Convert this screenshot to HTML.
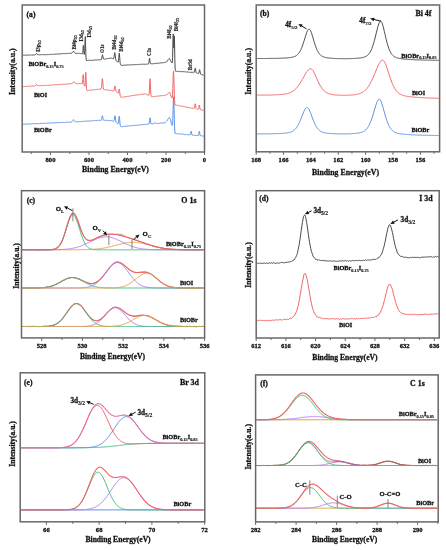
<!DOCTYPE html>
<html><head><meta charset="utf-8"><style>
html,body{margin:0;padding:0;background:#fff;}
svg{display:block;font-family:"Liberation Serif", serif;}
svg{will-change:transform;}
</style></head><body>
<svg width="446" height="550" viewBox="0 0 446 550">
<rect width="446" height="550" fill="#fff"/>
<path d="M22.8,124.2L23.1,124.3L23.3,124.2L23.6,124.3L23.8,124.3L24.1,124.1L24.3,124.1L24.6,124.3L24.8,124.1L25.1,124.1L25.3,124.3L25.6,124.1L25.8,124.2L26.1,124.1L26.3,124.1L26.6,124.0L26.8,124.1L27.1,124.2L27.3,124.1L27.6,124.1L27.8,124.1L28.1,123.9L28.3,124.1L28.6,124.0L28.8,123.9L29.1,123.8L29.3,124.1L29.6,124.0L29.8,124.0L30.1,124.1L30.3,124.0L30.6,124.0L30.8,123.9L31.1,124.0L31.3,123.9L31.6,124.0L31.8,124.0L32.0,123.7L32.3,123.7L32.5,123.7L32.8,124.0L33.0,123.8L33.3,123.8L33.5,123.7L33.8,123.8L34.0,123.7L34.3,123.7L34.5,123.8L34.8,123.7L35.0,123.8L35.3,123.8L35.5,123.8L35.8,123.8L36.0,123.8L36.3,123.7L36.5,123.5L36.8,123.7L37.0,123.8L37.3,123.7L37.5,123.6L37.8,123.7L38.0,123.5L38.3,123.7L38.5,123.6L38.8,123.5L39.0,123.4L39.3,123.6L39.5,123.7L39.8,123.4L40.0,123.6L40.3,123.4L40.5,123.4L40.8,123.4L41.0,123.5L41.3,123.5L41.5,123.3L41.8,123.4L42.0,123.3L42.3,123.5L42.5,123.3L42.8,123.5L43.0,123.5L43.3,123.3L43.5,123.5L43.8,123.3L44.0,123.2L44.3,123.3L44.5,123.1L44.8,123.2L45.0,123.2L45.3,123.3L45.5,123.1L45.8,123.1L46.0,123.3L46.3,123.1L46.5,123.3L46.8,123.3L47.0,123.1L47.3,123.1L47.5,123.2L47.8,123.2L48.0,123.2L48.3,123.1L48.5,123.1L48.8,123.2L49.0,123.1L49.3,123.0L49.5,123.1L49.8,123.0L50.0,123.0L50.3,123.2L50.5,123.0L50.8,123.0L51.0,122.8L51.3,123.0L51.5,123.0L51.8,122.8L52.0,123.0L52.3,123.0L52.5,122.8L52.8,122.9L53.0,122.9L53.3,122.9L53.5,122.8L53.8,122.9L54.0,122.9L54.3,122.7L54.5,122.7L54.8,122.9L55.0,122.9L55.3,122.7L55.5,122.8L55.8,122.8L56.0,122.7L56.3,122.7L56.5,122.7L56.8,122.7L57.0,122.7L57.3,122.6L57.5,122.7L57.8,122.8L58.0,122.5L58.3,122.7L58.5,122.7L58.8,122.6L59.0,122.5L59.3,122.7L59.5,122.5L59.8,122.5L60.0,122.6L60.3,122.6L60.5,122.4L60.8,122.5L61.0,122.5L61.3,122.6L61.5,122.5L61.8,122.6L62.0,122.4L62.3,122.4L62.5,122.5L62.8,122.6L63.0,122.4L63.3,122.4L63.5,122.3L63.8,122.4L64.0,122.3L64.3,122.5L64.5,122.5L64.8,122.3L65.0,122.3L65.3,122.4L65.5,122.4L65.8,122.4L66.0,122.3L66.3,122.2L66.5,122.2L66.8,122.4L67.0,122.2L67.3,122.2L67.5,122.2L67.8,122.2L68.0,122.2L68.3,122.3L68.5,122.1L68.8,122.0L69.0,122.3L69.3,122.3L69.5,122.3L69.8,122.1L70.0,122.3L70.3,122.2L70.5,122.0L70.8,122.2L71.0,122.2L71.3,122.1L71.5,122.0L71.8,121.8L72.0,121.6L72.3,121.2L72.5,120.8L72.8,120.5L73.0,120.1L73.3,119.9L73.5,119.6L73.8,120.0L74.0,120.3L74.3,120.7L74.5,121.1L74.8,121.4L75.0,121.6L75.3,121.5L75.5,121.8L75.8,121.7L76.0,121.7L76.3,121.8L76.5,121.8L76.8,121.7L77.0,121.9L77.3,121.8L77.5,121.7L77.8,121.6L78.0,121.8L78.3,121.7L78.5,121.7L78.8,121.6L79.0,121.5L79.3,121.6L79.5,121.7L79.8,121.5L80.0,121.6L80.3,121.7L80.5,121.6L80.8,121.6L81.0,121.3L81.3,121.5L81.5,121.6L81.8,121.3L82.0,121.4L82.3,121.3L82.5,121.4L82.8,121.4L83.0,121.4L83.3,121.4L83.5,121.2L83.8,121.2L84.0,121.2L84.3,121.2L84.5,121.1L84.8,121.4L85.0,121.3L85.3,121.1L85.5,121.2L85.8,121.1L86.0,121.1L86.3,121.1L86.5,121.2L86.8,121.2L87.0,121.1L87.3,121.0L87.5,121.0L87.8,121.0L88.0,121.1L88.3,121.1L88.5,121.0L88.8,120.9L89.0,120.9L89.3,120.9L89.5,121.0L89.8,121.0L90.0,120.9L90.3,121.0L90.5,120.9L90.8,120.9L91.0,120.8L91.3,120.8L91.5,120.9L91.8,120.8L92.0,120.9L92.3,120.8L92.5,120.7L92.8,120.8L93.0,120.8L93.3,120.6L93.5,120.7L93.8,120.7L94.0,120.8L94.3,120.8L94.5,120.6L94.8,120.7L95.0,120.7L95.3,120.5L95.5,120.6L95.8,120.5L96.0,120.6L96.3,120.6L96.5,120.6L96.8,120.6L97.0,120.5L97.3,120.5L97.5,120.5L97.8,120.3L98.0,120.4L98.3,120.3L98.5,120.3L98.8,120.5L99.0,120.2L99.3,120.2L99.5,120.2L99.8,120.4L100.0,120.2L100.3,120.2L100.5,120.4L100.8,120.2L101.0,120.4L101.3,120.1L101.5,119.6L101.8,118.5L102.0,116.9L102.3,115.8L102.5,115.8L102.8,117.3L103.0,118.7L103.3,119.8L103.5,120.1L103.8,120.4L104.0,120.5L104.3,120.2L104.5,120.3L104.8,120.4L105.0,120.5L105.3,120.3L105.5,120.3L105.8,120.3L106.0,120.4L106.3,120.5L106.5,120.4L106.8,120.4L107.0,120.4L107.3,120.4L107.5,120.4L107.8,120.3L108.0,120.4L108.3,120.6L108.5,120.4L108.8,120.5L109.0,120.4L109.3,120.5L109.5,120.6L109.8,120.5L110.0,120.5L110.3,120.5L110.5,120.5L110.8,120.6L111.0,120.4L111.3,120.5L111.5,120.8L111.8,121.0L112.0,120.9L112.3,121.0L112.5,121.2L112.8,121.2L113.0,121.3L113.3,121.3L113.5,121.5L113.8,121.2L114.0,120.6L114.3,119.5L114.5,117.8L114.8,116.0L115.0,115.8L115.3,116.8L115.5,119.0L115.8,120.7L116.0,121.8L116.3,122.4L116.5,122.6L116.8,122.9L117.0,123.0L117.3,123.2L117.5,123.5L117.8,123.7L118.0,123.9L118.3,123.3L118.5,122.3L118.8,119.8L119.0,117.2L119.3,116.1L119.5,117.7L119.8,120.8L120.0,123.6L120.3,125.3L120.5,126.2L120.8,126.6L121.0,126.7L121.3,126.7L121.5,126.8L121.8,126.6L122.0,126.5L122.3,126.5L122.5,126.6L122.8,126.6L123.0,126.6L123.3,126.6L123.5,126.4L123.8,126.3L124.0,126.3L124.3,126.3L124.5,126.4L124.8,126.4L125.0,126.4L125.3,126.2L125.5,126.4L125.8,126.2L126.0,126.2L126.3,126.3L126.5,126.0L126.8,126.0L127.0,126.2L127.3,126.0L127.5,126.0L127.8,126.1L128.1,126.1L128.3,125.9L128.6,125.9L128.8,125.9L129.1,125.9L129.3,125.8L129.6,125.9L129.8,126.0L130.1,125.8L130.3,125.8L130.6,125.7L130.8,125.7L131.1,125.8L131.3,125.6L131.6,125.8L131.8,125.8L132.1,125.5L132.3,125.7L132.6,125.6L132.8,125.7L133.1,125.6L133.3,125.5L133.6,125.6L133.8,125.5L134.1,125.5L134.3,125.4L134.6,125.5L134.8,125.5L135.1,125.4L135.3,125.3L135.6,125.2L135.8,125.3L136.1,125.2L136.3,125.3L136.6,125.3L136.8,125.2L137.1,125.1L137.3,125.2L137.6,125.2L137.8,125.0L138.1,125.2L138.3,125.1L138.6,124.9L138.8,125.1L139.1,124.9L139.3,124.9L139.6,125.0L139.8,124.9L140.1,124.9L140.3,124.9L140.6,124.8L140.8,124.7L141.1,124.7L141.3,124.6L141.6,124.8L141.8,124.8L142.1,124.7L142.3,124.7L142.6,124.6L142.8,124.5L143.1,124.6L143.3,124.7L143.6,124.4L143.8,124.5L144.1,124.4L144.3,124.5L144.6,124.4L144.8,124.4L145.1,124.4L145.3,124.4L145.6,124.4L145.8,124.3L146.1,124.4L146.3,124.2L146.6,124.2L146.8,124.1L147.1,124.1L147.3,124.3L147.6,124.3L147.8,124.1L148.1,124.1L148.3,124.1L148.6,124.2L148.8,124.1L149.1,123.8L149.3,122.7L149.6,120.6L149.8,118.4L150.1,117.7L150.3,119.2L150.6,121.5L150.8,123.0L151.1,123.6L151.3,123.9L151.6,123.7L151.8,123.9L152.1,124.0L152.3,124.0L152.6,123.8L152.8,123.8L153.1,123.8L153.3,123.8L153.6,123.8L153.8,123.6L154.1,123.4L154.3,123.4L154.6,123.0L154.8,122.9L155.1,122.9L155.3,122.7L155.6,123.1L155.8,123.3L156.1,123.3L156.3,123.4L156.6,123.4L156.8,123.4L157.1,123.4L157.3,123.3L157.6,123.4L157.8,123.4L158.1,123.3L158.3,123.4L158.6,123.5L158.8,123.4L159.1,123.2L159.3,123.3L159.6,123.3L159.8,123.1L160.1,123.2L160.3,123.1L160.6,123.0L160.8,123.1L161.1,123.2L161.3,123.0L161.6,123.2L161.8,123.1L162.1,122.9L162.3,123.1L162.6,123.0L162.8,123.1L163.1,123.0L163.3,123.0L163.6,122.9L163.8,123.0L164.1,123.0L164.3,123.0L164.6,122.8L164.8,122.9L165.1,122.7L165.3,122.4L165.6,122.1L165.8,121.9L166.1,121.7L166.3,121.5L166.6,121.3L166.8,121.1L167.1,120.7L167.3,120.3L167.6,119.9L167.8,119.3L168.1,118.8L168.3,118.6L168.6,118.2L168.8,117.8L169.1,117.8L169.3,117.7L169.6,117.7L169.8,118.1L170.1,118.6L170.3,119.3L170.6,120.0L170.8,121.1L171.1,122.2L171.3,123.4L171.6,124.1L171.8,124.9L172.1,125.4L172.3,125.2L172.6,123.4L172.8,118.6L173.1,110.3L173.3,101.4L173.6,96.8L173.8,99.9L174.1,109.1L174.3,119.2L174.6,126.8L174.8,131.2L175.1,133.1L175.3,133.6L175.6,133.5L175.8,133.6L176.1,133.7L176.3,133.6L176.6,133.9L176.8,133.7L177.1,133.7L177.3,133.8L177.6,133.7L177.8,133.9L178.1,133.8L178.3,133.8L178.6,133.8L178.8,134.0L179.1,133.9L179.3,134.1L179.6,134.0L179.8,134.1L180.1,134.0L180.3,134.0L180.6,134.0L180.8,134.2L181.1,134.2L181.3,134.1L181.6,134.0L181.8,134.2L182.1,134.3L182.3,134.3L182.6,134.1L182.8,134.1L183.1,134.2L183.3,134.2L183.6,134.2L183.8,134.2L184.1,134.4L184.3,134.5L184.6,134.3L184.8,134.6L185.1,134.5L185.3,134.6L185.6,134.6L185.8,134.7L186.1,134.4L186.3,134.5L186.6,134.6L186.8,134.8L187.1,134.5L187.3,134.6L187.6,134.8L187.8,134.6L188.1,134.7L188.3,134.7L188.6,134.8L188.8,134.9L189.1,134.7L189.3,134.9L189.6,134.9L189.8,135.0L190.1,134.8L190.3,134.6L190.6,133.5L190.8,132.2L191.1,131.3L191.3,131.9L191.6,133.1L191.8,134.2L192.1,134.8L192.3,135.1L192.6,135.1L192.8,135.2L193.1,135.1L193.3,135.2L193.6,135.1L193.8,135.3L194.1,135.1L194.3,135.3L194.6,135.4L194.8,135.4L195.1,135.2L195.3,135.3L195.6,135.5L195.8,135.4L196.1,135.5L196.3,135.5L196.6,135.4L196.8,135.6L197.1,135.6L197.3,135.5L197.6,135.5L197.8,135.4L198.1,135.5L198.3,135.6L198.6,134.8L198.8,133.7L199.1,132.0L199.3,131.3L199.6,132.2L199.8,133.7L200.1,134.9L200.3,135.5L200.6,135.8L200.8,135.8L201.1,135.7L201.3,135.8L201.6,136.0L201.8,135.8L202.1,136.0L202.3,135.9L202.6,136.1L202.8,136.0L203.1,136.1L203.3,136.1L203.6,136.0L203.8,136.0" fill="none" stroke="#5b8fe6" stroke-width="1.0" stroke-linejoin="round" opacity="1.0"/>
<path d="M22.8,86.4L23.1,86.6L23.3,86.4L23.6,86.4L23.8,86.6L24.1,86.4L24.3,86.6L24.6,86.3L24.8,86.4L25.1,86.4L25.3,86.5L25.6,86.5L25.8,86.5L26.1,86.5L26.3,86.5L26.6,86.3L26.8,86.4L27.1,86.3L27.3,86.2L27.6,86.4L27.8,86.3L28.1,86.4L28.3,86.2L28.6,86.3L28.8,86.2L29.1,86.3L29.3,86.1L29.6,86.2L29.8,86.2L30.1,86.1L30.3,86.2L30.6,86.2L30.8,86.1L31.1,86.2L31.3,86.2L31.6,86.0L31.8,86.1L32.0,86.2L32.3,86.0L32.5,86.1L32.8,85.9L33.0,86.0L33.3,85.9L33.5,86.2L33.8,86.1L34.0,86.1L34.3,86.1L34.5,86.0L34.8,86.1L35.0,85.9L35.3,85.7L35.5,85.6L35.8,85.3L36.0,84.9L36.3,84.5L36.5,84.5L36.8,84.5L37.0,85.0L37.3,85.3L37.5,85.4L37.8,85.8L38.0,85.6L38.3,85.6L38.5,85.8L38.8,85.7L39.0,85.8L39.3,85.8L39.5,85.6L39.8,85.8L40.0,85.6L40.3,85.7L40.5,85.6L40.8,85.7L41.0,85.7L41.3,85.6L41.5,85.5L41.8,85.5L42.0,85.6L42.3,85.5L42.5,85.5L42.8,85.6L43.0,85.6L43.3,85.7L43.5,85.7L43.8,85.6L44.0,85.5L44.3,85.4L44.5,85.4L44.8,85.4L45.0,85.5L45.3,85.4L45.5,85.4L45.8,85.5L46.0,85.3L46.3,85.4L46.5,85.5L46.8,85.5L47.0,85.3L47.3,85.3L47.5,85.4L47.8,85.2L48.0,85.2L48.3,85.3L48.5,85.3L48.8,85.2L49.0,85.1L49.3,85.1L49.5,85.3L49.8,85.2L50.0,85.3L50.3,85.3L50.5,85.3L50.8,85.0L51.0,85.0L51.3,85.0L51.5,85.1L51.8,85.0L52.0,84.9L52.3,85.1L52.5,84.9L52.8,84.9L53.0,84.9L53.3,85.1L53.5,84.9L53.8,84.9L54.0,84.8L54.3,84.9L54.5,84.9L54.8,84.9L55.0,85.0L55.3,84.9L55.5,84.7L55.8,84.7L56.0,84.9L56.3,84.8L56.5,84.7L56.8,84.8L57.0,84.7L57.3,84.6L57.5,84.6L57.8,84.5L58.0,84.7L58.3,84.7L58.5,84.7L58.8,84.6L59.0,84.6L59.3,84.7L59.5,84.6L59.8,84.5L60.0,84.5L60.3,84.5L60.5,84.4L60.8,84.4L61.0,84.5L61.3,84.6L61.5,84.4L61.8,84.4L62.0,84.3L62.3,84.3L62.5,84.4L62.8,84.3L63.0,84.4L63.3,84.2L63.5,84.2L63.8,84.2L64.0,84.2L64.3,84.3L64.5,84.3L64.8,84.3L65.0,84.2L65.3,84.0L65.5,84.1L65.8,84.1L66.0,84.1L66.3,84.0L66.5,84.1L66.8,84.2L67.0,83.9L67.3,84.0L67.5,83.9L67.8,84.0L68.0,84.1L68.3,84.1L68.5,84.0L68.8,83.8L69.0,84.0L69.3,83.8L69.5,83.8L69.8,83.9L70.0,83.8L70.3,83.7L70.5,83.9L70.8,83.9L71.0,83.7L71.3,83.7L71.5,83.6L71.8,83.5L72.0,83.5L72.3,83.5L72.5,83.1L72.8,82.8L73.0,82.5L73.3,82.1L73.5,82.0L73.8,81.9L74.0,81.9L74.3,82.1L74.5,82.4L74.8,82.5L75.0,82.9L75.3,83.3L75.5,83.3L75.8,83.4L76.0,83.5L76.3,83.5L76.5,83.6L76.8,83.5L77.0,83.5L77.3,83.7L77.5,83.5L77.8,83.7L78.0,83.5L78.3,83.7L78.5,83.7L78.8,83.6L79.0,83.5L79.3,83.5L79.5,83.7L79.8,83.5L80.0,83.5L80.3,83.7L80.5,83.7L80.8,83.5L81.0,83.7L81.3,83.6L81.5,83.6L81.8,83.5L82.0,83.6L82.3,83.8L82.5,82.8L82.8,79.7L83.0,75.1L83.3,74.6L83.5,79.2L83.8,83.2L84.0,84.3L84.3,85.0L84.5,85.7L84.8,86.2L85.0,85.8L85.3,82.3L85.5,75.8L85.8,72.3L86.0,76.9L86.3,84.5L86.5,88.6L86.8,89.9L87.0,90.5L87.3,90.6L87.5,90.6L87.8,90.5L88.0,90.5L88.3,90.5L88.5,90.4L88.8,90.4L89.0,90.4L89.3,90.2L89.5,90.3L89.8,90.4L90.0,90.3L90.3,90.1L90.5,90.3L90.8,90.2L91.0,90.0L91.3,90.0L91.5,90.0L91.8,89.9L92.0,90.1L92.3,89.9L92.5,90.0L92.8,89.8L93.0,89.7L93.3,89.9L93.5,89.9L93.8,89.9L94.0,89.8L94.3,89.7L94.5,89.8L94.8,89.5L95.0,89.6L95.3,89.6L95.5,89.4L95.8,89.5L96.0,89.4L96.3,89.5L96.5,89.4L96.8,89.3L97.0,89.3L97.3,89.4L97.5,89.4L97.8,89.4L98.0,89.3L98.3,89.3L98.5,89.1L98.8,89.3L99.0,89.0L99.3,89.0L99.5,89.1L99.8,89.1L100.0,89.0L100.3,89.1L100.5,89.0L100.8,89.2L101.0,89.0L101.3,88.6L101.5,87.4L101.8,84.8L102.0,81.3L102.3,78.6L102.5,78.9L102.8,82.0L103.0,85.4L103.3,87.9L103.5,89.2L103.8,89.5L104.0,89.4L104.3,89.7L104.5,89.6L104.8,89.8L105.0,89.6L105.3,89.6L105.5,89.8L105.8,89.9L106.0,89.8L106.3,90.0L106.5,89.9L106.8,89.9L107.0,89.9L107.3,90.0L107.5,90.0L107.8,90.0L108.0,90.1L108.3,90.2L108.5,90.2L108.8,90.1L109.0,90.1L109.3,90.2L109.5,90.3L109.8,90.2L110.0,90.2L110.3,90.3L110.5,90.3L110.8,90.3L111.0,90.5L111.3,90.6L111.5,90.6L111.8,90.6L112.0,90.7L112.3,90.8L112.5,90.9L112.8,90.8L113.0,90.9L113.3,90.8L113.5,91.1L113.8,90.8L114.0,90.3L114.3,89.3L114.5,87.6L114.8,86.2L115.0,86.1L115.3,87.0L115.5,88.5L115.8,90.0L116.0,91.1L116.3,91.5L116.5,91.9L116.8,91.8L117.0,92.0L117.3,92.4L117.5,92.7L117.8,93.0L118.0,93.3L118.3,93.3L118.5,92.6L118.8,91.1L119.0,89.8L119.3,89.2L119.5,90.2L119.8,92.5L120.0,94.7L120.3,96.1L120.5,96.5L120.8,97.0L121.0,97.4L121.3,97.3L121.5,97.4L121.8,97.4L122.0,97.2L122.3,97.2L122.5,97.2L122.8,97.2L123.0,97.0L123.3,97.0L123.5,96.9L123.8,97.0L124.0,96.8L124.3,97.0L124.5,96.9L124.8,96.9L125.0,96.7L125.3,96.7L125.5,96.7L125.8,96.8L126.0,96.7L126.3,96.5L126.5,96.7L126.8,96.6L127.0,96.5L127.3,96.4L127.5,96.4L127.8,96.5L128.1,96.2L128.3,96.3L128.6,96.3L128.8,96.2L129.1,96.3L129.3,96.3L129.6,96.2L129.8,96.2L130.1,96.0L130.3,95.9L130.6,95.9L130.8,95.9L131.1,95.8L131.3,96.0L131.6,95.7L131.8,95.9L132.1,95.9L132.3,95.6L132.6,95.8L132.8,95.6L133.1,95.5L133.3,95.5L133.6,95.4L133.8,95.5L134.1,95.4L134.3,95.5L134.6,95.5L134.8,95.2L135.1,95.3L135.3,95.2L135.6,95.1L135.8,95.1L136.1,95.1L136.3,95.2L136.6,95.0L136.8,94.9L137.1,94.9L137.3,94.9L137.6,94.9L137.8,94.8L138.1,94.9L138.3,94.7L138.6,94.8L138.8,94.8L139.1,94.6L139.3,94.7L139.6,94.6L139.8,94.6L140.1,94.6L140.3,94.5L140.6,94.5L140.8,94.3L141.1,94.5L141.3,94.5L141.6,94.3L141.8,94.3L142.1,94.2L142.3,94.3L142.6,94.2L142.8,94.0L143.1,94.2L143.3,94.2L143.6,94.0L143.8,94.1L144.1,93.9L144.3,93.8L144.6,93.9L144.8,93.8L145.1,93.9L145.3,93.9L145.6,93.9L145.8,94.1L146.1,94.3L146.3,94.3L146.6,94.4L146.8,94.6L147.1,94.6L147.3,94.7L147.6,94.8L147.8,95.0L148.1,94.9L148.3,95.0L148.6,95.3L148.8,95.2L149.1,94.4L149.3,91.9L149.6,86.5L149.8,80.4L150.1,78.7L150.3,82.9L150.6,89.4L150.8,93.8L151.1,95.7L151.3,96.4L151.6,96.7L151.8,96.7L152.1,96.8L152.3,96.8L152.6,96.7L152.8,96.8L153.1,96.7L153.3,96.6L153.6,96.5L153.8,96.6L154.1,96.5L154.3,96.6L154.6,96.4L154.8,96.4L155.1,96.4L155.3,96.4L155.6,96.4L155.8,96.2L156.1,96.2L156.3,96.3L156.6,96.2L156.8,96.2L157.1,96.1L157.3,96.1L157.6,96.2L157.8,96.3L158.1,96.2L158.3,96.1L158.6,96.0L158.8,95.9L159.1,95.9L159.3,95.9L159.6,96.1L159.8,95.8L160.1,96.0L160.3,95.8L160.6,95.8L160.8,95.7L161.1,95.9L161.3,95.6L161.6,95.7L161.8,95.7L162.1,95.6L162.3,95.5L162.6,95.7L162.8,95.6L163.1,95.6L163.3,95.6L163.6,95.3L163.8,95.5L164.1,95.5L164.3,95.3L164.6,95.3L164.8,95.5L165.1,95.2L165.3,95.3L165.6,95.0L165.8,95.1L166.1,94.8L166.3,94.8L166.6,94.7L166.8,94.7L167.1,94.5L167.3,94.3L167.6,94.1L167.8,93.7L168.1,93.5L168.3,93.2L168.6,93.0L168.8,92.8L169.1,92.6L169.3,92.4L169.6,92.5L169.8,92.9L170.1,93.1L170.3,94.0L170.6,94.7L170.8,95.6L171.1,96.3L171.3,96.9L171.6,97.4L171.8,97.8L172.1,98.1L172.3,97.4L172.6,94.7L172.8,88.5L173.1,80.0L173.3,72.8L173.6,71.1L173.8,76.5L174.1,86.1L174.3,94.8L174.6,100.6L174.8,103.6L175.1,104.8L175.3,104.9L175.6,105.0L175.8,105.2L176.1,105.3L176.3,105.1L176.6,105.1L176.8,105.2L177.1,105.5L177.3,105.4L177.6,105.5L177.8,105.7L178.1,105.6L178.3,105.5L178.6,105.7L178.8,105.6L179.1,105.7L179.3,105.9L179.6,105.7L179.8,105.8L180.1,105.9L180.3,105.9L180.6,106.2L180.8,106.0L181.1,106.2L181.3,106.1L181.6,106.3L181.8,106.2L182.1,106.4L182.3,106.3L182.6,106.3L182.8,106.4L183.1,106.6L183.3,106.5L183.6,106.5L183.8,106.6L184.1,106.6L184.3,106.7L184.6,106.8L184.8,106.8L185.1,106.9L185.3,106.9L185.6,106.8L185.8,106.9L186.1,107.0L186.3,107.0L186.6,107.2L186.8,107.1L187.1,107.3L187.3,107.3L187.6,107.4L187.8,107.5L188.1,107.4L188.3,107.5L188.6,107.5L188.8,107.4L189.1,107.7L189.3,107.7L189.6,107.6L189.8,107.9L190.1,107.8L190.3,107.9L190.6,107.9L190.8,107.8L191.1,108.1L191.3,107.9L191.6,108.0L191.8,108.3L192.1,108.1L192.3,108.2L192.6,108.3L192.8,108.2L193.1,108.5L193.3,108.4L193.6,108.3L193.8,108.5L194.1,108.3L194.3,108.2L194.6,107.4L194.8,105.7L195.1,103.8L195.3,103.8L195.6,105.2L195.8,107.2L196.1,108.3L196.3,108.8L196.6,108.9L196.8,109.1L197.1,109.0L197.3,109.3L197.6,109.1L197.8,109.4L198.1,109.2L198.3,109.0L198.6,108.7L198.8,107.4L199.1,105.9L199.3,105.0L199.6,105.9L199.8,107.4L200.1,108.9L200.3,109.5L200.6,109.9L200.8,109.7L201.1,109.7L201.3,110.0L201.6,110.1L201.8,110.0L202.1,110.1L202.3,110.1L202.6,110.1L202.8,110.2L203.1,110.3L203.3,110.1L203.6,110.3L203.8,110.4" fill="none" stroke="#f26464" stroke-width="1.0" stroke-linejoin="round" opacity="1.0"/>
<path d="M22.8,55.2L23.1,55.3L23.3,55.2L23.6,55.2L23.8,55.3L24.1,55.3L24.3,55.4L24.6,55.2L24.8,55.1L25.1,55.2L25.3,55.1L25.6,55.1L25.8,55.2L26.1,55.2L26.3,55.1L26.6,55.1L26.8,55.0L27.1,55.1L27.3,55.1L27.6,55.1L27.8,55.2L28.1,55.1L28.3,55.1L28.6,55.1L28.8,55.0L29.1,55.2L29.3,55.2L29.6,55.0L29.8,55.1L30.1,55.0L30.3,55.0L30.6,55.0L30.8,55.0L31.1,55.1L31.3,55.1L31.6,55.1L31.8,54.9L32.0,55.1L32.3,55.0L32.5,55.0L32.8,55.0L33.0,55.0L33.3,54.9L33.5,54.9L33.8,55.0L34.0,55.0L34.3,55.1L34.5,54.8L34.8,55.0L35.0,54.9L35.3,54.8L35.5,54.6L35.8,54.0L36.0,53.8L36.3,53.6L36.5,53.3L36.8,53.6L37.0,54.0L37.3,54.2L37.5,54.6L37.8,54.8L38.0,54.8L38.3,54.7L38.5,54.7L38.8,54.9L39.0,54.8L39.3,54.8L39.5,54.8L39.8,54.9L40.0,54.7L40.3,54.6L40.5,54.9L40.8,54.7L41.0,54.7L41.3,54.9L41.5,54.7L41.8,54.6L42.0,54.8L42.3,54.6L42.5,54.6L42.8,54.8L43.0,54.6L43.3,54.8L43.5,54.6L43.8,54.6L44.0,54.6L44.3,54.7L44.5,54.7L44.8,54.6L45.0,54.6L45.3,54.6L45.5,54.7L45.8,54.8L46.0,54.7L46.3,54.7L46.5,54.5L46.8,54.5L47.0,54.5L47.3,54.5L47.5,54.7L47.8,54.7L48.0,54.7L48.3,54.6L48.5,54.4L48.8,54.5L49.0,54.4L49.3,54.6L49.5,54.4L49.8,54.4L50.0,54.6L50.3,54.4L50.5,54.6L50.8,54.4L51.0,54.5L51.3,54.3L51.5,54.5L51.8,54.4L52.0,54.3L52.3,54.4L52.5,54.4L52.8,54.3L53.0,54.2L53.3,54.3L53.5,54.1L53.8,54.4L54.0,54.2L54.3,54.1L54.5,54.2L54.8,54.1L55.0,54.1L55.3,54.2L55.5,54.1L55.8,54.1L56.0,54.1L56.3,54.1L56.5,54.2L56.8,54.1L57.0,54.2L57.3,54.1L57.5,53.9L57.8,53.9L58.0,54.1L58.3,54.0L58.5,54.0L58.8,54.0L59.0,54.1L59.3,53.9L59.5,53.9L59.8,53.9L60.0,53.8L60.3,53.9L60.5,53.9L60.8,53.9L61.0,53.8L61.3,53.8L61.5,53.9L61.8,53.7L62.0,53.9L62.3,53.6L62.5,53.9L62.8,53.6L63.0,53.8L63.3,53.6L63.5,53.6L63.8,53.7L64.0,53.8L64.3,53.7L64.5,53.7L64.8,53.8L65.0,53.5L65.3,53.5L65.5,53.4L65.8,53.6L66.0,53.5L66.3,53.6L66.5,53.6L66.8,53.6L67.0,53.5L67.3,53.6L67.5,53.5L67.8,53.3L68.0,53.5L68.3,53.3L68.5,53.3L68.8,53.5L69.0,53.3L69.3,53.4L69.5,53.2L69.8,53.2L70.0,53.4L70.3,53.2L70.5,53.3L70.8,53.4L71.0,53.2L71.3,53.3L71.5,53.3L71.8,53.1L72.0,53.0L72.3,52.7L72.5,52.1L72.8,51.8L73.0,51.5L73.3,51.4L73.5,51.1L73.8,51.4L74.0,51.5L74.3,52.2L74.5,52.4L74.8,52.8L75.0,53.1L75.3,53.1L75.5,53.4L75.8,53.5L76.0,53.5L76.3,53.4L76.5,53.3L76.8,53.3L77.0,53.6L77.3,53.4L77.5,53.4L77.8,53.5L78.0,53.5L78.3,53.4L78.5,53.4L78.8,53.6L79.0,53.6L79.3,53.4L79.5,53.4L79.8,53.6L80.0,53.6L80.3,53.6L80.5,53.5L80.8,53.7L81.0,53.6L81.3,53.6L81.5,53.6L81.8,53.7L82.0,53.8L82.3,53.7L82.5,53.8L82.8,52.7L83.0,49.3L83.3,45.4L83.5,46.0L83.8,50.3L84.0,53.3L84.3,54.5L84.5,54.1L84.8,50.0L85.0,41.2L85.3,36.5L85.5,42.6L85.8,52.7L86.0,57.9L86.3,59.9L86.5,60.6L86.8,60.6L87.0,60.5L87.3,60.5L87.5,60.4L87.8,60.5L88.0,60.5L88.3,60.3L88.5,60.4L88.8,60.4L89.0,60.6L89.3,60.4L89.5,60.4L89.8,60.3L90.0,60.4L90.3,60.5L90.5,60.4L90.8,60.2L91.0,60.3L91.3,60.3L91.5,60.2L91.8,60.4L92.0,60.2L92.3,60.2L92.5,60.3L92.8,60.3L93.0,60.2L93.3,60.3L93.5,60.2L93.8,60.1L94.0,60.0L94.3,60.2L94.5,60.1L94.8,60.1L95.0,60.0L95.3,59.9L95.5,59.9L95.8,59.9L96.0,59.9L96.3,60.1L96.5,60.0L96.8,59.9L97.0,60.0L97.3,60.0L97.5,59.8L97.8,60.0L98.0,59.8L98.3,60.0L98.5,59.8L98.8,59.8L99.0,59.8L99.3,60.0L99.5,59.9L99.8,59.8L100.0,59.7L100.3,59.7L100.5,59.8L100.8,59.5L101.0,59.7L101.3,59.6L101.5,59.2L101.8,58.2L102.0,56.7L102.3,55.4L102.5,54.7L102.8,55.6L103.0,57.0L103.3,58.2L103.5,59.0L103.8,59.0L104.0,59.2L104.3,59.1L104.5,59.2L104.8,59.1L105.0,59.0L105.3,59.0L105.5,58.8L105.8,58.8L106.0,58.8L106.3,58.7L106.5,58.8L106.8,58.8L107.0,58.7L107.3,58.7L107.5,58.6L107.8,58.5L108.0,58.5L108.3,58.5L108.5,58.5L108.8,58.3L109.0,58.3L109.3,58.3L109.5,58.2L109.8,58.3L110.0,58.0L110.3,58.2L110.5,58.1L110.8,57.9L111.0,58.0L111.3,58.1L111.5,58.3L111.8,58.3L112.0,58.3L112.3,58.4L112.5,58.5L112.8,58.3L113.0,58.6L113.3,58.7L113.5,58.7L113.8,58.2L114.0,56.9L114.3,55.0L114.5,53.3L114.8,52.5L115.0,53.7L115.3,55.8L115.5,58.1L115.8,59.6L116.0,60.4L116.3,61.0L116.5,61.2L116.8,61.3L117.0,61.6L117.3,61.8L117.5,62.1L117.8,62.2L118.0,62.2L118.3,62.0L118.5,60.5L118.8,57.6L119.0,54.4L119.3,53.1L119.5,55.0L119.8,58.6L120.0,61.8L120.3,63.7L120.5,64.7L120.8,65.1L121.0,65.3L121.3,65.3L121.5,65.3L121.8,65.3L122.0,65.3L122.3,65.4L122.5,65.1L122.8,65.2L123.0,65.3L123.3,65.2L123.5,65.2L123.8,65.3L124.0,65.0L124.3,65.2L124.5,65.2L124.8,65.2L125.0,65.1L125.3,65.1L125.5,65.0L125.8,65.1L126.0,65.0L126.3,65.2L126.5,65.1L126.8,65.0L127.0,65.1L127.3,65.0L127.5,65.0L127.8,64.9L128.1,65.1L128.3,65.1L128.6,65.0L128.8,64.8L129.1,65.0L129.3,64.8L129.6,64.9L129.8,64.9L130.1,64.8L130.3,64.9L130.6,65.0L130.8,64.9L131.1,64.8L131.3,64.9L131.6,64.8L131.8,64.9L132.1,64.8L132.3,64.7L132.6,64.9L132.8,64.6L133.1,64.7L133.3,64.8L133.6,64.6L133.8,64.7L134.1,64.8L134.3,64.7L134.6,64.6L134.8,64.8L135.1,64.8L135.3,64.7L135.6,64.7L135.8,64.6L136.1,64.6L136.3,64.8L136.6,64.7L136.8,64.4L137.1,64.5L137.3,64.5L137.6,64.6L137.8,64.5L138.1,64.4L138.3,64.6L138.6,64.4L138.8,64.6L139.1,64.5L139.3,64.6L139.6,64.6L139.8,64.4L140.1,64.5L140.3,64.4L140.6,64.3L140.8,64.3L141.1,64.5L141.3,64.4L141.6,64.3L141.8,64.5L142.1,64.3L142.3,64.3L142.6,64.2L142.8,64.3L143.1,64.4L143.3,64.3L143.6,64.2L143.8,64.2L144.1,64.3L144.3,64.2L144.6,64.4L144.8,64.1L145.1,64.3L145.3,64.2L145.6,64.3L145.8,64.1L146.1,64.0L146.3,64.1L146.6,64.2L146.8,64.0L147.1,64.0L147.3,64.2L147.6,64.2L147.8,64.2L148.1,64.2L148.3,64.0L148.6,63.8L148.8,62.9L149.1,61.0L149.3,58.9L149.6,58.1L149.8,59.5L150.1,61.7L150.3,63.2L150.6,63.6L150.8,64.0L151.1,63.9L151.3,63.9L151.6,64.0L151.8,63.7L152.1,63.9L152.3,63.9L152.6,63.7L152.8,63.6L153.1,63.8L153.3,63.8L153.6,63.7L153.8,63.6L154.1,63.6L154.3,63.5L154.6,63.5L154.8,63.5L155.1,63.6L155.3,63.3L155.6,63.6L155.8,63.3L156.1,63.5L156.3,63.3L156.6,63.4L156.8,63.4L157.1,63.4L157.3,63.3L157.6,63.3L157.8,63.2L158.1,63.3L158.3,63.1L158.6,63.3L158.8,63.1L159.1,63.0L159.3,63.2L159.6,63.0L159.8,62.9L160.1,62.9L160.3,62.8L160.6,62.9L160.8,63.0L161.1,63.0L161.3,62.9L161.6,63.0L161.8,62.9L162.1,62.9L162.3,62.7L162.6,62.7L162.8,62.6L163.1,62.7L163.3,62.6L163.6,62.7L163.8,62.6L164.1,62.6L164.3,62.6L164.6,62.6L164.8,62.4L165.1,62.4L165.3,62.4L165.6,62.1L165.8,62.1L166.1,62.1L166.3,61.8L166.6,61.8L166.8,61.5L167.1,61.4L167.3,61.0L167.6,60.7L167.8,60.2L168.1,59.6L168.3,59.3L168.6,59.0L168.8,58.7L169.1,58.6L169.3,58.6L169.6,58.8L169.8,59.2L170.1,59.4L170.3,60.2L170.6,60.7L170.8,61.4L171.1,61.6L171.3,62.1L171.6,62.7L171.8,62.8L172.1,63.0L172.3,62.1L172.6,57.7L172.8,47.2L173.1,35.0L173.3,33.9L173.6,43.4L173.8,48.1L174.1,40.9L174.3,35.9L174.6,44.3L174.8,58.8L175.1,68.0L175.3,70.5L175.6,71.3L175.8,71.3L176.1,71.2L176.3,71.3L176.6,71.2L176.8,71.2L177.1,71.4L177.3,71.4L177.6,71.5L177.8,71.3L178.1,71.3L178.3,71.4L178.6,71.4L178.8,71.5L179.1,71.4L179.3,71.6L179.6,71.5L179.8,71.4L180.1,71.6L180.3,71.4L180.6,71.6L180.8,71.5L181.1,71.5L181.3,71.6L181.6,71.6L181.8,71.7L182.1,71.6L182.3,71.8L182.6,71.8L182.8,71.6L183.1,71.6L183.3,71.9L183.6,71.7L183.8,71.7L184.1,71.7L184.3,71.9L184.6,71.7L184.8,71.8L185.1,71.9L185.3,71.8L185.6,71.9L185.8,72.0L186.1,72.0L186.3,72.0L186.6,72.0L186.8,71.9L187.1,72.0L187.3,72.0L187.6,72.0L187.8,72.0L188.1,72.1L188.3,72.0L188.6,72.1L188.8,72.2L189.1,72.0L189.3,72.1L189.6,72.3L189.8,72.0L190.1,72.3L190.3,72.2L190.6,72.1L190.8,72.3L191.1,72.1L191.3,72.4L191.6,72.2L191.8,72.4L192.1,72.4L192.3,72.2L192.6,72.3L192.8,72.3L193.1,72.5L193.3,72.3L193.6,72.3L193.8,72.3L194.1,72.5L194.3,72.0L194.6,71.2L194.8,69.7L195.1,68.3L195.3,68.2L195.6,69.7L195.8,71.2L196.1,72.3L196.3,72.9L196.6,72.9L196.8,73.0L197.1,73.2L197.3,73.2L197.6,73.4L197.8,73.5L198.1,73.4L198.3,73.5L198.6,73.4L198.8,73.2L199.1,72.1L199.3,70.6L199.6,69.7L199.8,70.2L200.1,72.0L200.3,73.1L200.6,74.0L200.8,74.3L201.1,74.4L201.3,74.5L201.6,74.5L201.8,74.5L202.1,74.8L202.3,74.9L202.6,74.9L202.8,74.9L203.1,75.1L203.3,75.0L203.6,75.1L203.8,75.3" fill="none" stroke="#4a4a4a" stroke-width="1.0" stroke-linejoin="round" opacity="1.0"/>
<rect x="22.2" y="5" width="182.3" height="147" fill="none" stroke="#686868" stroke-width="1.5"/>
<line x1="50.50" y1="152" x2="50.50" y2="155" stroke="#686868" stroke-width="1"/>
<text x="50.50" y="162.08" font-size="6.6" text-anchor="middle" font-weight="bold" fill="#111" stroke="#111" stroke-width="0.28">800</text>
<line x1="89.00" y1="152" x2="89.00" y2="155" stroke="#686868" stroke-width="1"/>
<text x="89.00" y="162.08" font-size="6.6" text-anchor="middle" font-weight="bold" fill="#111" stroke="#111" stroke-width="0.28">600</text>
<line x1="127.50" y1="152" x2="127.50" y2="155" stroke="#686868" stroke-width="1"/>
<text x="127.50" y="162.08" font-size="6.6" text-anchor="middle" font-weight="bold" fill="#111" stroke="#111" stroke-width="0.28">400</text>
<line x1="166.00" y1="152" x2="166.00" y2="155" stroke="#686868" stroke-width="1"/>
<text x="166.00" y="162.08" font-size="6.6" text-anchor="middle" font-weight="bold" fill="#111" stroke="#111" stroke-width="0.28">200</text>
<line x1="204.50" y1="152" x2="204.50" y2="155" stroke="#686868" stroke-width="1"/>
<text x="204.50" y="162.08" font-size="6.6" text-anchor="middle" font-weight="bold" fill="#111" stroke="#111" stroke-width="0.28">0</text>
<line x1="31.25" y1="152" x2="31.25" y2="154" stroke="#686868" stroke-width="1"/>
<line x1="69.75" y1="152" x2="69.75" y2="154" stroke="#686868" stroke-width="1"/>
<line x1="108.25" y1="152" x2="108.25" y2="154" stroke="#686868" stroke-width="1"/>
<line x1="146.75" y1="152" x2="146.75" y2="154" stroke="#686868" stroke-width="1"/>
<line x1="185.25" y1="152" x2="185.25" y2="154" stroke="#686868" stroke-width="1"/>
<text x="115.50" y="172.38" font-size="7.8" text-anchor="middle" font-weight="bold" fill="#111" stroke="#111" stroke-width="0.28">Binding Energy(eV)</text>
<text x="12.50" y="74.28" font-size="7.8" text-anchor="middle" font-weight="bold" fill="#111" stroke="#111" stroke-width="0.28" transform="rotate(-90 12.5 71.7)">Intensity(a.u.)</text>
<text x="26.60" y="17.12" font-size="7.6" text-anchor="start" font-weight="bold" fill="#111" stroke="#111" stroke-width="0.28">(a)</text>
<text x="28.40" y="66.49" font-size="6.3" text-anchor="start" font-weight="bold" fill="#111" stroke="#111" stroke-width="0.28"><tspan font-size="6.3" dy="-0.00">BiOBr</tspan><tspan font-size="4.28" stroke-width="0.15" dy="1.76">0.15</tspan><tspan font-size="6.3" dy="-1.76">I</tspan><tspan font-size="4.28" stroke-width="0.15" dy="1.76">0.75</tspan></text>
<text x="33.90" y="96.59" font-size="6.3" text-anchor="start" font-weight="bold" fill="#111" stroke="#111" stroke-width="0.28"><tspan font-size="6.3" dy="-0.00">BiOI</tspan></text>
<text x="33.90" y="132.09" font-size="6.3" text-anchor="start" font-weight="bold" fill="#111" stroke="#111" stroke-width="0.28"><tspan font-size="6.3" dy="-0.00">BiOBr</tspan></text>
<text x="0" y="0" font-size="5.1" text-anchor="middle" font-weight="bold" fill="#222" stroke="#222" stroke-width="0.168" transform="translate(40.39 46.00) rotate(-90)"><tspan font-size="5.1" dy="-0.00">I3p</tspan><tspan font-size="3.31" dy="1.02">3/2</tspan></text>
<text x="0" y="0" font-size="5.1" text-anchor="middle" font-weight="bold" fill="#222" stroke="#222" stroke-width="0.168" transform="translate(75.99 42.30) rotate(-90)"><tspan font-size="5.1" dy="-0.00">Bi4p</tspan><tspan font-size="3.31" dy="1.02">3/2</tspan></text>
<text x="0" y="0" font-size="5.1" text-anchor="middle" font-weight="bold" fill="#222" stroke="#222" stroke-width="0.168" transform="translate(82.69 35.80) rotate(-90)"><tspan font-size="5.1" dy="-0.00">I3d</tspan><tspan font-size="3.31" dy="1.02">3/2</tspan></text>
<text x="0" y="0" font-size="5.1" text-anchor="middle" font-weight="bold" fill="#222" stroke="#222" stroke-width="0.168" transform="translate(90.69 31.70) rotate(-90)"><tspan font-size="5.1" dy="-0.00">I3d</tspan><tspan font-size="3.31" dy="1.02">5/2</tspan></text>
<text x="0" y="0" font-size="5.1" text-anchor="middle" font-weight="bold" fill="#222" stroke="#222" stroke-width="0.168" transform="translate(104.49 48.80) rotate(-90)"><tspan font-size="5.1" dy="-0.00">O1s</tspan></text>
<text x="0" y="0" font-size="5.1" text-anchor="middle" font-weight="bold" fill="#222" stroke="#222" stroke-width="0.168" transform="translate(115.69 42.60) rotate(-90)"><tspan font-size="5.1" dy="-0.00">Bi4d</tspan><tspan font-size="3.31" dy="1.02">3/2</tspan></text>
<text x="0" y="0" font-size="5.1" text-anchor="middle" font-weight="bold" fill="#222" stroke="#222" stroke-width="0.168" transform="translate(123.19 44.50) rotate(-90)"><tspan font-size="5.1" dy="-0.00">Bi4d</tspan><tspan font-size="3.31" dy="1.02">5/2</tspan></text>
<text x="0" y="0" font-size="5.1" text-anchor="middle" font-weight="bold" fill="#222" stroke="#222" stroke-width="0.168" transform="translate(151.19 52.00) rotate(-90)"><tspan font-size="5.1" dy="-0.00">C1s</tspan></text>
<text x="0" y="0" font-size="5.1" text-anchor="middle" font-weight="bold" fill="#222" stroke="#222" stroke-width="0.168" transform="translate(170.99 32.00) rotate(-90)"><tspan font-size="5.1" dy="-0.00">Bi4f</tspan><tspan font-size="3.31" dy="1.02">5/2</tspan></text>
<text x="0" y="0" font-size="5.1" text-anchor="middle" font-weight="bold" fill="#222" stroke="#222" stroke-width="0.168" transform="translate(178.09 24.50) rotate(-90)"><tspan font-size="5.1" dy="-0.00">Bi4f</tspan><tspan font-size="3.31" dy="1.02">7/2</tspan></text>
<text x="0" y="0" font-size="5.1" text-anchor="middle" font-weight="bold" fill="#222" stroke="#222" stroke-width="0.168" transform="translate(192.39 64.70) rotate(-90)"><tspan font-size="5.1" dy="-0.00">Br3d</tspan></text>
<path d="M256.8,58.5L257.3,58.5L257.8,58.5L258.3,58.5L258.8,58.5L259.3,58.5L259.8,58.5L260.3,58.5L260.8,58.5L261.3,58.5L261.8,58.5L262.3,58.5L262.8,58.5L263.3,58.5L263.8,58.5L264.3,58.5L264.8,58.5L265.3,58.5L265.8,58.5L266.3,58.5L266.8,58.5L267.3,58.4L267.8,58.4L268.3,58.4L268.8,58.4L269.3,58.4L269.8,58.4L270.3,58.4L270.8,58.4L271.3,58.4L271.8,58.4L272.3,58.4L272.8,58.4L273.3,58.4L273.8,58.4L274.3,58.4L274.8,58.4L275.3,58.4L275.8,58.4L276.3,58.3L276.8,58.3L277.3,58.3L277.8,58.3L278.3,58.3L278.8,58.3L279.3,58.3L279.8,58.3L280.3,58.2L280.8,58.2L281.3,58.2L281.8,58.2L282.3,58.2L282.8,58.1L283.3,58.1L283.8,58.1L284.3,58.1L284.8,58.0L285.3,58.0L285.8,58.0L286.3,57.9L286.8,57.9L287.3,57.9L287.8,57.8L288.3,57.8L288.8,57.7L289.3,57.7L289.8,57.6L290.3,57.5L290.8,57.5L291.3,57.4L291.8,57.3L292.3,57.2L292.8,57.1L293.3,56.9L293.8,56.8L294.3,56.6L294.8,56.4L295.3,56.2L295.8,55.9L296.3,55.6L296.8,55.2L297.3,54.8L297.8,54.3L298.3,53.8L298.8,53.2L299.3,52.4L299.8,51.6L300.3,50.7L300.8,49.8L301.3,48.7L301.8,47.5L302.3,46.2L302.8,44.8L303.3,43.3L303.8,41.7L304.3,40.2L304.8,38.5L305.3,36.9L305.8,35.3L306.3,33.8L306.8,32.4L307.3,31.2L307.8,30.2L308.3,29.5L308.8,29.2L309.3,29.1L309.8,29.5L310.3,30.2L310.8,31.2L311.3,32.5L311.8,33.9L312.3,35.5L312.8,37.2L313.3,38.9L313.8,40.6L314.3,42.3L314.8,43.9L315.3,45.4L315.8,46.9L316.3,48.2L316.8,49.4L317.3,50.5L317.8,51.5L318.3,52.3L318.8,53.1L319.3,53.8L319.8,54.4L320.3,54.9L320.8,55.4L321.3,55.7L321.8,56.1L322.3,56.4L322.8,56.6L323.3,56.8L323.8,57.0L324.3,57.2L324.8,57.3L325.3,57.4L325.8,57.5L326.3,57.6L326.8,57.7L327.3,57.8L327.8,57.9L328.3,57.9L328.8,58.0L329.3,58.0L329.8,58.1L330.3,58.1L330.8,58.2L331.3,58.2L331.8,58.3L332.3,58.3L332.8,58.3L333.3,58.4L333.8,58.4L334.3,58.4L334.8,58.4L335.3,58.5L335.8,58.5L336.3,58.5L336.8,58.5L337.3,58.6L337.8,58.6L338.3,58.6L338.8,58.6L339.3,58.6L339.8,58.6L340.3,58.6L340.8,58.6L341.3,58.6L341.8,58.7L342.3,58.7L342.8,58.7L343.3,58.7L343.8,58.7L344.3,58.7L344.8,58.7L345.3,58.7L345.8,58.7L346.3,58.7L346.8,58.7L347.3,58.7L347.8,58.7L348.3,58.7L348.8,58.6L349.3,58.6L349.8,58.6L350.3,58.6L350.8,58.6L351.3,58.6L351.8,58.6L352.3,58.5L352.8,58.5L353.3,58.5L353.8,58.5L354.3,58.5L354.8,58.4L355.3,58.4L355.8,58.4L356.3,58.3L356.8,58.3L357.3,58.3L357.8,58.2L358.3,58.2L358.8,58.1L359.3,58.1L359.8,58.0L360.3,57.9L360.8,57.9L361.3,57.8L361.8,57.7L362.3,57.6L362.8,57.5L363.3,57.4L363.8,57.2L364.3,57.1L364.8,56.9L365.3,56.7L365.8,56.4L366.3,56.2L366.8,55.8L367.3,55.5L367.8,55.1L368.3,54.6L368.8,54.0L369.3,53.4L369.8,52.6L370.3,51.8L370.8,50.8L371.3,49.8L371.8,48.6L372.3,47.3L372.8,45.9L373.3,44.3L373.8,42.6L374.3,40.8L374.8,39.0L375.3,37.0L375.8,35.0L376.3,32.9L376.8,30.8L377.3,28.8L377.8,26.9L378.3,25.2L378.8,23.7L379.3,22.5L379.8,21.6L380.3,21.2L380.8,21.1L381.3,21.6L381.8,22.4L382.3,23.7L382.8,25.3L383.3,27.1L383.8,29.2L384.3,31.3L384.8,33.5L385.3,35.6L385.8,37.8L386.3,39.8L386.8,41.8L387.3,43.6L387.8,45.3L388.3,46.9L388.8,48.3L389.3,49.6L389.8,50.8L390.3,51.8L390.8,52.8L391.3,53.6L391.8,54.3L392.3,54.9L392.8,55.4L393.3,55.8L393.8,56.2L394.3,56.6L394.8,56.9L395.3,57.1L395.8,57.4L396.3,57.6L396.8,57.7L397.3,57.9L397.8,58.0L398.3,58.1L398.8,58.3L399.3,58.4L399.8,58.4L400.3,58.5L400.8,58.6L401.3,58.7L401.8,58.8L402.3,58.8L402.8,58.9L403.3,58.9L403.8,59.0L404.3,59.1L404.8,59.1L405.3,59.1L405.8,59.2L406.3,59.2L406.8,59.3L407.3,59.3L407.8,59.4L408.3,59.4L408.8,59.4L409.3,59.5L409.8,59.5L410.3,59.5L410.8,59.5L411.3,59.6L411.8,59.6L412.3,59.6L412.8,59.6L413.3,59.7L413.8,59.7L414.3,59.7L414.8,59.7L415.3,59.8L415.8,59.8L416.3,59.8L416.8,59.8L417.3,59.8L417.8,59.9L418.3,59.9L418.8,59.9L419.3,59.9L419.8,59.9L420.3,59.9L420.8,60.0L421.3,60.0L421.8,60.0L422.3,60.0L422.8,60.0L423.3,60.0L423.8,60.0L424.3,60.1L424.8,60.1L425.3,60.1L425.8,60.1L426.3,60.1L426.8,60.1L427.3,60.1L427.8,60.1L428.3,60.2L428.8,60.2L429.3,60.2L429.8,60.2L430.3,60.2L430.8,60.2L431.3,60.2L431.8,60.2L432.3,60.2L432.8,60.3L433.3,60.3L433.8,60.3L434.3,60.3L434.8,60.3L435.3,60.3L435.8,60.3L436.3,60.3L436.8,60.3L437.3,60.3L437.8,60.3L438.3,60.4L438.8,60.4" fill="none" stroke="#4a4a4a" stroke-width="1.0" stroke-linejoin="round" opacity="1.0"/>
<path d="M256.8,95.1L257.3,95.1L257.8,95.1L258.3,95.1L258.8,95.1L259.3,95.1L259.8,95.1L260.3,95.1L260.8,95.1L261.3,95.1L261.8,95.1L262.3,95.1L262.8,95.1L263.3,95.1L263.8,95.1L264.3,95.1L264.8,95.1L265.3,95.1L265.8,95.1L266.3,95.1L266.8,95.1L267.3,95.1L267.8,95.0L268.3,95.0L268.8,95.0L269.3,95.0L269.8,95.0L270.3,95.0L270.8,95.0L271.3,95.0L271.8,95.0L272.3,94.9L272.8,94.9L273.3,94.9L273.8,94.9L274.3,94.9L274.8,94.9L275.3,94.8L275.8,94.8L276.3,94.8L276.8,94.8L277.3,94.7L277.8,94.7L278.3,94.7L278.8,94.7L279.3,94.6L279.8,94.6L280.3,94.6L280.8,94.5L281.3,94.5L281.8,94.4L282.3,94.4L282.8,94.3L283.3,94.3L283.8,94.2L284.3,94.1L284.8,94.1L285.3,94.0L285.8,93.9L286.3,93.8L286.8,93.7L287.3,93.6L287.8,93.4L288.3,93.3L288.8,93.1L289.3,93.0L289.8,92.8L290.3,92.6L290.8,92.4L291.3,92.1L291.8,91.8L292.3,91.6L292.8,91.3L293.3,90.9L293.8,90.5L294.3,90.2L294.8,89.7L295.3,89.3L295.8,88.8L296.3,88.3L296.8,87.7L297.3,87.1L297.8,86.5L298.3,85.8L298.8,85.2L299.3,84.4L299.8,83.7L300.3,82.9L300.8,82.1L301.3,81.2L301.8,80.4L302.3,79.5L302.8,78.6L303.3,77.7L303.8,76.8L304.3,75.9L304.8,75.0L305.3,74.2L305.8,73.3L306.3,72.5L306.8,71.8L307.3,71.1L307.8,70.5L308.3,69.9L308.8,69.5L309.3,69.1L309.8,68.9L310.3,68.8L310.8,68.8L311.3,68.9L311.8,69.3L312.3,69.8L312.8,70.4L313.3,71.2L313.8,72.1L314.3,73.1L314.8,74.1L315.3,75.2L315.8,76.4L316.3,77.5L316.8,78.6L317.3,79.8L317.8,80.9L318.3,81.9L318.8,83.0L319.3,83.9L319.8,84.9L320.3,85.8L320.8,86.6L321.3,87.4L321.8,88.1L322.3,88.8L322.8,89.4L323.3,90.0L323.8,90.5L324.3,91.0L324.8,91.4L325.3,91.8L325.8,92.2L326.3,92.5L326.8,92.8L327.3,93.1L327.8,93.3L328.3,93.5L328.8,93.7L329.3,93.9L329.8,94.0L330.3,94.1L330.8,94.3L331.3,94.4L331.8,94.5L332.3,94.5L332.8,94.6L333.3,94.7L333.8,94.8L334.3,94.8L334.8,94.9L335.3,94.9L335.8,95.0L336.3,95.0L336.8,95.0L337.3,95.1L337.8,95.1L338.3,95.1L338.8,95.1L339.3,95.2L339.8,95.2L340.3,95.2L340.8,95.2L341.3,95.2L341.8,95.2L342.3,95.2L342.8,95.2L343.3,95.3L343.8,95.3L344.3,95.3L344.8,95.3L345.3,95.3L345.8,95.2L346.3,95.2L346.8,95.2L347.3,95.2L347.8,95.2L348.3,95.2L348.8,95.2L349.3,95.1L349.8,95.1L350.3,95.1L350.8,95.1L351.3,95.0L351.8,95.0L352.3,95.0L352.8,94.9L353.3,94.9L353.8,94.8L354.3,94.8L354.8,94.7L355.3,94.6L355.8,94.5L356.3,94.5L356.8,94.4L357.3,94.3L357.8,94.1L358.3,94.0L358.8,93.9L359.3,93.7L359.8,93.6L360.3,93.4L360.8,93.2L361.3,92.9L361.8,92.7L362.3,92.4L362.8,92.1L363.3,91.8L363.8,91.4L364.3,91.1L364.8,90.6L365.3,90.2L365.8,89.7L366.3,89.2L366.8,88.6L367.3,88.0L367.8,87.3L368.3,86.6L368.8,85.9L369.3,85.1L369.8,84.2L370.3,83.3L370.8,82.4L371.3,81.4L371.8,80.4L372.3,79.3L372.8,78.2L373.3,77.1L373.8,75.9L374.3,74.7L374.8,73.5L375.3,72.3L375.8,71.1L376.3,69.9L376.8,68.6L377.3,67.5L377.8,66.3L378.3,65.2L378.8,64.2L379.3,63.3L379.8,62.5L380.3,61.7L380.8,61.1L381.3,60.7L381.8,60.4L382.3,60.2L382.8,60.2L383.3,60.4L383.8,60.9L384.3,61.6L384.8,62.5L385.3,63.6L385.8,64.8L386.3,66.1L386.8,67.6L387.3,69.1L387.8,70.6L388.3,72.1L388.8,73.7L389.3,75.2L389.8,76.7L390.3,78.2L390.8,79.6L391.3,81.0L391.8,82.3L392.3,83.5L392.8,84.6L393.3,85.7L393.8,86.7L394.3,87.7L394.8,88.5L395.3,89.3L395.8,90.0L396.3,90.7L396.8,91.3L397.3,91.9L397.8,92.4L398.3,92.8L398.8,93.2L399.3,93.6L399.8,93.9L400.3,94.2L400.8,94.5L401.3,94.7L401.8,94.9L402.3,95.1L402.8,95.3L403.3,95.5L403.8,95.6L404.3,95.7L404.8,95.9L405.3,96.0L405.8,96.1L406.3,96.2L406.8,96.3L407.3,96.4L407.8,96.4L408.3,96.5L408.8,96.6L409.3,96.6L409.8,96.7L410.3,96.8L410.8,96.8L411.3,96.9L411.8,96.9L412.3,97.0L412.8,97.0L413.3,97.1L413.8,97.1L414.3,97.2L414.8,97.2L415.3,97.2L415.8,97.3L416.3,97.3L416.8,97.4L417.3,97.4L417.8,97.4L418.3,97.5L418.8,97.5L419.3,97.5L419.8,97.6L420.3,97.6L420.8,97.6L421.3,97.6L421.8,97.7L422.3,97.7L422.8,97.7L423.3,97.8L423.8,97.8L424.3,97.8L424.8,97.8L425.3,97.9L425.8,97.9L426.3,97.9L426.8,97.9L427.3,97.9L427.8,98.0L428.3,98.0L428.8,98.0L429.3,98.0L429.8,98.0L430.3,98.1L430.8,98.1L431.3,98.1L431.8,98.1L432.3,98.1L432.8,98.2L433.3,98.2L433.8,98.2L434.3,98.2L434.8,98.2L435.3,98.2L435.8,98.3L436.3,98.3L436.8,98.3L437.3,98.3L437.8,98.3L438.3,98.3L438.8,98.4" fill="none" stroke="#f26464" stroke-width="1.0" stroke-linejoin="round" opacity="1.0"/>
<path d="M256.8,133.9L257.3,133.9L257.8,133.9L258.3,133.9L258.8,133.9L259.3,133.9L259.8,133.9L260.3,133.9L260.8,133.9L261.3,133.9L261.8,133.9L262.3,133.9L262.8,133.9L263.3,133.9L263.8,133.9L264.3,133.9L264.8,133.9L265.3,133.9L265.8,133.8L266.3,133.8L266.8,133.8L267.3,133.8L267.8,133.8L268.3,133.8L268.8,133.8L269.3,133.8L269.8,133.8L270.3,133.8L270.8,133.8L271.3,133.8L271.8,133.8L272.3,133.7L272.8,133.7L273.3,133.7L273.8,133.7L274.3,133.7L274.8,133.7L275.3,133.7L275.8,133.7L276.3,133.6L276.8,133.6L277.3,133.6L277.8,133.6L278.3,133.6L278.8,133.5L279.3,133.5L279.8,133.5L280.3,133.5L280.8,133.4L281.3,133.4L281.8,133.4L282.3,133.4L282.8,133.3L283.3,133.3L283.8,133.2L284.3,133.2L284.8,133.1L285.3,133.1L285.8,133.0L286.3,133.0L286.8,132.9L287.3,132.8L287.8,132.8L288.3,132.7L288.8,132.6L289.3,132.4L289.8,132.3L290.3,132.2L290.8,132.0L291.3,131.8L291.8,131.6L292.3,131.4L292.8,131.1L293.3,130.8L293.8,130.4L294.3,130.0L294.8,129.6L295.3,129.1L295.8,128.5L296.3,127.9L296.8,127.2L297.3,126.4L297.8,125.6L298.3,124.7L298.8,123.7L299.3,122.7L299.8,121.6L300.3,120.4L300.8,119.2L301.3,118.0L301.8,116.7L302.3,115.4L302.8,114.1L303.3,112.9L303.8,111.7L304.3,110.6L304.8,109.6L305.3,108.8L305.8,108.1L306.3,107.7L306.8,107.5L307.3,107.5L307.8,107.8L308.3,108.3L308.8,109.1L309.3,110.0L309.8,111.1L310.3,112.3L310.8,113.6L311.3,115.0L311.8,116.3L312.3,117.7L312.8,119.0L313.3,120.3L313.8,121.5L314.3,122.7L314.8,123.8L315.3,124.8L315.8,125.7L316.3,126.6L316.8,127.4L317.3,128.1L317.8,128.7L318.3,129.3L318.8,129.8L319.3,130.3L319.8,130.7L320.3,131.0L320.8,131.4L321.3,131.6L321.8,131.9L322.3,132.1L322.8,132.3L323.3,132.4L323.8,132.6L324.3,132.7L324.8,132.8L325.3,132.9L325.8,133.0L326.3,133.1L326.8,133.1L327.3,133.2L327.8,133.3L328.3,133.3L328.8,133.4L329.3,133.4L329.8,133.5L330.3,133.5L330.8,133.5L331.3,133.6L331.8,133.6L332.3,133.6L332.8,133.6L333.3,133.7L333.8,133.7L334.3,133.7L334.8,133.7L335.3,133.8L335.8,133.8L336.3,133.8L336.8,133.8L337.3,133.8L337.8,133.8L338.3,133.8L338.8,133.9L339.3,133.9L339.8,133.9L340.3,133.9L340.8,133.9L341.3,133.9L341.8,133.9L342.3,133.9L342.8,133.9L343.3,133.9L343.8,133.9L344.3,133.9L344.8,133.9L345.3,133.9L345.8,133.9L346.3,133.9L346.8,133.8L347.3,133.8L347.8,133.8L348.3,133.8L348.8,133.8L349.3,133.8L349.8,133.8L350.3,133.7L350.8,133.7L351.3,133.7L351.8,133.7L352.3,133.6L352.8,133.6L353.3,133.6L353.8,133.5L354.3,133.5L354.8,133.5L355.3,133.4L355.8,133.4L356.3,133.3L356.8,133.3L357.3,133.2L357.8,133.1L358.3,133.1L358.8,133.0L359.3,132.9L359.8,132.8L360.3,132.7L360.8,132.5L361.3,132.4L361.8,132.2L362.3,132.1L362.8,131.9L363.3,131.6L363.8,131.3L364.3,131.0L364.8,130.7L365.3,130.3L365.8,129.9L366.3,129.3L366.8,128.8L367.3,128.1L367.8,127.4L368.3,126.6L368.8,125.7L369.3,124.8L369.8,123.7L370.3,122.5L370.8,121.3L371.3,119.9L371.8,118.5L372.3,117.0L372.8,115.4L373.3,113.8L373.8,112.1L374.3,110.4L374.8,108.7L375.3,107.0L375.8,105.4L376.3,103.9L376.8,102.5L377.3,101.3L377.8,100.4L378.3,99.7L378.8,99.3L379.3,99.2L379.8,99.4L380.3,100.0L380.8,100.9L381.3,102.1L381.8,103.5L382.3,105.0L382.8,106.7L383.3,108.5L383.8,110.3L384.3,112.1L384.8,113.9L385.3,115.6L385.8,117.3L386.3,118.8L386.8,120.4L387.3,121.8L387.8,123.1L388.3,124.3L388.8,125.4L389.3,126.4L389.8,127.3L390.3,128.1L390.8,128.8L391.3,129.4L391.8,130.0L392.3,130.5L392.8,130.9L393.3,131.3L393.8,131.7L394.3,132.0L394.8,132.2L395.3,132.5L395.8,132.7L396.3,132.8L396.8,133.0L397.3,133.2L397.8,133.3L398.3,133.4L398.8,133.5L399.3,133.6L399.8,133.7L400.3,133.8L400.8,133.9L401.3,133.9L401.8,134.0L402.3,134.1L402.8,134.1L403.3,134.2L403.8,134.2L404.3,134.3L404.8,134.3L405.3,134.4L405.8,134.4L406.3,134.4L406.8,134.5L407.3,134.5L407.8,134.6L408.3,134.6L408.8,134.6L409.3,134.7L409.8,134.7L410.3,134.7L410.8,134.7L411.3,134.8L411.8,134.8L412.3,134.8L412.8,134.8L413.3,134.9L413.8,134.9L414.3,134.9L414.8,134.9L415.3,135.0L415.8,135.0L416.3,135.0L416.8,135.0L417.3,135.0L417.8,135.1L418.3,135.1L418.8,135.1L419.3,135.1L419.8,135.1L420.3,135.1L420.8,135.1L421.3,135.2L421.8,135.2L422.3,135.2L422.8,135.2L423.3,135.2L423.8,135.2L424.3,135.2L424.8,135.3L425.3,135.3L425.8,135.3L426.3,135.3L426.8,135.3L427.3,135.3L427.8,135.3L428.3,135.3L428.8,135.4L429.3,135.4L429.8,135.4L430.3,135.4L430.8,135.4L431.3,135.4L431.8,135.4L432.3,135.4L432.8,135.4L433.3,135.4L433.8,135.5L434.3,135.5L434.8,135.5L435.3,135.5L435.8,135.5L436.3,135.5L436.8,135.5L437.3,135.5L437.8,135.5L438.3,135.5L438.8,135.5" fill="none" stroke="#5b8fe6" stroke-width="1.0" stroke-linejoin="round" opacity="1.0"/>
<rect x="256.2" y="5" width="183.40000000000003" height="146.8" fill="none" stroke="#686868" stroke-width="1.5"/>
<line x1="256.20" y1="151.8" x2="256.20" y2="154.8" stroke="#686868" stroke-width="1"/>
<text x="256.20" y="162.38" font-size="6.6" text-anchor="middle" font-weight="bold" fill="#111" stroke="#111" stroke-width="0.28">168</text>
<line x1="283.56" y1="151.8" x2="283.56" y2="154.8" stroke="#686868" stroke-width="1"/>
<text x="283.56" y="162.38" font-size="6.6" text-anchor="middle" font-weight="bold" fill="#111" stroke="#111" stroke-width="0.28">166</text>
<line x1="310.92" y1="151.8" x2="310.92" y2="154.8" stroke="#686868" stroke-width="1"/>
<text x="310.92" y="162.38" font-size="6.6" text-anchor="middle" font-weight="bold" fill="#111" stroke="#111" stroke-width="0.28">164</text>
<line x1="338.28" y1="151.8" x2="338.28" y2="154.8" stroke="#686868" stroke-width="1"/>
<text x="338.28" y="162.38" font-size="6.6" text-anchor="middle" font-weight="bold" fill="#111" stroke="#111" stroke-width="0.28">162</text>
<line x1="365.64" y1="151.8" x2="365.64" y2="154.8" stroke="#686868" stroke-width="1"/>
<text x="365.64" y="162.38" font-size="6.6" text-anchor="middle" font-weight="bold" fill="#111" stroke="#111" stroke-width="0.28">160</text>
<line x1="393.00" y1="151.8" x2="393.00" y2="154.8" stroke="#686868" stroke-width="1"/>
<text x="393.00" y="162.38" font-size="6.6" text-anchor="middle" font-weight="bold" fill="#111" stroke="#111" stroke-width="0.28">158</text>
<line x1="420.36" y1="151.8" x2="420.36" y2="154.8" stroke="#686868" stroke-width="1"/>
<text x="420.36" y="162.38" font-size="6.6" text-anchor="middle" font-weight="bold" fill="#111" stroke="#111" stroke-width="0.28">156</text>
<line x1="269.88" y1="151.8" x2="269.88" y2="153.8" stroke="#686868" stroke-width="1"/>
<line x1="297.24" y1="151.8" x2="297.24" y2="153.8" stroke="#686868" stroke-width="1"/>
<line x1="324.60" y1="151.8" x2="324.60" y2="153.8" stroke="#686868" stroke-width="1"/>
<line x1="351.96" y1="151.8" x2="351.96" y2="153.8" stroke="#686868" stroke-width="1"/>
<line x1="379.32" y1="151.8" x2="379.32" y2="153.8" stroke="#686868" stroke-width="1"/>
<line x1="406.68" y1="151.8" x2="406.68" y2="153.8" stroke="#686868" stroke-width="1"/>
<line x1="434.04" y1="151.8" x2="434.04" y2="153.8" stroke="#686868" stroke-width="1"/>
<text x="345.55" y="174.78" font-size="7.8" text-anchor="middle" font-weight="bold" fill="#111" stroke="#111" stroke-width="0.28">Binding Energy(eV)</text>
<text x="248.60" y="73.98" font-size="7.8" text-anchor="middle" font-weight="bold" fill="#111" stroke="#111" stroke-width="0.28" transform="rotate(-90 248.6 71.4)">Intensity(a.u.)</text>
<text x="260.00" y="16.22" font-size="7.6" text-anchor="start" font-weight="bold" fill="#111" stroke="#111" stroke-width="0.28">(b)</text>
<text x="431.40" y="15.91" font-size="7.9" text-anchor="end" font-weight="bold" fill="#111" stroke="#111" stroke-width="0.28">Bi 4f</text>
<text x="285.20" y="26.78" font-size="7.2" text-anchor="start" font-weight="bold" fill="#111" stroke="#111" stroke-width="0.28"><tspan font-size="7.2" dy="-0.00">4f</tspan><tspan font-size="4.90" stroke-width="0.15" dy="2.02">5/2</tspan></text>
<line x1="306.50" y1="28.90" x2="301.82" y2="26.07" stroke="#111" stroke-width="1.0"/>
<polygon points="298.40,24.00 302.75,24.53 300.89,27.61" fill="#111"/>
<text x="359.30" y="22.78" font-size="7.2" text-anchor="start" font-weight="bold" fill="#111" stroke="#111" stroke-width="0.28"><tspan font-size="7.2" dy="-0.00">4f</tspan><tspan font-size="4.90" stroke-width="0.15" dy="2.02">7/2</tspan></text>
<line x1="381.00" y1="21.20" x2="374.08" y2="19.47" stroke="#111" stroke-width="1.0"/>
<polygon points="370.20,18.50 374.52,17.72 373.64,21.22" fill="#111"/>
<text x="401.30" y="57.69" font-size="6.3" text-anchor="start" font-weight="bold" fill="#111" stroke="#111" stroke-width="0.28"><tspan font-size="6.3" dy="-0.00">BiOBr</tspan><tspan font-size="4.28" stroke-width="0.15" dy="1.76">0.15</tspan><tspan font-size="6.3" dy="-1.76">I</tspan><tspan font-size="4.28" stroke-width="0.15" dy="1.76">0.85</tspan></text>
<text x="411.90" y="95.49" font-size="6.3" text-anchor="start" font-weight="bold" fill="#111" stroke="#111" stroke-width="0.28"><tspan font-size="6.3" dy="-0.00">BiOI</tspan></text>
<text x="411.50" y="131.59" font-size="6.3" text-anchor="start" font-weight="bold" fill="#111" stroke="#111" stroke-width="0.28"><tspan font-size="6.3" dy="-0.00">BiOBr</tspan></text>
<path d="M22.1,249.8L22.6,249.8L23.1,249.8L23.6,249.8L24.1,249.8L24.6,249.8L25.1,249.8L25.6,249.8L26.1,249.8L26.6,249.8L27.1,249.8L27.6,249.8L28.1,249.8L28.6,249.8L29.1,249.8L29.6,249.8L30.1,249.8L30.6,249.8L31.1,249.8L31.6,249.8L32.1,249.8L32.6,249.8L33.1,249.8L33.6,249.8L34.1,249.8L34.6,249.8L35.1,249.8L35.6,249.8L36.1,249.8L36.6,249.8L37.1,249.8L37.6,249.8L38.1,249.8L38.6,249.8L39.1,249.8L39.6,249.8L40.1,249.8L40.6,249.8L41.1,249.8L41.6,249.8L42.1,249.8L42.6,249.8L43.1,249.8L43.6,249.8L44.1,249.8L44.6,249.8L45.1,249.8L45.6,249.8L46.1,249.8L46.6,249.8L47.1,249.8L47.6,249.8L48.1,249.8L48.6,249.8L49.1,249.8L49.6,249.8L50.1,249.8L50.6,249.8L51.1,249.8L51.6,249.8L52.1,249.8L52.6,249.8L53.1,249.8L53.6,249.8L54.1,249.8L54.6,249.8L55.1,249.8L55.6,249.8L56.1,249.8L56.6,249.8L57.1,249.8L57.6,249.8L58.1,249.8L58.6,249.8L59.1,249.8L59.6,249.8L60.1,249.8L60.6,249.8L61.1,249.8L61.6,249.8L62.1,249.8L62.6,249.8L63.1,249.8L63.6,249.8L64.1,249.8L64.6,249.8L65.1,249.8L65.6,249.8L66.1,249.8L66.6,249.8L67.1,249.8L67.6,249.8L68.1,249.8L68.6,249.8L69.1,249.8L69.6,249.8L70.1,249.8L70.6,249.8L71.1,249.8L71.6,249.8L72.1,249.8L72.6,249.8L73.1,249.8L73.6,249.8L74.1,249.8L74.6,249.8L75.1,249.8L75.6,249.8L76.1,249.8L76.6,249.8L77.1,249.8L77.6,249.8L78.1,249.8L78.6,249.8L79.1,249.8L79.6,249.7L80.1,249.7L80.6,249.7L81.1,249.7L81.6,249.7L82.1,249.7L82.6,249.7L83.1,249.7L83.6,249.7L84.1,249.7L84.6,249.7L85.1,249.7L85.6,249.6L86.1,249.6L86.6,249.6L87.1,249.6L87.6,249.6L88.1,249.6L88.6,249.6L89.1,249.5L89.6,249.5L90.1,249.5L90.6,249.5L91.1,249.4L91.6,249.4L92.1,249.4L92.6,249.4L93.1,249.3L93.6,249.3L94.1,249.3L94.6,249.2L95.1,249.2L95.6,249.1L96.1,249.1L96.6,249.0L97.1,249.0L97.6,248.9L98.1,248.9L98.6,248.8L99.1,248.8L99.6,248.7L100.1,248.6L100.6,248.6L101.1,248.5L101.6,248.4L102.1,248.4L102.6,248.3L103.1,248.2L103.6,248.1L104.1,248.0L104.6,247.9L105.1,247.8L105.6,247.8L106.1,247.7L106.6,247.6L107.1,247.5L107.6,247.3L108.1,247.2L108.6,247.1L109.1,247.0L109.6,246.9L110.1,246.8L110.6,246.7L111.1,246.5L111.6,246.4L112.1,246.3L112.6,246.1L113.1,246.0L113.6,245.9L114.1,245.8L114.6,245.6L115.1,245.5L115.6,245.4L116.1,245.2L116.6,245.1L117.1,245.0L117.6,244.8L118.1,244.7L118.6,244.6L119.1,244.4L119.6,244.3L120.1,244.2L120.6,244.1L121.1,243.9L121.6,243.8L122.1,243.7L122.6,243.6L123.1,243.5L123.6,243.4L124.1,243.3L124.6,243.2L125.1,243.1L125.6,243.0L126.1,242.9L126.6,242.8L127.1,242.7L127.6,242.7L128.1,242.6L128.6,242.5L129.1,242.5L129.6,242.4L130.1,242.4L130.6,242.4L131.1,242.3L131.6,242.3L132.1,242.3L132.6,242.3L133.1,242.3L133.6,242.3L134.1,242.3L134.6,242.3L135.1,242.4L135.6,242.4L136.1,242.4L136.6,242.5L137.1,242.5L137.6,242.6L138.1,242.6L138.6,242.7L139.1,242.8L139.6,242.8L140.1,242.9L140.6,243.0L141.1,243.1L141.6,243.2L142.1,243.3L142.6,243.4L143.1,243.5L143.6,243.6L144.1,243.7L144.6,243.9L145.1,244.0L145.6,244.1L146.1,244.2L146.6,244.4L147.1,244.5L147.6,244.6L148.1,244.7L148.6,244.9L149.1,245.0L149.6,245.1L150.1,245.3L150.6,245.4L151.1,245.5L151.6,245.7L152.1,245.8L152.6,245.9L153.1,246.1L153.6,246.2L154.1,246.3L154.6,246.5L155.1,246.6L155.6,246.7L156.1,246.8L156.6,246.9L157.1,247.1L157.6,247.2L158.1,247.3L158.6,247.4L159.1,247.5L159.6,247.6L160.1,247.7L160.6,247.8L161.1,247.9L161.6,248.0L162.1,248.1L162.6,248.2L163.1,248.2L163.6,248.3L164.1,248.4L164.6,248.5L165.1,248.5L165.6,248.6L166.1,248.7L166.6,248.7L167.1,248.8L167.6,248.9L168.1,248.9L168.6,249.0L169.1,249.0L169.6,249.1L170.1,249.1L170.6,249.2L171.1,249.2L171.6,249.2L172.1,249.3L172.6,249.3L173.1,249.3L173.6,249.4L174.1,249.4L174.6,249.4L175.1,249.5L175.6,249.5L176.1,249.5L176.6,249.5L177.1,249.5L177.6,249.6L178.1,249.6L178.6,249.6L179.1,249.6L179.6,249.6L180.1,249.6L180.6,249.7L181.1,249.7L181.6,249.7L182.1,249.7L182.6,249.7L183.1,249.7L183.6,249.7L184.1,249.7L184.6,249.7L185.1,249.7L185.6,249.7L186.1,249.7L186.6,249.7L187.1,249.8L187.6,249.8L188.1,249.8L188.6,249.8L189.1,249.8L189.6,249.8L190.1,249.8L190.6,249.8L191.1,249.8L191.6,249.8L192.1,249.8L192.6,249.8L193.1,249.8L193.6,249.8L194.1,249.8L194.6,249.8L195.1,249.8L195.6,249.8L196.1,249.8L196.6,249.8L197.1,249.8L197.6,249.8L198.1,249.8L198.6,249.8L199.1,249.8L199.6,249.8L200.1,249.8L200.6,249.8L201.1,249.8L201.6,249.8L202.1,249.8L202.6,249.8L203.1,249.8L203.6,249.8" fill="none" stroke="#dba54a" stroke-width="1.0" stroke-linejoin="round" opacity="1.0"/>
<path d="M22.1,249.8L22.6,249.8L23.1,249.8L23.6,249.8L24.1,249.8L24.6,249.8L25.1,249.8L25.6,249.8L26.1,249.8L26.6,249.8L27.1,249.8L27.6,249.8L28.1,249.8L28.6,249.8L29.1,249.8L29.6,249.8L30.1,249.8L30.6,249.8L31.1,249.8L31.6,249.8L32.1,249.8L32.6,249.8L33.1,249.8L33.6,249.8L34.1,249.8L34.6,249.8L35.1,249.8L35.6,249.8L36.1,249.8L36.6,249.8L37.1,249.8L37.6,249.8L38.1,249.8L38.6,249.8L39.1,249.8L39.6,249.8L40.1,249.8L40.6,249.8L41.1,249.8L41.6,249.8L42.1,249.8L42.6,249.8L43.1,249.8L43.6,249.8L44.1,249.8L44.6,249.8L45.1,249.8L45.6,249.8L46.1,249.8L46.6,249.8L47.1,249.8L47.6,249.8L48.1,249.8L48.6,249.8L49.1,249.8L49.6,249.7L50.1,249.7L50.6,249.7L51.1,249.7L51.6,249.6L52.1,249.6L52.6,249.5L53.1,249.5L53.6,249.4L54.1,249.3L54.6,249.1L55.1,249.0L55.6,248.8L56.1,248.6L56.6,248.3L57.1,248.0L57.6,247.6L58.1,247.2L58.6,246.7L59.1,246.1L59.6,245.5L60.1,244.8L60.6,244.0L61.1,243.1L61.6,242.1L62.1,241.0L62.6,239.8L63.1,238.6L63.6,237.2L64.1,235.8L64.6,234.3L65.1,232.8L65.6,231.2L66.1,229.6L66.6,227.9L67.1,226.3L67.6,224.7L68.1,223.2L68.6,221.7L69.1,220.3L69.6,219.0L70.1,217.9L70.6,216.9L71.1,216.1L71.6,215.5L72.1,215.1L72.6,214.8L73.1,214.8L73.6,215.0L74.1,215.4L74.6,216.0L75.1,216.7L75.6,217.7L76.1,218.8L76.6,220.0L77.1,221.4L77.6,222.9L78.1,224.4L78.6,226.0L79.1,227.6L79.6,229.2L80.1,230.8L80.6,232.4L81.1,234.0L81.6,235.5L82.1,236.9L82.6,238.3L83.1,239.6L83.6,240.8L84.1,241.9L84.6,242.9L85.1,243.8L85.6,244.6L86.1,245.3L86.6,246.0L87.1,246.6L87.6,247.1L88.1,247.5L88.6,247.9L89.1,248.2L89.6,248.5L90.1,248.7L90.6,248.9L91.1,249.1L91.6,249.2L92.1,249.4L92.6,249.4L93.1,249.5L93.6,249.6L94.1,249.6L94.6,249.7L95.1,249.7L95.6,249.7L96.1,249.7L96.6,249.8L97.1,249.8L97.6,249.8L98.1,249.8L98.6,249.8L99.1,249.8L99.6,249.8L100.1,249.8L100.6,249.8L101.1,249.8L101.6,249.8L102.1,249.8L102.6,249.8L103.1,249.8L103.6,249.8L104.1,249.8L104.6,249.8L105.1,249.8L105.6,249.8L106.1,249.8L106.6,249.8L107.1,249.8L107.6,249.8L108.1,249.8L108.6,249.8L109.1,249.8L109.6,249.8L110.1,249.8L110.6,249.8L111.1,249.8L111.6,249.8L112.1,249.8L112.6,249.8L113.1,249.8L113.6,249.8L114.1,249.8L114.6,249.8L115.1,249.8L115.6,249.8L116.1,249.8L116.6,249.8L117.1,249.8L117.6,249.8L118.1,249.8L118.6,249.8L119.1,249.8L119.6,249.8L120.1,249.8L120.6,249.8L121.1,249.8L121.6,249.8L122.1,249.8L122.6,249.8L123.1,249.8L123.6,249.8L124.1,249.8L124.6,249.8L125.1,249.8L125.6,249.8L126.1,249.8L126.6,249.8L127.1,249.8L127.6,249.8L128.1,249.8L128.6,249.8L129.1,249.8L129.6,249.8L130.1,249.8L130.6,249.8L131.1,249.8L131.6,249.8L132.1,249.8L132.6,249.8L133.1,249.8L133.6,249.8L134.1,249.8L134.6,249.8L135.1,249.8L135.6,249.8L136.1,249.8L136.6,249.8L137.1,249.8L137.6,249.8L138.1,249.8L138.6,249.8L139.1,249.8L139.6,249.8L140.1,249.8L140.6,249.8L141.1,249.8L141.6,249.8L142.1,249.8L142.6,249.8L143.1,249.8L143.6,249.8L144.1,249.8L144.6,249.8L145.1,249.8L145.6,249.8L146.1,249.8L146.6,249.8L147.1,249.8L147.6,249.8L148.1,249.8L148.6,249.8L149.1,249.8L149.6,249.8L150.1,249.8L150.6,249.8L151.1,249.8L151.6,249.8L152.1,249.8L152.6,249.8L153.1,249.8L153.6,249.8L154.1,249.8L154.6,249.8L155.1,249.8L155.6,249.8L156.1,249.8L156.6,249.8L157.1,249.8L157.6,249.8L158.1,249.8L158.6,249.8L159.1,249.8L159.6,249.8L160.1,249.8L160.6,249.8L161.1,249.8L161.6,249.8L162.1,249.8L162.6,249.8L163.1,249.8L163.6,249.8L164.1,249.8L164.6,249.8L165.1,249.8L165.6,249.8L166.1,249.8L166.6,249.8L167.1,249.8L167.6,249.8L168.1,249.8L168.6,249.8L169.1,249.8L169.6,249.8L170.1,249.8L170.6,249.8L171.1,249.8L171.6,249.8L172.1,249.8L172.6,249.8L173.1,249.8L173.6,249.8L174.1,249.8L174.6,249.8L175.1,249.8L175.6,249.8L176.1,249.8L176.6,249.8L177.1,249.8L177.6,249.8L178.1,249.8L178.6,249.8L179.1,249.8L179.6,249.8L180.1,249.8L180.6,249.8L181.1,249.8L181.6,249.8L182.1,249.8L182.6,249.8L183.1,249.8L183.6,249.8L184.1,249.8L184.6,249.8L185.1,249.8L185.6,249.8L186.1,249.8L186.6,249.8L187.1,249.8L187.6,249.8L188.1,249.8L188.6,249.8L189.1,249.8L189.6,249.8L190.1,249.8L190.6,249.8L191.1,249.8L191.6,249.8L192.1,249.8L192.6,249.8L193.1,249.8L193.6,249.8L194.1,249.8L194.6,249.8L195.1,249.8L195.6,249.8L196.1,249.8L196.6,249.8L197.1,249.8L197.6,249.8L198.1,249.8L198.6,249.8L199.1,249.8L199.6,249.8L200.1,249.8L200.6,249.8L201.1,249.8L201.6,249.8L202.1,249.8L202.6,249.8L203.1,249.8L203.6,249.8" fill="none" stroke="#3fbf80" stroke-width="1.0" stroke-linejoin="round" opacity="1.0"/>
<path d="M22.1,249.8L22.6,249.8L23.1,249.8L23.6,249.8L24.1,249.8L24.6,249.8L25.1,249.8L25.6,249.8L26.1,249.8L26.6,249.8L27.1,249.8L27.6,249.8L28.1,249.8L28.6,249.8L29.1,249.8L29.6,249.8L30.1,249.8L30.6,249.8L31.1,249.8L31.6,249.8L32.1,249.8L32.6,249.8L33.1,249.8L33.6,249.8L34.1,249.8L34.6,249.8L35.1,249.8L35.6,249.8L36.1,249.8L36.6,249.8L37.1,249.8L37.6,249.8L38.1,249.8L38.6,249.8L39.1,249.8L39.6,249.8L40.1,249.8L40.6,249.8L41.1,249.8L41.6,249.8L42.1,249.8L42.6,249.8L43.1,249.8L43.6,249.8L44.1,249.8L44.6,249.8L45.1,249.8L45.6,249.8L46.1,249.8L46.6,249.8L47.1,249.8L47.6,249.8L48.1,249.8L48.6,249.8L49.1,249.8L49.6,249.8L50.1,249.8L50.6,249.8L51.1,249.8L51.6,249.8L52.1,249.8L52.6,249.8L53.1,249.7L53.6,249.7L54.1,249.7L54.6,249.7L55.1,249.7L55.6,249.7L56.1,249.7L56.6,249.7L57.1,249.7L57.6,249.7L58.1,249.7L58.6,249.6L59.1,249.6L59.6,249.6L60.1,249.6L60.6,249.6L61.1,249.5L61.6,249.5L62.1,249.5L62.6,249.5L63.1,249.4L63.6,249.4L64.1,249.4L64.6,249.3L65.1,249.3L65.6,249.3L66.1,249.2L66.6,249.2L67.1,249.1L67.6,249.1L68.1,249.0L68.6,249.0L69.1,248.9L69.6,248.8L70.1,248.8L70.6,248.7L71.1,248.6L71.6,248.5L72.1,248.4L72.6,248.3L73.1,248.2L73.6,248.1L74.1,248.0L74.6,247.9L75.1,247.8L75.6,247.7L76.1,247.5L76.6,247.4L77.1,247.3L77.6,247.1L78.1,247.0L78.6,246.8L79.1,246.6L79.6,246.5L80.1,246.3L80.6,246.1L81.1,245.9L81.6,245.7L82.1,245.5L82.6,245.3L83.1,245.1L83.6,244.9L84.1,244.7L84.6,244.5L85.1,244.3L85.6,244.0L86.1,243.8L86.6,243.6L87.1,243.3L87.6,243.1L88.1,242.8L88.6,242.6L89.1,242.4L89.6,242.1L90.1,241.9L90.6,241.6L91.1,241.4L91.6,241.1L92.1,240.9L92.6,240.6L93.1,240.4L93.6,240.2L94.1,239.9L94.6,239.7L95.1,239.5L95.6,239.3L96.1,239.1L96.6,238.9L97.1,238.7L97.6,238.5L98.1,238.3L98.6,238.1L99.1,238.0L99.6,237.8L100.1,237.7L100.6,237.5L101.1,237.4L101.6,237.3L102.1,237.2L102.6,237.1L103.1,237.0L103.6,236.9L104.1,236.9L104.6,236.8L105.1,236.8L105.6,236.8L106.1,236.8L106.6,236.8L107.1,236.8L107.6,236.9L108.1,236.9L108.6,237.0L109.1,237.0L109.6,237.1L110.1,237.2L110.6,237.3L111.1,237.4L111.6,237.6L112.1,237.7L112.6,237.9L113.1,238.0L113.6,238.2L114.1,238.4L114.6,238.5L115.1,238.7L115.6,238.9L116.1,239.1L116.6,239.4L117.1,239.6L117.6,239.8L118.1,240.0L118.6,240.3L119.1,240.5L119.6,240.7L120.1,241.0L120.6,241.2L121.1,241.5L121.6,241.7L122.1,242.0L122.6,242.2L123.1,242.5L123.6,242.7L124.1,242.9L124.6,243.2L125.1,243.4L125.6,243.7L126.1,243.9L126.6,244.1L127.1,244.4L127.6,244.6L128.1,244.8L128.6,245.0L129.1,245.2L129.6,245.4L130.1,245.6L130.6,245.8L131.1,246.0L131.6,246.2L132.1,246.4L132.6,246.5L133.1,246.7L133.6,246.9L134.1,247.0L134.6,247.2L135.1,247.3L135.6,247.5L136.1,247.6L136.6,247.7L137.1,247.8L137.6,248.0L138.1,248.1L138.6,248.2L139.1,248.3L139.6,248.4L140.1,248.5L140.6,248.5L141.1,248.6L141.6,248.7L142.1,248.8L142.6,248.9L143.1,248.9L143.6,249.0L144.1,249.0L144.6,249.1L145.1,249.1L145.6,249.2L146.1,249.2L146.6,249.3L147.1,249.3L147.6,249.4L148.1,249.4L148.6,249.4L149.1,249.5L149.6,249.5L150.1,249.5L150.6,249.5L151.1,249.6L151.6,249.6L152.1,249.6L152.6,249.6L153.1,249.6L153.6,249.6L154.1,249.7L154.6,249.7L155.1,249.7L155.6,249.7L156.1,249.7L156.6,249.7L157.1,249.7L157.6,249.7L158.1,249.7L158.6,249.7L159.1,249.7L159.6,249.8L160.1,249.8L160.6,249.8L161.1,249.8L161.6,249.8L162.1,249.8L162.6,249.8L163.1,249.8L163.6,249.8L164.1,249.8L164.6,249.8L165.1,249.8L165.6,249.8L166.1,249.8L166.6,249.8L167.1,249.8L167.6,249.8L168.1,249.8L168.6,249.8L169.1,249.8L169.6,249.8L170.1,249.8L170.6,249.8L171.1,249.8L171.6,249.8L172.1,249.8L172.6,249.8L173.1,249.8L173.6,249.8L174.1,249.8L174.6,249.8L175.1,249.8L175.6,249.8L176.1,249.8L176.6,249.8L177.1,249.8L177.6,249.8L178.1,249.8L178.6,249.8L179.1,249.8L179.6,249.8L180.1,249.8L180.6,249.8L181.1,249.8L181.6,249.8L182.1,249.8L182.6,249.8L183.1,249.8L183.6,249.8L184.1,249.8L184.6,249.8L185.1,249.8L185.6,249.8L186.1,249.8L186.6,249.8L187.1,249.8L187.6,249.8L188.1,249.8L188.6,249.8L189.1,249.8L189.6,249.8L190.1,249.8L190.6,249.8L191.1,249.8L191.6,249.8L192.1,249.8L192.6,249.8L193.1,249.8L193.6,249.8L194.1,249.8L194.6,249.8L195.1,249.8L195.6,249.8L196.1,249.8L196.6,249.8L197.1,249.8L197.6,249.8L198.1,249.8L198.6,249.8L199.1,249.8L199.6,249.8L200.1,249.8L200.6,249.8L201.1,249.8L201.6,249.8L202.1,249.8L202.6,249.8L203.1,249.8L203.6,249.8" fill="none" stroke="#b77cf0" stroke-width="1.0" stroke-linejoin="round" opacity="1.0"/>
<path d="M22.1,250.0L22.8,249.9L23.5,249.5L24.2,250.1L24.9,249.6L25.6,249.7L26.3,250.1L27.0,250.0L27.7,250.0L28.4,249.5L29.1,250.0L29.8,249.7L30.5,249.5L31.2,250.0L31.9,250.1L32.6,249.5L33.3,249.8L34.0,250.1L34.7,249.7L35.4,249.7L36.1,250.0L36.8,249.8L37.5,250.1L38.2,250.0L38.9,250.0L39.6,249.9L40.3,249.6L41.0,249.9L41.7,249.9L42.4,249.8L43.1,249.8L43.8,249.7L44.5,249.6L45.2,250.1L45.9,249.7L46.6,249.5L47.3,250.1L48.0,249.8L48.7,249.9L49.4,249.6L50.1,249.5L50.8,249.5L51.5,249.8L52.2,249.4L52.9,249.7L53.6,249.2L54.3,249.4L55.0,248.7L55.7,248.6L56.4,248.0L57.1,247.6L57.8,247.3L58.5,246.5L59.2,245.8L59.9,244.7L60.6,243.6L61.3,242.3L62.0,241.2L62.7,239.0L63.4,237.3L64.1,235.6L64.8,233.3L65.5,230.8L66.2,229.0L66.9,226.0L67.6,223.7L68.3,221.4L69.0,219.6L69.7,218.0L70.4,216.0L71.1,214.8L71.8,214.2L72.5,213.1L73.2,212.9L73.9,213.6L74.6,213.8L75.3,215.0L76.0,216.0L76.7,217.9L77.4,219.8L78.1,221.5L78.8,223.3L79.5,225.6L80.2,227.7L80.9,229.2L81.6,231.2L82.3,233.0L83.0,234.6L83.7,235.8L84.4,237.2L85.1,237.9L85.8,239.2L86.5,239.4L87.2,239.8L87.9,240.0L88.6,240.2L89.3,240.3L90.0,240.8L90.7,240.3L91.4,240.2L92.1,240.3L92.8,240.1L93.5,239.7L94.2,239.0L94.9,238.7L95.6,238.5L96.3,238.0L97.0,237.8L97.7,237.3L98.4,237.0L99.1,237.1L99.8,236.7L100.5,236.3L101.2,236.0L101.9,235.9L102.6,235.7L103.3,235.0L104.0,235.4L104.7,234.9L105.4,234.7L106.1,235.0L106.8,234.7L107.5,234.3L108.2,234.0L108.9,234.2L109.6,234.2L110.3,234.1L111.0,233.9L111.7,234.2L112.4,234.0L113.1,234.4L113.8,234.3L114.5,234.2L115.2,234.6L115.9,234.4L116.6,234.1L117.3,234.2L118.0,234.0L118.7,234.2L119.4,234.5L120.1,234.5L120.8,234.4L121.5,234.3L122.2,234.6L122.9,235.0L123.6,235.5L124.3,236.1L125.0,236.0L125.7,236.7L126.4,236.9L127.1,237.3L127.8,237.7L128.5,237.6L129.2,238.0L129.9,238.0L130.6,238.4L131.3,238.7L132.0,238.5L132.7,239.1L133.4,239.3L134.1,239.3L134.8,239.6L135.5,240.2L136.2,240.1L136.9,240.3L137.6,240.6L138.3,241.0L139.0,241.1L139.7,241.3L140.4,241.6L141.1,241.7L141.8,242.2L142.5,242.5L143.2,242.4L143.9,243.0L144.6,243.0L145.3,243.7L146.0,243.9L146.7,243.6L147.4,244.2L148.1,244.2L148.8,244.3L149.5,245.1L150.2,245.3L150.9,245.4L151.6,245.5L152.3,246.0L153.0,245.9L153.7,246.2L154.4,246.4L155.1,246.7L155.8,246.9L156.5,246.7L157.2,246.8L157.9,247.2L158.6,247.4L159.3,247.4L160.0,247.9L160.7,248.0L161.4,248.0L162.1,248.1L162.8,248.3L163.5,248.1L164.2,248.6L164.9,248.2L165.6,248.9L166.3,248.8L167.0,248.6L167.7,248.6L168.4,249.0L169.1,249.0L169.8,249.2L170.5,248.9L171.2,249.5L171.9,249.2L172.6,249.3L173.3,249.5L174.0,249.5L174.7,249.4L175.4,249.3L176.1,249.5L176.8,249.2L177.5,249.4L178.2,249.8L178.9,249.3L179.6,249.3L180.3,249.9L181.0,249.6L181.7,249.7L182.4,249.8L183.1,249.9L183.8,249.6L184.5,249.9L185.2,249.4L185.9,250.0L186.6,249.6L187.3,249.8L188.0,249.6L188.7,249.9L189.4,249.7L190.1,249.8L190.8,249.7L191.5,250.0L192.2,250.0L192.9,249.6L193.6,250.0L194.3,250.1L195.0,249.6L195.7,249.6L196.4,250.1L197.1,250.1L197.8,249.5L198.5,250.0L199.2,250.1L199.9,249.6L200.6,250.0L201.3,249.7L202.0,250.0L202.7,249.8L203.4,249.8" fill="none" stroke="#555" stroke-width="0.7" stroke-linejoin="round" opacity="0.8"/>
<path d="M22.1,249.8L22.6,249.8L23.1,249.8L23.6,249.8L24.1,249.8L24.6,249.8L25.1,249.8L25.6,249.8L26.1,249.8L26.6,249.8L27.1,249.8L27.6,249.8L28.1,249.8L28.6,249.8L29.1,249.8L29.6,249.8L30.1,249.8L30.6,249.8L31.1,249.8L31.6,249.8L32.1,249.8L32.6,249.8L33.1,249.8L33.6,249.8L34.1,249.8L34.6,249.8L35.1,249.8L35.6,249.8L36.1,249.8L36.6,249.8L37.1,249.8L37.6,249.8L38.1,249.8L38.6,249.8L39.1,249.8L39.6,249.8L40.1,249.8L40.6,249.8L41.1,249.8L41.6,249.8L42.1,249.8L42.6,249.8L43.1,249.8L43.6,249.8L44.1,249.8L44.6,249.8L45.1,249.8L45.6,249.8L46.1,249.8L46.6,249.8L47.1,249.8L47.6,249.8L48.1,249.8L48.6,249.7L49.1,249.7L49.6,249.7L50.1,249.7L50.6,249.7L51.1,249.6L51.6,249.6L52.1,249.5L52.6,249.5L53.1,249.4L53.6,249.3L54.1,249.2L54.6,249.1L55.1,248.9L55.6,248.7L56.1,248.5L56.6,248.2L57.1,247.9L57.6,247.5L58.1,247.0L58.6,246.5L59.1,245.9L59.6,245.3L60.1,244.6L60.6,243.7L61.1,242.8L61.6,241.8L62.1,240.7L62.6,239.5L63.1,238.2L63.6,236.8L64.1,235.4L64.6,233.9L65.1,232.3L65.6,230.6L66.1,229.0L66.6,227.3L67.1,225.6L67.6,224.0L68.1,222.4L68.6,220.8L69.1,219.4L69.6,218.0L70.1,216.8L70.6,215.8L71.1,214.9L71.6,214.2L72.1,213.7L72.6,213.4L73.1,213.2L73.6,213.3L74.1,213.6L74.6,214.1L75.1,214.7L75.6,215.5L76.1,216.5L76.6,217.6L77.1,218.8L77.6,220.1L78.1,221.5L78.6,222.9L79.1,224.4L79.6,225.8L80.1,227.3L80.6,228.7L81.1,230.1L81.6,231.4L82.1,232.6L82.6,233.8L83.1,234.8L83.6,235.8L84.1,236.7L84.6,237.4L85.1,238.1L85.6,238.7L86.1,239.2L86.6,239.6L87.1,239.9L87.6,240.2L88.1,240.3L88.6,240.5L89.1,240.5L89.6,240.5L90.1,240.5L90.6,240.4L91.1,240.3L91.6,240.2L92.1,240.0L92.6,239.8L93.1,239.7L93.6,239.4L94.1,239.2L94.6,239.0L95.1,238.8L95.6,238.5L96.1,238.3L96.6,238.1L97.1,237.8L97.6,237.6L98.1,237.4L98.6,237.1L99.1,236.9L99.6,236.7L100.1,236.5L100.6,236.3L101.1,236.1L101.6,235.9L102.1,235.7L102.6,235.6L103.1,235.4L103.6,235.3L104.1,235.1L104.6,235.0L105.1,234.9L105.6,234.8L106.1,234.7L106.6,234.6L107.1,234.5L107.6,234.4L108.1,234.3L108.6,234.3L109.1,234.3L109.6,234.2L110.1,234.2L110.6,234.2L111.1,234.2L111.6,234.2L112.1,234.2L112.6,234.2L113.1,234.2L113.6,234.3L114.1,234.3L114.6,234.4L115.1,234.4L115.6,234.5L116.1,234.6L116.6,234.7L117.1,234.7L117.6,234.8L118.1,234.9L118.6,235.0L119.1,235.1L119.6,235.2L120.1,235.4L120.6,235.5L121.1,235.6L121.6,235.7L122.1,235.9L122.6,236.0L123.1,236.1L123.6,236.3L124.1,236.4L124.6,236.5L125.1,236.7L125.6,236.8L126.1,237.0L126.6,237.1L127.1,237.3L127.6,237.4L128.1,237.6L128.6,237.8L129.1,237.9L129.6,238.1L130.1,238.2L130.6,238.4L131.1,238.5L131.6,238.7L132.1,238.9L132.6,239.0L133.1,239.2L133.6,239.4L134.1,239.5L134.6,239.7L135.1,239.9L135.6,240.0L136.1,240.2L136.6,240.4L137.1,240.5L137.6,240.7L138.1,240.9L138.6,241.1L139.1,241.2L139.6,241.4L140.1,241.6L140.6,241.8L141.1,241.9L141.6,242.1L142.1,242.3L142.6,242.5L143.1,242.6L143.6,242.8L144.1,243.0L144.6,243.1L145.1,243.3L145.6,243.5L146.1,243.7L146.6,243.8L147.1,244.0L147.6,244.2L148.1,244.3L148.6,244.5L149.1,244.7L149.6,244.8L150.1,245.0L150.6,245.1L151.1,245.3L151.6,245.5L152.1,245.6L152.6,245.8L153.1,245.9L153.6,246.0L154.1,246.2L154.6,246.3L155.1,246.5L155.6,246.6L156.1,246.7L156.6,246.9L157.1,247.0L157.6,247.1L158.1,247.2L158.6,247.3L159.1,247.4L159.6,247.5L160.1,247.7L160.6,247.8L161.1,247.9L161.6,247.9L162.1,248.0L162.6,248.1L163.1,248.2L163.6,248.3L164.1,248.4L164.6,248.5L165.1,248.5L165.6,248.6L166.1,248.7L166.6,248.7L167.1,248.8L167.6,248.8L168.1,248.9L168.6,249.0L169.1,249.0L169.6,249.1L170.1,249.1L170.6,249.1L171.1,249.2L171.6,249.2L172.1,249.3L172.6,249.3L173.1,249.3L173.6,249.4L174.1,249.4L174.6,249.4L175.1,249.4L175.6,249.5L176.1,249.5L176.6,249.5L177.1,249.5L177.6,249.6L178.1,249.6L178.6,249.6L179.1,249.6L179.6,249.6L180.1,249.6L180.6,249.7L181.1,249.7L181.6,249.7L182.1,249.7L182.6,249.7L183.1,249.7L183.6,249.7L184.1,249.7L184.6,249.7L185.1,249.7L185.6,249.7L186.1,249.7L186.6,249.7L187.1,249.8L187.6,249.8L188.1,249.8L188.6,249.8L189.1,249.8L189.6,249.8L190.1,249.8L190.6,249.8L191.1,249.8L191.6,249.8L192.1,249.8L192.6,249.8L193.1,249.8L193.6,249.8L194.1,249.8L194.6,249.8L195.1,249.8L195.6,249.8L196.1,249.8L196.6,249.8L197.1,249.8L197.6,249.8L198.1,249.8L198.6,249.8L199.1,249.8L199.6,249.8L200.1,249.8L200.6,249.8L201.1,249.8L201.6,249.8L202.1,249.8L202.6,249.8L203.1,249.8L203.6,249.8" fill="none" stroke="#f26464" stroke-width="1.1" stroke-linejoin="round" opacity="1.0"/>
<path d="M22.1,287.7L22.8,288.1L23.5,288.1L24.2,287.9L24.9,287.7L25.6,287.7L26.3,287.8L27.0,288.3L27.7,288.2L28.4,288.3L29.1,288.2L29.8,287.7L30.5,287.9L31.2,288.3L31.9,288.2L32.6,288.3L33.3,288.2L34.0,288.1L34.7,288.1L35.4,288.2L36.1,287.9L36.8,287.6L37.5,287.8L38.2,287.6L38.9,287.7L39.6,287.9L40.3,287.7L41.0,287.6L41.7,287.5L42.4,287.6L43.1,287.6L43.8,287.6L44.5,287.8L45.2,287.1L45.9,287.2L46.6,286.9L47.3,287.4L48.0,287.1L48.7,286.9L49.4,286.9L50.1,286.2L50.8,286.6L51.5,286.0L52.2,286.0L52.9,285.6L53.6,285.5L54.3,285.0L55.0,284.6L55.7,284.3L56.4,284.3L57.1,283.8L57.8,283.2L58.5,283.0L59.2,282.7L59.9,282.2L60.6,282.0L61.3,281.8L62.0,281.2L62.7,280.9L63.4,280.2L64.1,280.2L64.8,279.9L65.5,279.3L66.2,278.6L66.9,278.4L67.6,278.6L68.3,278.4L69.0,278.1L69.7,277.8L70.4,277.7L71.1,277.3L71.8,277.6L72.5,277.8L73.2,277.3L73.9,277.7L74.6,277.9L75.3,277.9L76.0,277.9L76.7,278.0L77.4,278.6L78.1,279.0L78.8,279.2L79.5,279.2L80.2,279.8L80.9,280.2L81.6,280.2L82.3,280.8L83.0,280.9L83.7,281.1L84.4,281.3L85.1,282.1L85.8,282.4L86.5,282.2L87.2,282.5L87.9,282.9L88.6,283.0L89.3,283.5L90.0,283.3L90.7,283.6L91.4,283.6L92.1,283.4L92.8,283.7L93.5,283.3L94.2,283.2L94.9,283.0L95.6,282.6L96.3,282.0L97.0,282.2L97.7,281.6L98.4,280.9L99.1,280.3L99.8,279.7L100.5,278.8L101.2,277.9L101.9,277.5L102.6,276.9L103.3,275.5L104.0,275.2L104.7,273.9L105.4,273.4L106.1,272.3L106.8,271.0L107.5,270.1L108.2,269.6L108.9,268.8L109.6,267.8L110.3,266.8L111.0,266.0L111.7,265.4L112.4,264.8L113.1,264.2L113.8,263.3L114.5,263.3L115.2,263.0L115.9,262.5L116.6,261.9L117.3,261.9L118.0,262.2L118.7,262.2L119.4,262.7L120.1,262.7L120.8,263.1L121.5,263.1L122.2,263.8L122.9,264.4L123.6,265.1L124.3,265.6L125.0,265.8L125.7,266.5L126.4,267.5L127.1,267.5L127.8,268.1L128.5,268.7L129.2,269.6L129.9,269.9L130.6,270.6L131.3,271.1L132.0,271.5L132.7,271.3L133.4,272.0L134.1,272.3L134.8,272.4L135.5,272.7L136.2,272.7L136.9,272.6L137.6,272.8L138.3,272.5L139.0,272.2L139.7,272.2L140.4,272.6L141.1,272.1L141.8,272.2L142.5,272.4L143.2,272.2L143.9,272.3L144.6,272.1L145.3,272.1L146.0,271.9L146.7,272.1L147.4,272.3L148.1,272.8L148.8,273.0L149.5,273.0L150.2,273.8L150.9,273.8L151.6,274.5L152.3,274.7L153.0,275.5L153.7,275.8L154.4,276.9L155.1,277.1L155.8,278.0L156.5,278.3L157.2,278.9L157.9,279.8L158.6,280.0L159.3,280.7L160.0,281.4L160.7,282.2L161.4,282.5L162.1,282.6L162.8,283.3L163.5,284.1L164.2,284.5L164.9,284.5L165.6,284.7L166.3,285.2L167.0,285.8L167.7,285.7L168.4,286.5L169.1,286.2L169.8,286.7L170.5,286.9L171.2,286.8L171.9,287.1L172.6,287.3L173.3,287.2L174.0,287.5L174.7,287.6L175.4,287.9L176.1,287.5L176.8,287.5L177.5,287.8L178.2,287.9L178.9,287.8L179.6,288.2L180.3,287.7L181.0,287.9L181.7,287.9L182.4,287.7L183.1,287.9L183.8,287.9L184.5,287.9L185.2,288.2L185.9,288.3L186.6,288.3L187.3,287.8L188.0,287.9L188.7,288.3L189.4,287.7L190.1,287.7L190.8,287.7L191.5,288.3L192.2,288.0L192.9,288.0L193.6,287.7L194.3,288.3L195.0,288.3L195.7,288.1L196.4,288.3L197.1,288.0L197.8,287.9L198.5,287.8L199.2,287.9L199.9,287.8L200.6,287.9L201.3,287.7L202.0,287.7L202.7,288.3L203.4,288.2" fill="none" stroke="#555" stroke-width="0.7" stroke-linejoin="round" opacity="0.8"/>
<path d="M22.1,288.0L22.6,288.0L23.1,288.0L23.6,288.0L24.1,288.0L24.6,288.0L25.1,288.0L25.6,288.0L26.1,288.0L26.6,288.0L27.1,288.0L27.6,288.0L28.1,288.0L28.6,288.0L29.1,288.0L29.6,288.0L30.1,288.0L30.6,288.0L31.1,288.0L31.6,288.0L32.1,288.0L32.6,288.0L33.1,288.0L33.6,288.0L34.1,288.0L34.6,288.0L35.1,288.0L35.6,287.9L36.1,287.9L36.6,287.9L37.1,287.9L37.6,287.9L38.1,287.9L38.6,287.9L39.1,287.9L39.6,287.8L40.1,287.8L40.6,287.8L41.1,287.8L41.6,287.7L42.1,287.7L42.6,287.7L43.1,287.6L43.6,287.6L44.1,287.5L44.6,287.5L45.1,287.4L45.6,287.4L46.1,287.3L46.6,287.2L47.1,287.1L47.6,287.1L48.1,287.0L48.6,286.9L49.1,286.7L49.6,286.6L50.1,286.5L50.6,286.4L51.1,286.2L51.6,286.1L52.1,285.9L52.6,285.7L53.1,285.6L53.6,285.4L54.1,285.2L54.6,285.0L55.1,284.7L55.6,284.5L56.1,284.3L56.6,284.0L57.1,283.8L57.6,283.5L58.1,283.3L58.6,283.0L59.1,282.7L59.6,282.5L60.1,282.2L60.6,281.9L61.1,281.6L61.6,281.3L62.1,281.1L62.6,280.8L63.1,280.5L63.6,280.2L64.1,280.0L64.6,279.7L65.1,279.5L65.6,279.2L66.1,279.0L66.6,278.8L67.1,278.6L67.6,278.4L68.1,278.2L68.6,278.1L69.1,277.9L69.6,277.8L70.1,277.7L70.6,277.6L71.1,277.6L71.6,277.5L72.1,277.5L72.6,277.5L73.1,277.5L73.6,277.5L74.1,277.6L74.6,277.7L75.1,277.8L75.6,277.9L76.1,278.0L76.6,278.2L77.1,278.3L77.6,278.5L78.1,278.7L78.6,278.9L79.1,279.1L79.6,279.3L80.1,279.6L80.6,279.8L81.1,280.0L81.6,280.3L82.1,280.5L82.6,280.8L83.1,281.0L83.6,281.3L84.1,281.5L84.6,281.7L85.1,282.0L85.6,282.2L86.1,282.4L86.6,282.6L87.1,282.8L87.6,282.9L88.1,283.1L88.6,283.2L89.1,283.3L89.6,283.4L90.1,283.5L90.6,283.5L91.1,283.6L91.6,283.6L92.1,283.5L92.6,283.5L93.1,283.4L93.6,283.3L94.1,283.2L94.6,283.0L95.1,282.8L95.6,282.6L96.1,282.4L96.6,282.1L97.1,281.8L97.6,281.5L98.1,281.1L98.6,280.7L99.1,280.3L99.6,279.8L100.1,279.4L100.6,278.9L101.1,278.3L101.6,277.8L102.1,277.2L102.6,276.6L103.1,276.0L103.6,275.4L104.1,274.8L104.6,274.1L105.1,273.5L105.6,272.8L106.1,272.1L106.6,271.5L107.1,270.8L107.6,270.1L108.1,269.5L108.6,268.8L109.1,268.2L109.6,267.6L110.1,267.0L110.6,266.4L111.1,265.9L111.6,265.3L112.1,264.9L112.6,264.4L113.1,264.0L113.6,263.6L114.1,263.3L114.6,263.0L115.1,262.7L115.6,262.5L116.1,262.4L116.6,262.2L117.1,262.2L117.6,262.1L118.1,262.1L118.6,262.2L119.1,262.3L119.6,262.4L120.1,262.6L120.6,262.8L121.1,263.1L121.6,263.4L122.1,263.7L122.6,264.0L123.1,264.4L123.6,264.8L124.1,265.2L124.6,265.6L125.1,266.0L125.6,266.5L126.1,266.9L126.6,267.3L127.1,267.8L127.6,268.2L128.1,268.6L128.6,269.0L129.1,269.4L129.6,269.8L130.1,270.1L130.6,270.5L131.1,270.8L131.6,271.1L132.1,271.3L132.6,271.6L133.1,271.8L133.6,271.9L134.1,272.1L134.6,272.2L135.1,272.3L135.6,272.4L136.1,272.5L136.6,272.5L137.1,272.5L137.6,272.5L138.1,272.5L138.6,272.5L139.1,272.4L139.6,272.4L140.1,272.4L140.6,272.3L141.1,272.2L141.6,272.2L142.1,272.1L142.6,272.1L143.1,272.1L143.6,272.1L144.1,272.1L144.6,272.1L145.1,272.1L145.6,272.2L146.1,272.2L146.6,272.3L147.1,272.5L147.6,272.6L148.1,272.8L148.6,272.9L149.1,273.2L149.6,273.4L150.1,273.6L150.6,273.9L151.1,274.2L151.6,274.5L152.1,274.9L152.6,275.2L153.1,275.6L153.6,276.0L154.1,276.4L154.6,276.8L155.1,277.2L155.6,277.6L156.1,278.0L156.6,278.5L157.1,278.9L157.6,279.3L158.1,279.7L158.6,280.2L159.1,280.6L159.6,281.0L160.1,281.4L160.6,281.8L161.1,282.2L161.6,282.5L162.1,282.9L162.6,283.2L163.1,283.6L163.6,283.9L164.1,284.2L164.6,284.5L165.1,284.7L165.6,285.0L166.1,285.2L166.6,285.5L167.1,285.7L167.6,285.9L168.1,286.1L168.6,286.2L169.1,286.4L169.6,286.6L170.1,286.7L170.6,286.8L171.1,286.9L171.6,287.1L172.1,287.2L172.6,287.2L173.1,287.3L173.6,287.4L174.1,287.5L174.6,287.5L175.1,287.6L175.6,287.6L176.1,287.7L176.6,287.7L177.1,287.8L177.6,287.8L178.1,287.8L178.6,287.8L179.1,287.9L179.6,287.9L180.1,287.9L180.6,287.9L181.1,287.9L181.6,287.9L182.1,287.9L182.6,288.0L183.1,288.0L183.6,288.0L184.1,288.0L184.6,288.0L185.1,288.0L185.6,288.0L186.1,288.0L186.6,288.0L187.1,288.0L187.6,288.0L188.1,288.0L188.6,288.0L189.1,288.0L189.6,288.0L190.1,288.0L190.6,288.0L191.1,288.0L191.6,288.0L192.1,288.0L192.6,288.0L193.1,288.0L193.6,288.0L194.1,288.0L194.6,288.0L195.1,288.0L195.6,288.0L196.1,288.0L196.6,288.0L197.1,288.0L197.6,288.0L198.1,288.0L198.6,288.0L199.1,288.0L199.6,288.0L200.1,288.0L200.6,288.0L201.1,288.0L201.6,288.0L202.1,288.0L202.6,288.0L203.1,288.0L203.6,288.0" fill="none" stroke="#f26464" stroke-width="1.1" stroke-linejoin="round" opacity="1.0"/>
<path d="M22.1,288.0L22.6,288.0L23.1,288.0L23.6,288.0L24.1,288.0L24.6,288.0L25.1,288.0L25.6,288.0L26.1,288.0L26.6,288.0L27.1,288.0L27.6,288.0L28.1,288.0L28.6,288.0L29.1,288.0L29.6,288.0L30.1,288.0L30.6,288.0L31.1,288.0L31.6,288.0L32.1,288.0L32.6,288.0L33.1,288.0L33.6,288.0L34.1,288.0L34.6,288.0L35.1,288.0L35.6,288.0L36.1,288.0L36.6,288.0L37.1,288.0L37.6,288.0L38.1,288.0L38.6,288.0L39.1,288.0L39.6,288.0L40.1,288.0L40.6,288.0L41.1,288.0L41.6,288.0L42.1,288.0L42.6,288.0L43.1,288.0L43.6,288.0L44.1,288.0L44.6,288.0L45.1,288.0L45.6,288.0L46.1,288.0L46.6,288.0L47.1,288.0L47.6,288.0L48.1,288.0L48.6,288.0L49.1,288.0L49.6,288.0L50.1,288.0L50.6,288.0L51.1,288.0L51.6,288.0L52.1,288.0L52.6,288.0L53.1,288.0L53.6,288.0L54.1,288.0L54.6,288.0L55.1,288.0L55.6,288.0L56.1,288.0L56.6,288.0L57.1,288.0L57.6,288.0L58.1,288.0L58.6,288.0L59.1,288.0L59.6,288.0L60.1,288.0L60.6,288.0L61.1,288.0L61.6,288.0L62.1,288.0L62.6,288.0L63.1,288.0L63.6,288.0L64.1,288.0L64.6,288.0L65.1,288.0L65.6,288.0L66.1,288.0L66.6,288.0L67.1,288.0L67.6,288.0L68.1,288.0L68.6,288.0L69.1,288.0L69.6,288.0L70.1,288.0L70.6,288.0L71.1,288.0L71.6,288.0L72.1,288.0L72.6,288.0L73.1,288.0L73.6,288.0L74.1,288.0L74.6,288.0L75.1,288.0L75.6,288.0L76.1,288.0L76.6,288.0L77.1,288.0L77.6,287.9L78.1,287.9L78.6,287.9L79.1,287.9L79.6,287.9L80.1,287.9L80.6,287.9L81.1,287.8L81.6,287.8L82.1,287.8L82.6,287.8L83.1,287.7L83.6,287.7L84.1,287.7L84.6,287.6L85.1,287.5L85.6,287.5L86.1,287.4L86.6,287.3L87.1,287.3L87.6,287.2L88.1,287.1L88.6,287.0L89.1,286.8L89.6,286.7L90.1,286.6L90.6,286.4L91.1,286.2L91.6,286.0L92.1,285.8L92.6,285.6L93.1,285.4L93.6,285.1L94.1,284.8L94.6,284.5L95.1,284.2L95.6,283.9L96.1,283.5L96.6,283.2L97.1,282.8L97.6,282.3L98.1,281.9L98.6,281.4L99.1,280.9L99.6,280.4L100.1,279.9L100.6,279.3L101.1,278.8L101.6,278.2L102.1,277.6L102.6,276.9L103.1,276.3L103.6,275.6L104.1,275.0L104.6,274.3L105.1,273.6L105.6,272.9L106.1,272.3L106.6,271.6L107.1,270.9L107.6,270.2L108.1,269.6L108.6,268.9L109.1,268.3L109.6,267.7L110.1,267.1L110.6,266.5L111.1,266.0L111.6,265.4L112.1,265.0L112.6,264.5L113.1,264.1L113.6,263.8L114.1,263.4L114.6,263.2L115.1,262.9L115.6,262.8L116.1,262.6L116.6,262.5L117.1,262.5L117.6,262.5L118.1,262.6L118.6,262.7L119.1,262.9L119.6,263.1L120.1,263.3L120.6,263.6L121.1,264.0L121.6,264.4L122.1,264.8L122.6,265.3L123.1,265.7L123.6,266.3L124.1,266.8L124.6,267.4L125.1,268.0L125.6,268.7L126.1,269.3L126.6,270.0L127.1,270.6L127.6,271.3L128.1,272.0L128.6,272.7L129.1,273.4L129.6,274.0L130.1,274.7L130.6,275.4L131.1,276.0L131.6,276.7L132.1,277.3L132.6,277.9L133.1,278.5L133.6,279.1L134.1,279.7L134.6,280.2L135.1,280.7L135.6,281.2L136.1,281.7L136.6,282.2L137.1,282.6L137.6,283.0L138.1,283.4L138.6,283.8L139.1,284.1L139.6,284.4L140.1,284.7L140.6,285.0L141.1,285.3L141.6,285.5L142.1,285.8L142.6,286.0L143.1,286.2L143.6,286.3L144.1,286.5L144.6,286.7L145.1,286.8L145.6,286.9L146.1,287.0L146.6,287.1L147.1,287.2L147.6,287.3L148.1,287.4L148.6,287.5L149.1,287.5L149.6,287.6L150.1,287.6L150.6,287.7L151.1,287.7L151.6,287.8L152.1,287.8L152.6,287.8L153.1,287.8L153.6,287.9L154.1,287.9L154.6,287.9L155.1,287.9L155.6,287.9L156.1,287.9L156.6,287.9L157.1,287.9L157.6,288.0L158.1,288.0L158.6,288.0L159.1,288.0L159.6,288.0L160.1,288.0L160.6,288.0L161.1,288.0L161.6,288.0L162.1,288.0L162.6,288.0L163.1,288.0L163.6,288.0L164.1,288.0L164.6,288.0L165.1,288.0L165.6,288.0L166.1,288.0L166.6,288.0L167.1,288.0L167.6,288.0L168.1,288.0L168.6,288.0L169.1,288.0L169.6,288.0L170.1,288.0L170.6,288.0L171.1,288.0L171.6,288.0L172.1,288.0L172.6,288.0L173.1,288.0L173.6,288.0L174.1,288.0L174.6,288.0L175.1,288.0L175.6,288.0L176.1,288.0L176.6,288.0L177.1,288.0L177.6,288.0L178.1,288.0L178.6,288.0L179.1,288.0L179.6,288.0L180.1,288.0L180.6,288.0L181.1,288.0L181.6,288.0L182.1,288.0L182.6,288.0L183.1,288.0L183.6,288.0L184.1,288.0L184.6,288.0L185.1,288.0L185.6,288.0L186.1,288.0L186.6,288.0L187.1,288.0L187.6,288.0L188.1,288.0L188.6,288.0L189.1,288.0L189.6,288.0L190.1,288.0L190.6,288.0L191.1,288.0L191.6,288.0L192.1,288.0L192.6,288.0L193.1,288.0L193.6,288.0L194.1,288.0L194.6,288.0L195.1,288.0L195.6,288.0L196.1,288.0L196.6,288.0L197.1,288.0L197.6,288.0L198.1,288.0L198.6,288.0L199.1,288.0L199.6,288.0L200.1,288.0L200.6,288.0L201.1,288.0L201.6,288.0L202.1,288.0L202.6,288.0L203.1,288.0L203.6,288.0" fill="none" stroke="#b77cf0" stroke-width="1.0" stroke-linejoin="round" opacity="1.0"/>
<path d="M22.1,288.0L22.6,288.0L23.1,288.0L23.6,288.0L24.1,288.0L24.6,288.0L25.1,288.0L25.6,288.0L26.1,288.0L26.6,288.0L27.1,288.0L27.6,288.0L28.1,288.0L28.6,288.0L29.1,288.0L29.6,288.0L30.1,288.0L30.6,288.0L31.1,288.0L31.6,288.0L32.1,288.0L32.6,288.0L33.1,288.0L33.6,288.0L34.1,288.0L34.6,288.0L35.1,288.0L35.6,287.9L36.1,287.9L36.6,287.9L37.1,287.9L37.6,287.9L38.1,287.9L38.6,287.9L39.1,287.9L39.6,287.8L40.1,287.8L40.6,287.8L41.1,287.8L41.6,287.7L42.1,287.7L42.6,287.7L43.1,287.6L43.6,287.6L44.1,287.5L44.6,287.5L45.1,287.4L45.6,287.4L46.1,287.3L46.6,287.2L47.1,287.1L47.6,287.1L48.1,287.0L48.6,286.9L49.1,286.7L49.6,286.6L50.1,286.5L50.6,286.4L51.1,286.2L51.6,286.1L52.1,285.9L52.6,285.7L53.1,285.6L53.6,285.4L54.1,285.2L54.6,285.0L55.1,284.7L55.6,284.5L56.1,284.3L56.6,284.0L57.1,283.8L57.6,283.5L58.1,283.3L58.6,283.0L59.1,282.7L59.6,282.5L60.1,282.2L60.6,281.9L61.1,281.6L61.6,281.3L62.1,281.1L62.6,280.8L63.1,280.5L63.6,280.2L64.1,280.0L64.6,279.7L65.1,279.5L65.6,279.2L66.1,279.0L66.6,278.8L67.1,278.6L67.6,278.4L68.1,278.2L68.6,278.1L69.1,277.9L69.6,277.8L70.1,277.7L70.6,277.6L71.1,277.6L71.6,277.5L72.1,277.5L72.6,277.5L73.1,277.5L73.6,277.6L74.1,277.6L74.6,277.7L75.1,277.8L75.6,277.9L76.1,278.0L76.6,278.2L77.1,278.4L77.6,278.6L78.1,278.8L78.6,279.0L79.1,279.2L79.6,279.4L80.1,279.7L80.6,279.9L81.1,280.2L81.6,280.5L82.1,280.7L82.6,281.0L83.1,281.3L83.6,281.6L84.1,281.9L84.6,282.1L85.1,282.4L85.6,282.7L86.1,283.0L86.6,283.2L87.1,283.5L87.6,283.8L88.1,284.0L88.6,284.2L89.1,284.5L89.6,284.7L90.1,284.9L90.6,285.1L91.1,285.3L91.6,285.5L92.1,285.7L92.6,285.9L93.1,286.0L93.6,286.2L94.1,286.3L94.6,286.5L95.1,286.6L95.6,286.7L96.1,286.8L96.6,286.9L97.1,287.0L97.6,287.1L98.1,287.2L98.6,287.3L99.1,287.4L99.6,287.4L100.1,287.5L100.6,287.5L101.1,287.6L101.6,287.6L102.1,287.7L102.6,287.7L103.1,287.7L103.6,287.8L104.1,287.8L104.6,287.8L105.1,287.8L105.6,287.9L106.1,287.9L106.6,287.9L107.1,287.9L107.6,287.9L108.1,287.9L108.6,287.9L109.1,287.9L109.6,288.0L110.1,288.0L110.6,288.0L111.1,288.0L111.6,288.0L112.1,288.0L112.6,288.0L113.1,288.0L113.6,288.0L114.1,288.0L114.6,288.0L115.1,288.0L115.6,288.0L116.1,288.0L116.6,288.0L117.1,288.0L117.6,288.0L118.1,288.0L118.6,288.0L119.1,288.0L119.6,288.0L120.1,288.0L120.6,288.0L121.1,288.0L121.6,288.0L122.1,288.0L122.6,288.0L123.1,288.0L123.6,288.0L124.1,288.0L124.6,288.0L125.1,288.0L125.6,288.0L126.1,288.0L126.6,288.0L127.1,288.0L127.6,288.0L128.1,288.0L128.6,288.0L129.1,288.0L129.6,288.0L130.1,288.0L130.6,288.0L131.1,288.0L131.6,288.0L132.1,288.0L132.6,288.0L133.1,288.0L133.6,288.0L134.1,288.0L134.6,288.0L135.1,288.0L135.6,288.0L136.1,288.0L136.6,288.0L137.1,288.0L137.6,288.0L138.1,288.0L138.6,288.0L139.1,288.0L139.6,288.0L140.1,288.0L140.6,288.0L141.1,288.0L141.6,288.0L142.1,288.0L142.6,288.0L143.1,288.0L143.6,288.0L144.1,288.0L144.6,288.0L145.1,288.0L145.6,288.0L146.1,288.0L146.6,288.0L147.1,288.0L147.6,288.0L148.1,288.0L148.6,288.0L149.1,288.0L149.6,288.0L150.1,288.0L150.6,288.0L151.1,288.0L151.6,288.0L152.1,288.0L152.6,288.0L153.1,288.0L153.6,288.0L154.1,288.0L154.6,288.0L155.1,288.0L155.6,288.0L156.1,288.0L156.6,288.0L157.1,288.0L157.6,288.0L158.1,288.0L158.6,288.0L159.1,288.0L159.6,288.0L160.1,288.0L160.6,288.0L161.1,288.0L161.6,288.0L162.1,288.0L162.6,288.0L163.1,288.0L163.6,288.0L164.1,288.0L164.6,288.0L165.1,288.0L165.6,288.0L166.1,288.0L166.6,288.0L167.1,288.0L167.6,288.0L168.1,288.0L168.6,288.0L169.1,288.0L169.6,288.0L170.1,288.0L170.6,288.0L171.1,288.0L171.6,288.0L172.1,288.0L172.6,288.0L173.1,288.0L173.6,288.0L174.1,288.0L174.6,288.0L175.1,288.0L175.6,288.0L176.1,288.0L176.6,288.0L177.1,288.0L177.6,288.0L178.1,288.0L178.6,288.0L179.1,288.0L179.6,288.0L180.1,288.0L180.6,288.0L181.1,288.0L181.6,288.0L182.1,288.0L182.6,288.0L183.1,288.0L183.6,288.0L184.1,288.0L184.6,288.0L185.1,288.0L185.6,288.0L186.1,288.0L186.6,288.0L187.1,288.0L187.6,288.0L188.1,288.0L188.6,288.0L189.1,288.0L189.6,288.0L190.1,288.0L190.6,288.0L191.1,288.0L191.6,288.0L192.1,288.0L192.6,288.0L193.1,288.0L193.6,288.0L194.1,288.0L194.6,288.0L195.1,288.0L195.6,288.0L196.1,288.0L196.6,288.0L197.1,288.0L197.6,288.0L198.1,288.0L198.6,288.0L199.1,288.0L199.6,288.0L200.1,288.0L200.6,288.0L201.1,288.0L201.6,288.0L202.1,288.0L202.6,288.0L203.1,288.0L203.6,288.0" fill="none" stroke="#3fbf80" stroke-width="1.0" stroke-linejoin="round" opacity="1.0"/>
<path d="M22.1,288.0L22.6,288.0L23.1,288.0L23.6,288.0L24.1,288.0L24.6,288.0L25.1,288.0L25.6,288.0L26.1,288.0L26.6,288.0L27.1,288.0L27.6,288.0L28.1,288.0L28.6,288.0L29.1,288.0L29.6,288.0L30.1,288.0L30.6,288.0L31.1,288.0L31.6,288.0L32.1,288.0L32.6,288.0L33.1,288.0L33.6,288.0L34.1,288.0L34.6,288.0L35.1,288.0L35.6,288.0L36.1,288.0L36.6,288.0L37.1,288.0L37.6,288.0L38.1,288.0L38.6,288.0L39.1,288.0L39.6,288.0L40.1,288.0L40.6,288.0L41.1,288.0L41.6,288.0L42.1,288.0L42.6,288.0L43.1,288.0L43.6,288.0L44.1,288.0L44.6,288.0L45.1,288.0L45.6,288.0L46.1,288.0L46.6,288.0L47.1,288.0L47.6,288.0L48.1,288.0L48.6,288.0L49.1,288.0L49.6,288.0L50.1,288.0L50.6,288.0L51.1,288.0L51.6,288.0L52.1,288.0L52.6,288.0L53.1,288.0L53.6,288.0L54.1,288.0L54.6,288.0L55.1,288.0L55.6,288.0L56.1,288.0L56.6,288.0L57.1,288.0L57.6,288.0L58.1,288.0L58.6,288.0L59.1,288.0L59.6,288.0L60.1,288.0L60.6,288.0L61.1,288.0L61.6,288.0L62.1,288.0L62.6,288.0L63.1,288.0L63.6,288.0L64.1,288.0L64.6,288.0L65.1,288.0L65.6,288.0L66.1,288.0L66.6,288.0L67.1,288.0L67.6,288.0L68.1,288.0L68.6,288.0L69.1,288.0L69.6,288.0L70.1,288.0L70.6,288.0L71.1,288.0L71.6,288.0L72.1,288.0L72.6,288.0L73.1,288.0L73.6,288.0L74.1,288.0L74.6,288.0L75.1,288.0L75.6,288.0L76.1,288.0L76.6,288.0L77.1,288.0L77.6,288.0L78.1,288.0L78.6,288.0L79.1,288.0L79.6,288.0L80.1,288.0L80.6,288.0L81.1,288.0L81.6,288.0L82.1,288.0L82.6,288.0L83.1,288.0L83.6,288.0L84.1,288.0L84.6,288.0L85.1,288.0L85.6,288.0L86.1,288.0L86.6,288.0L87.1,288.0L87.6,288.0L88.1,288.0L88.6,288.0L89.1,288.0L89.6,288.0L90.1,288.0L90.6,288.0L91.1,288.0L91.6,288.0L92.1,288.0L92.6,288.0L93.1,288.0L93.6,288.0L94.1,288.0L94.6,288.0L95.1,288.0L95.6,288.0L96.1,288.0L96.6,288.0L97.1,288.0L97.6,288.0L98.1,288.0L98.6,288.0L99.1,288.0L99.6,288.0L100.1,288.0L100.6,288.0L101.1,288.0L101.6,288.0L102.1,288.0L102.6,288.0L103.1,288.0L103.6,288.0L104.1,288.0L104.6,288.0L105.1,288.0L105.6,288.0L106.1,288.0L106.6,288.0L107.1,288.0L107.6,288.0L108.1,288.0L108.6,288.0L109.1,288.0L109.6,288.0L110.1,288.0L110.6,287.9L111.1,287.9L111.6,287.9L112.1,287.9L112.6,287.9L113.1,287.9L113.6,287.9L114.1,287.8L114.6,287.8L115.1,287.8L115.6,287.8L116.1,287.7L116.6,287.7L117.1,287.7L117.6,287.6L118.1,287.6L118.6,287.5L119.1,287.4L119.6,287.4L120.1,287.3L120.6,287.2L121.1,287.1L121.6,287.0L122.1,286.9L122.6,286.8L123.1,286.6L123.6,286.5L124.1,286.3L124.6,286.2L125.1,286.0L125.6,285.8L126.1,285.6L126.6,285.4L127.1,285.1L127.6,284.9L128.1,284.6L128.6,284.3L129.1,284.1L129.6,283.7L130.1,283.4L130.6,283.1L131.1,282.7L131.6,282.4L132.1,282.0L132.6,281.6L133.1,281.2L133.6,280.8L134.1,280.4L134.6,280.0L135.1,279.6L135.6,279.2L136.1,278.8L136.6,278.4L137.1,277.9L137.6,277.5L138.1,277.1L138.6,276.7L139.1,276.3L139.6,276.0L140.1,275.6L140.6,275.3L141.1,275.0L141.6,274.7L142.1,274.4L142.6,274.2L143.1,273.9L143.6,273.7L144.1,273.6L144.6,273.4L145.1,273.3L145.6,273.3L146.1,273.2L146.6,273.2L147.1,273.2L147.6,273.3L148.1,273.4L148.6,273.5L149.1,273.6L149.6,273.8L150.1,274.0L150.6,274.2L151.1,274.5L151.6,274.8L152.1,275.1L152.6,275.4L153.1,275.8L153.6,276.1L154.1,276.5L154.6,276.9L155.1,277.3L155.6,277.7L156.1,278.1L156.6,278.5L157.1,278.9L157.6,279.4L158.1,279.8L158.6,280.2L159.1,280.6L159.6,281.0L160.1,281.4L160.6,281.8L161.1,282.2L161.6,282.5L162.1,282.9L162.6,283.2L163.1,283.6L163.6,283.9L164.1,284.2L164.6,284.5L165.1,284.7L165.6,285.0L166.1,285.2L166.6,285.5L167.1,285.7L167.6,285.9L168.1,286.1L168.6,286.2L169.1,286.4L169.6,286.6L170.1,286.7L170.6,286.8L171.1,286.9L171.6,287.1L172.1,287.2L172.6,287.2L173.1,287.3L173.6,287.4L174.1,287.5L174.6,287.5L175.1,287.6L175.6,287.6L176.1,287.7L176.6,287.7L177.1,287.8L177.6,287.8L178.1,287.8L178.6,287.8L179.1,287.9L179.6,287.9L180.1,287.9L180.6,287.9L181.1,287.9L181.6,287.9L182.1,287.9L182.6,288.0L183.1,288.0L183.6,288.0L184.1,288.0L184.6,288.0L185.1,288.0L185.6,288.0L186.1,288.0L186.6,288.0L187.1,288.0L187.6,288.0L188.1,288.0L188.6,288.0L189.1,288.0L189.6,288.0L190.1,288.0L190.6,288.0L191.1,288.0L191.6,288.0L192.1,288.0L192.6,288.0L193.1,288.0L193.6,288.0L194.1,288.0L194.6,288.0L195.1,288.0L195.6,288.0L196.1,288.0L196.6,288.0L197.1,288.0L197.6,288.0L198.1,288.0L198.6,288.0L199.1,288.0L199.6,288.0L200.1,288.0L200.6,288.0L201.1,288.0L201.6,288.0L202.1,288.0L202.6,288.0L203.1,288.0L203.6,288.0" fill="none" stroke="#dba54a" stroke-width="1.0" stroke-linejoin="round" opacity="1.0"/>
<path d="M22.1,326.7L22.8,326.4L23.5,326.5L24.2,326.5L24.9,326.7L25.6,326.4L26.3,326.5L27.0,326.5L27.7,326.7L28.4,326.4L29.1,326.2L29.8,326.4L30.5,326.8L31.2,326.3L31.9,326.6L32.6,326.2L33.3,326.3L34.0,326.6L34.7,326.2L35.4,326.5L36.1,326.6L36.8,326.4L37.5,326.7L38.2,326.7L38.9,326.3L39.6,326.7L40.3,326.7L41.0,326.5L41.7,326.5L42.4,326.5L43.1,326.6L43.8,326.6L44.5,326.3L45.2,326.5L45.9,326.5L46.6,326.3L47.3,326.6L48.0,326.1L48.7,326.2L49.4,326.1L50.1,326.0L50.8,325.6L51.5,325.8L52.2,325.3L52.9,325.4L53.6,325.1L54.3,325.1L55.0,324.9L55.7,324.6L56.4,323.7L57.1,323.8L57.8,323.0L58.5,322.5L59.2,321.6L59.9,321.6L60.6,320.5L61.3,319.8L62.0,319.0L62.7,318.1L63.4,317.3L64.1,316.4L64.8,315.6L65.5,314.5L66.2,313.7L66.9,312.9L67.6,311.8L68.3,310.4L69.0,309.7L69.7,308.8L70.4,307.9L71.1,306.8L71.8,305.9L72.5,305.6L73.2,304.9L73.9,304.2L74.6,304.1L75.3,303.4L76.0,303.7L76.7,303.8L77.4,303.9L78.1,303.5L78.8,304.3L79.5,304.8L80.2,304.9L80.9,305.8L81.6,306.3L82.3,307.1L83.0,307.8L83.7,308.9L84.4,310.2L85.1,311.0L85.8,312.1L86.5,313.2L87.2,313.6L87.9,315.0L88.6,315.9L89.3,316.5L90.0,317.1L90.7,317.7L91.4,318.5L92.1,319.0L92.8,319.4L93.5,320.1L94.2,320.4L94.9,320.4L95.6,320.4L96.3,320.7L97.0,320.8L97.7,320.7L98.4,320.4L99.1,320.3L99.8,319.9L100.5,319.2L101.2,318.9L101.9,318.3L102.6,317.4L103.3,316.7L104.0,316.1L104.7,315.6L105.4,314.9L106.1,313.8L106.8,313.2L107.5,312.1L108.2,311.8L108.9,310.9L109.6,310.5L110.3,309.9L111.0,308.8L111.7,308.9L112.4,308.0L113.1,308.2L113.8,307.9L114.5,307.2L115.2,307.1L115.9,307.0L116.6,307.6L117.3,307.6L118.0,308.0L118.7,308.1L119.4,308.2L120.1,308.9L120.8,309.0L121.5,309.5L122.2,310.1L122.9,310.8L123.6,311.1L124.3,311.8L125.0,312.4L125.7,313.1L126.4,313.3L127.1,313.8L127.8,314.3L128.5,314.6L129.2,315.2L129.9,315.0L130.6,315.3L131.3,315.4L132.0,315.8L132.7,316.2L133.4,316.1L134.1,316.2L134.8,316.4L135.5,316.3L136.2,315.8L136.9,315.7L137.6,315.8L138.3,315.5L139.0,315.7L139.7,315.2L140.4,315.3L141.1,315.5L141.8,315.1L142.5,315.0L143.2,315.4L143.9,315.0L144.6,315.6L145.3,315.4L146.0,315.7L146.7,315.6L147.4,315.8L148.1,315.8L148.8,315.9L149.5,316.8L150.2,316.6L150.9,316.8L151.6,317.7L152.3,317.8L153.0,318.2L153.7,318.9L154.4,319.1L155.1,319.2L155.8,319.6L156.5,320.3L157.2,320.7L157.9,320.8L158.6,321.2L159.3,321.8L160.0,321.8L160.7,322.7L161.4,322.9L162.1,322.9L162.8,323.5L163.5,323.8L164.2,323.7L164.9,324.2L165.6,324.7L166.3,324.7L167.0,325.1L167.7,324.9L168.4,325.6L169.1,325.5L169.8,325.6L170.5,325.3L171.2,325.7L171.9,325.5L172.6,325.9L173.3,325.8L174.0,325.9L174.7,326.0L175.4,326.0L176.1,326.1L176.8,326.3L177.5,326.1L178.2,326.4L178.9,326.7L179.6,326.6L180.3,326.7L181.0,326.2L181.7,326.6L182.4,326.3L183.1,326.8L183.8,326.5L184.5,326.6L185.2,326.7L185.9,326.2L186.6,326.2L187.3,326.7L188.0,326.7L188.7,326.4L189.4,326.2L190.1,326.2L190.8,326.7L191.5,326.6L192.2,326.4L192.9,326.6L193.6,326.7L194.3,326.2L195.0,326.7L195.7,326.8L196.4,326.8L197.1,326.8L197.8,326.5L198.5,326.6L199.2,326.2L199.9,326.7L200.6,326.6L201.3,326.4L202.0,326.2L202.7,326.3L203.4,326.4" fill="none" stroke="#555" stroke-width="0.7" stroke-linejoin="round" opacity="0.8"/>
<path d="M22.1,326.5L22.6,326.5L23.1,326.5L23.6,326.5L24.1,326.5L24.6,326.5L25.1,326.5L25.6,326.5L26.1,326.5L26.6,326.5L27.1,326.5L27.6,326.5L28.1,326.5L28.6,326.5L29.1,326.5L29.6,326.5L30.1,326.5L30.6,326.5L31.1,326.5L31.6,326.5L32.1,326.5L32.6,326.5L33.1,326.5L33.6,326.5L34.1,326.5L34.6,326.5L35.1,326.5L35.6,326.5L36.1,326.5L36.6,326.5L37.1,326.5L37.6,326.5L38.1,326.5L38.6,326.5L39.1,326.5L39.6,326.5L40.1,326.5L40.6,326.5L41.1,326.5L41.6,326.5L42.1,326.5L42.6,326.5L43.1,326.4L43.6,326.4L44.1,326.4L44.6,326.4L45.1,326.4L45.6,326.4L46.1,326.3L46.6,326.3L47.1,326.3L47.6,326.3L48.1,326.2L48.6,326.2L49.1,326.1L49.6,326.0L50.1,326.0L50.6,325.9L51.1,325.8L51.6,325.7L52.1,325.6L52.6,325.5L53.1,325.3L53.6,325.2L54.1,325.0L54.6,324.8L55.1,324.6L55.6,324.3L56.1,324.1L56.6,323.8L57.1,323.5L57.6,323.2L58.1,322.8L58.6,322.5L59.1,322.0L59.6,321.6L60.1,321.2L60.6,320.7L61.1,320.1L61.6,319.6L62.1,319.0L62.6,318.4L63.1,317.8L63.6,317.2L64.1,316.5L64.6,315.8L65.1,315.1L65.6,314.4L66.1,313.7L66.6,313.0L67.1,312.3L67.6,311.5L68.1,310.8L68.6,310.1L69.1,309.4L69.6,308.7L70.1,308.1L70.6,307.5L71.1,306.9L71.6,306.3L72.1,305.8L72.6,305.3L73.1,304.9L73.6,304.5L74.1,304.2L74.6,303.9L75.1,303.7L75.6,303.6L76.1,303.5L76.6,303.5L77.1,303.5L77.6,303.6L78.1,303.8L78.6,304.0L79.1,304.3L79.6,304.6L80.1,305.0L80.6,305.5L81.1,305.9L81.6,306.5L82.1,307.0L82.6,307.6L83.1,308.2L83.6,308.9L84.1,309.6L84.6,310.2L85.1,310.9L85.6,311.6L86.1,312.3L86.6,313.0L87.1,313.7L87.6,314.3L88.1,315.0L88.6,315.6L89.1,316.2L89.6,316.8L90.1,317.3L90.6,317.8L91.1,318.3L91.6,318.7L92.1,319.1L92.6,319.5L93.1,319.8L93.6,320.1L94.1,320.3L94.6,320.5L95.1,320.6L95.6,320.7L96.1,320.7L96.6,320.7L97.1,320.7L97.6,320.6L98.1,320.4L98.6,320.3L99.1,320.0L99.6,319.8L100.1,319.5L100.6,319.2L101.1,318.8L101.6,318.4L102.1,318.0L102.6,317.6L103.1,317.1L103.6,316.6L104.1,316.1L104.6,315.6L105.1,315.0L105.6,314.5L106.1,313.9L106.6,313.4L107.1,312.8L107.6,312.3L108.1,311.8L108.6,311.3L109.1,310.8L109.6,310.3L110.1,309.9L110.6,309.4L111.1,309.0L111.6,308.7L112.1,308.4L112.6,308.1L113.1,307.8L113.6,307.6L114.1,307.5L114.6,307.3L115.1,307.3L115.6,307.2L116.1,307.2L116.6,307.3L117.1,307.4L117.6,307.5L118.1,307.7L118.6,307.9L119.1,308.1L119.6,308.4L120.1,308.7L120.6,309.0L121.1,309.3L121.6,309.7L122.1,310.1L122.6,310.5L123.1,310.8L123.6,311.2L124.1,311.6L124.6,312.0L125.1,312.4L125.6,312.8L126.1,313.1L126.6,313.5L127.1,313.8L127.6,314.1L128.1,314.4L128.6,314.7L129.1,314.9L129.6,315.2L130.1,315.4L130.6,315.5L131.1,315.7L131.6,315.8L132.1,315.9L132.6,316.0L133.1,316.0L133.6,316.1L134.1,316.1L134.6,316.1L135.1,316.1L135.6,316.0L136.1,316.0L136.6,315.9L137.1,315.9L137.6,315.8L138.1,315.7L138.6,315.7L139.1,315.6L139.6,315.5L140.1,315.4L140.6,315.4L141.1,315.3L141.6,315.3L142.1,315.2L142.6,315.2L143.1,315.2L143.6,315.2L144.1,315.2L144.6,315.3L145.1,315.3L145.6,315.4L146.1,315.5L146.6,315.6L147.1,315.7L147.6,315.8L148.1,316.0L148.6,316.1L149.1,316.3L149.6,316.5L150.1,316.7L150.6,317.0L151.1,317.2L151.6,317.4L152.1,317.7L152.6,318.0L153.1,318.2L153.6,318.5L154.1,318.8L154.6,319.1L155.1,319.4L155.6,319.6L156.1,319.9L156.6,320.2L157.1,320.5L157.6,320.8L158.1,321.1L158.6,321.4L159.1,321.6L159.6,321.9L160.1,322.2L160.6,322.4L161.1,322.7L161.6,322.9L162.1,323.1L162.6,323.4L163.1,323.6L163.6,323.8L164.1,324.0L164.6,324.1L165.1,324.3L165.6,324.5L166.1,324.6L166.6,324.8L167.1,324.9L167.6,325.1L168.1,325.2L168.6,325.3L169.1,325.4L169.6,325.5L170.1,325.6L170.6,325.7L171.1,325.8L171.6,325.8L172.1,325.9L172.6,326.0L173.1,326.0L173.6,326.1L174.1,326.1L174.6,326.2L175.1,326.2L175.6,326.2L176.1,326.3L176.6,326.3L177.1,326.3L177.6,326.3L178.1,326.3L178.6,326.4L179.1,326.4L179.6,326.4L180.1,326.4L180.6,326.4L181.1,326.4L181.6,326.4L182.1,326.4L182.6,326.5L183.1,326.5L183.6,326.5L184.1,326.5L184.6,326.5L185.1,326.5L185.6,326.5L186.1,326.5L186.6,326.5L187.1,326.5L187.6,326.5L188.1,326.5L188.6,326.5L189.1,326.5L189.6,326.5L190.1,326.5L190.6,326.5L191.1,326.5L191.6,326.5L192.1,326.5L192.6,326.5L193.1,326.5L193.6,326.5L194.1,326.5L194.6,326.5L195.1,326.5L195.6,326.5L196.1,326.5L196.6,326.5L197.1,326.5L197.6,326.5L198.1,326.5L198.6,326.5L199.1,326.5L199.6,326.5L200.1,326.5L200.6,326.5L201.1,326.5L201.6,326.5L202.1,326.5L202.6,326.5L203.1,326.5L203.6,326.5" fill="none" stroke="#f26464" stroke-width="1.1" stroke-linejoin="round" opacity="1.0"/>
<path d="M22.1,326.5L22.6,326.5L23.1,326.5L23.6,326.5L24.1,326.5L24.6,326.5L25.1,326.5L25.6,326.5L26.1,326.5L26.6,326.5L27.1,326.5L27.6,326.5L28.1,326.5L28.6,326.5L29.1,326.5L29.6,326.5L30.1,326.5L30.6,326.5L31.1,326.5L31.6,326.5L32.1,326.5L32.6,326.5L33.1,326.5L33.6,326.5L34.1,326.5L34.6,326.5L35.1,326.5L35.6,326.5L36.1,326.5L36.6,326.5L37.1,326.5L37.6,326.5L38.1,326.5L38.6,326.5L39.1,326.5L39.6,326.5L40.1,326.5L40.6,326.5L41.1,326.5L41.6,326.5L42.1,326.5L42.6,326.5L43.1,326.5L43.6,326.5L44.1,326.5L44.6,326.5L45.1,326.5L45.6,326.5L46.1,326.5L46.6,326.5L47.1,326.5L47.6,326.5L48.1,326.5L48.6,326.5L49.1,326.5L49.6,326.5L50.1,326.5L50.6,326.5L51.1,326.5L51.6,326.5L52.1,326.5L52.6,326.5L53.1,326.5L53.6,326.5L54.1,326.5L54.6,326.5L55.1,326.5L55.6,326.5L56.1,326.5L56.6,326.5L57.1,326.5L57.6,326.5L58.1,326.5L58.6,326.5L59.1,326.5L59.6,326.5L60.1,326.5L60.6,326.5L61.1,326.5L61.6,326.5L62.1,326.5L62.6,326.5L63.1,326.5L63.6,326.5L64.1,326.5L64.6,326.5L65.1,326.5L65.6,326.5L66.1,326.5L66.6,326.5L67.1,326.5L67.6,326.5L68.1,326.5L68.6,326.5L69.1,326.5L69.6,326.5L70.1,326.5L70.6,326.5L71.1,326.5L71.6,326.5L72.1,326.5L72.6,326.5L73.1,326.5L73.6,326.5L74.1,326.5L74.6,326.5L75.1,326.5L75.6,326.5L76.1,326.5L76.6,326.5L77.1,326.5L77.6,326.5L78.1,326.5L78.6,326.5L79.1,326.5L79.6,326.5L80.1,326.5L80.6,326.5L81.1,326.5L81.6,326.4L82.1,326.4L82.6,326.4L83.1,326.4L83.6,326.4L84.1,326.4L84.6,326.3L85.1,326.3L85.6,326.3L86.1,326.2L86.6,326.2L87.1,326.2L87.6,326.1L88.1,326.1L88.6,326.0L89.1,325.9L89.6,325.8L90.1,325.7L90.6,325.6L91.1,325.5L91.6,325.4L92.1,325.3L92.6,325.1L93.1,324.9L93.6,324.8L94.1,324.6L94.6,324.3L95.1,324.1L95.6,323.9L96.1,323.6L96.6,323.3L97.1,323.0L97.6,322.6L98.1,322.3L98.6,321.9L99.1,321.5L99.6,321.1L100.1,320.6L100.6,320.2L101.1,319.7L101.6,319.2L102.1,318.7L102.6,318.1L103.1,317.6L103.6,317.0L104.1,316.5L104.6,315.9L105.1,315.3L105.6,314.8L106.1,314.2L106.6,313.6L107.1,313.0L107.6,312.5L108.1,312.0L108.6,311.4L109.1,311.0L109.6,310.5L110.1,310.0L110.6,309.6L111.1,309.2L111.6,308.9L112.1,308.6L112.6,308.3L113.1,308.1L113.6,307.9L114.1,307.8L114.6,307.7L115.1,307.7L115.6,307.7L116.1,307.8L116.6,307.9L117.1,308.0L117.6,308.2L118.1,308.5L118.6,308.8L119.1,309.1L119.6,309.5L120.1,309.9L120.6,310.3L121.1,310.8L121.6,311.2L122.1,311.8L122.6,312.3L123.1,312.8L123.6,313.4L124.1,313.9L124.6,314.5L125.1,315.1L125.6,315.7L126.1,316.2L126.6,316.8L127.1,317.4L127.6,317.9L128.1,318.5L128.6,319.0L129.1,319.5L129.6,320.0L130.1,320.4L130.6,320.9L131.1,321.3L131.6,321.7L132.1,322.1L132.6,322.5L133.1,322.8L133.6,323.2L134.1,323.5L134.6,323.7L135.1,324.0L135.6,324.3L136.1,324.5L136.6,324.7L137.1,324.9L137.6,325.0L138.1,325.2L138.6,325.3L139.1,325.5L139.6,325.6L140.1,325.7L140.6,325.8L141.1,325.9L141.6,326.0L142.1,326.0L142.6,326.1L143.1,326.1L143.6,326.2L144.1,326.2L144.6,326.3L145.1,326.3L145.6,326.3L146.1,326.4L146.6,326.4L147.1,326.4L147.6,326.4L148.1,326.4L148.6,326.4L149.1,326.4L149.6,326.5L150.1,326.5L150.6,326.5L151.1,326.5L151.6,326.5L152.1,326.5L152.6,326.5L153.1,326.5L153.6,326.5L154.1,326.5L154.6,326.5L155.1,326.5L155.6,326.5L156.1,326.5L156.6,326.5L157.1,326.5L157.6,326.5L158.1,326.5L158.6,326.5L159.1,326.5L159.6,326.5L160.1,326.5L160.6,326.5L161.1,326.5L161.6,326.5L162.1,326.5L162.6,326.5L163.1,326.5L163.6,326.5L164.1,326.5L164.6,326.5L165.1,326.5L165.6,326.5L166.1,326.5L166.6,326.5L167.1,326.5L167.6,326.5L168.1,326.5L168.6,326.5L169.1,326.5L169.6,326.5L170.1,326.5L170.6,326.5L171.1,326.5L171.6,326.5L172.1,326.5L172.6,326.5L173.1,326.5L173.6,326.5L174.1,326.5L174.6,326.5L175.1,326.5L175.6,326.5L176.1,326.5L176.6,326.5L177.1,326.5L177.6,326.5L178.1,326.5L178.6,326.5L179.1,326.5L179.6,326.5L180.1,326.5L180.6,326.5L181.1,326.5L181.6,326.5L182.1,326.5L182.6,326.5L183.1,326.5L183.6,326.5L184.1,326.5L184.6,326.5L185.1,326.5L185.6,326.5L186.1,326.5L186.6,326.5L187.1,326.5L187.6,326.5L188.1,326.5L188.6,326.5L189.1,326.5L189.6,326.5L190.1,326.5L190.6,326.5L191.1,326.5L191.6,326.5L192.1,326.5L192.6,326.5L193.1,326.5L193.6,326.5L194.1,326.5L194.6,326.5L195.1,326.5L195.6,326.5L196.1,326.5L196.6,326.5L197.1,326.5L197.6,326.5L198.1,326.5L198.6,326.5L199.1,326.5L199.6,326.5L200.1,326.5L200.6,326.5L201.1,326.5L201.6,326.5L202.1,326.5L202.6,326.5L203.1,326.5L203.6,326.5" fill="none" stroke="#b77cf0" stroke-width="1.0" stroke-linejoin="round" opacity="1.0"/>
<path d="M22.1,326.5L22.6,326.5L23.1,326.5L23.6,326.5L24.1,326.5L24.6,326.5L25.1,326.5L25.6,326.5L26.1,326.5L26.6,326.5L27.1,326.5L27.6,326.5L28.1,326.5L28.6,326.5L29.1,326.5L29.6,326.5L30.1,326.5L30.6,326.5L31.1,326.5L31.6,326.5L32.1,326.5L32.6,326.5L33.1,326.5L33.6,326.5L34.1,326.5L34.6,326.5L35.1,326.5L35.6,326.5L36.1,326.5L36.6,326.5L37.1,326.5L37.6,326.5L38.1,326.5L38.6,326.5L39.1,326.5L39.6,326.5L40.1,326.5L40.6,326.5L41.1,326.5L41.6,326.5L42.1,326.5L42.6,326.5L43.1,326.4L43.6,326.4L44.1,326.4L44.6,326.4L45.1,326.4L45.6,326.4L46.1,326.3L46.6,326.3L47.1,326.3L47.6,326.3L48.1,326.2L48.6,326.2L49.1,326.1L49.6,326.0L50.1,326.0L50.6,325.9L51.1,325.8L51.6,325.7L52.1,325.6L52.6,325.5L53.1,325.3L53.6,325.2L54.1,325.0L54.6,324.8L55.1,324.6L55.6,324.3L56.1,324.1L56.6,323.8L57.1,323.5L57.6,323.2L58.1,322.8L58.6,322.5L59.1,322.0L59.6,321.6L60.1,321.2L60.6,320.7L61.1,320.1L61.6,319.6L62.1,319.0L62.6,318.4L63.1,317.8L63.6,317.2L64.1,316.5L64.6,315.8L65.1,315.1L65.6,314.4L66.1,313.7L66.6,313.0L67.1,312.3L67.6,311.5L68.1,310.8L68.6,310.1L69.1,309.4L69.6,308.7L70.1,308.1L70.6,307.5L71.1,306.9L71.6,306.3L72.1,305.8L72.6,305.3L73.1,304.9L73.6,304.5L74.1,304.2L74.6,303.9L75.1,303.7L75.6,303.6L76.1,303.5L76.6,303.5L77.1,303.5L77.6,303.7L78.1,303.8L78.6,304.0L79.1,304.3L79.6,304.7L80.1,305.1L80.6,305.5L81.1,306.0L81.6,306.5L82.1,307.1L82.6,307.7L83.1,308.3L83.6,309.0L84.1,309.7L84.6,310.4L85.1,311.1L85.6,311.8L86.1,312.5L86.6,313.3L87.1,314.0L87.6,314.7L88.1,315.4L88.6,316.1L89.1,316.8L89.6,317.4L90.1,318.1L90.6,318.7L91.1,319.3L91.6,319.8L92.1,320.4L92.6,320.9L93.1,321.3L93.6,321.8L94.1,322.2L94.6,322.6L95.1,323.0L95.6,323.3L96.1,323.6L96.6,323.9L97.1,324.2L97.6,324.4L98.1,324.7L98.6,324.9L99.1,325.1L99.6,325.2L100.1,325.4L100.6,325.5L101.1,325.6L101.6,325.7L102.1,325.8L102.6,325.9L103.1,326.0L103.6,326.1L104.1,326.1L104.6,326.2L105.1,326.2L105.6,326.3L106.1,326.3L106.6,326.3L107.1,326.4L107.6,326.4L108.1,326.4L108.6,326.4L109.1,326.4L109.6,326.4L110.1,326.4L110.6,326.5L111.1,326.5L111.6,326.5L112.1,326.5L112.6,326.5L113.1,326.5L113.6,326.5L114.1,326.5L114.6,326.5L115.1,326.5L115.6,326.5L116.1,326.5L116.6,326.5L117.1,326.5L117.6,326.5L118.1,326.5L118.6,326.5L119.1,326.5L119.6,326.5L120.1,326.5L120.6,326.5L121.1,326.5L121.6,326.5L122.1,326.5L122.6,326.5L123.1,326.5L123.6,326.5L124.1,326.5L124.6,326.5L125.1,326.5L125.6,326.5L126.1,326.5L126.6,326.5L127.1,326.5L127.6,326.5L128.1,326.5L128.6,326.5L129.1,326.5L129.6,326.5L130.1,326.5L130.6,326.5L131.1,326.5L131.6,326.5L132.1,326.5L132.6,326.5L133.1,326.5L133.6,326.5L134.1,326.5L134.6,326.5L135.1,326.5L135.6,326.5L136.1,326.5L136.6,326.5L137.1,326.5L137.6,326.5L138.1,326.5L138.6,326.5L139.1,326.5L139.6,326.5L140.1,326.5L140.6,326.5L141.1,326.5L141.6,326.5L142.1,326.5L142.6,326.5L143.1,326.5L143.6,326.5L144.1,326.5L144.6,326.5L145.1,326.5L145.6,326.5L146.1,326.5L146.6,326.5L147.1,326.5L147.6,326.5L148.1,326.5L148.6,326.5L149.1,326.5L149.6,326.5L150.1,326.5L150.6,326.5L151.1,326.5L151.6,326.5L152.1,326.5L152.6,326.5L153.1,326.5L153.6,326.5L154.1,326.5L154.6,326.5L155.1,326.5L155.6,326.5L156.1,326.5L156.6,326.5L157.1,326.5L157.6,326.5L158.1,326.5L158.6,326.5L159.1,326.5L159.6,326.5L160.1,326.5L160.6,326.5L161.1,326.5L161.6,326.5L162.1,326.5L162.6,326.5L163.1,326.5L163.6,326.5L164.1,326.5L164.6,326.5L165.1,326.5L165.6,326.5L166.1,326.5L166.6,326.5L167.1,326.5L167.6,326.5L168.1,326.5L168.6,326.5L169.1,326.5L169.6,326.5L170.1,326.5L170.6,326.5L171.1,326.5L171.6,326.5L172.1,326.5L172.6,326.5L173.1,326.5L173.6,326.5L174.1,326.5L174.6,326.5L175.1,326.5L175.6,326.5L176.1,326.5L176.6,326.5L177.1,326.5L177.6,326.5L178.1,326.5L178.6,326.5L179.1,326.5L179.6,326.5L180.1,326.5L180.6,326.5L181.1,326.5L181.6,326.5L182.1,326.5L182.6,326.5L183.1,326.5L183.6,326.5L184.1,326.5L184.6,326.5L185.1,326.5L185.6,326.5L186.1,326.5L186.6,326.5L187.1,326.5L187.6,326.5L188.1,326.5L188.6,326.5L189.1,326.5L189.6,326.5L190.1,326.5L190.6,326.5L191.1,326.5L191.6,326.5L192.1,326.5L192.6,326.5L193.1,326.5L193.6,326.5L194.1,326.5L194.6,326.5L195.1,326.5L195.6,326.5L196.1,326.5L196.6,326.5L197.1,326.5L197.6,326.5L198.1,326.5L198.6,326.5L199.1,326.5L199.6,326.5L200.1,326.5L200.6,326.5L201.1,326.5L201.6,326.5L202.1,326.5L202.6,326.5L203.1,326.5L203.6,326.5" fill="none" stroke="#3fbf80" stroke-width="1.0" stroke-linejoin="round" opacity="1.0"/>
<path d="M22.1,326.5L22.6,326.5L23.1,326.5L23.6,326.5L24.1,326.5L24.6,326.5L25.1,326.5L25.6,326.5L26.1,326.5L26.6,326.5L27.1,326.5L27.6,326.5L28.1,326.5L28.6,326.5L29.1,326.5L29.6,326.5L30.1,326.5L30.6,326.5L31.1,326.5L31.6,326.5L32.1,326.5L32.6,326.5L33.1,326.5L33.6,326.5L34.1,326.5L34.6,326.5L35.1,326.5L35.6,326.5L36.1,326.5L36.6,326.5L37.1,326.5L37.6,326.5L38.1,326.5L38.6,326.5L39.1,326.5L39.6,326.5L40.1,326.5L40.6,326.5L41.1,326.5L41.6,326.5L42.1,326.5L42.6,326.5L43.1,326.5L43.6,326.5L44.1,326.5L44.6,326.5L45.1,326.5L45.6,326.5L46.1,326.5L46.6,326.5L47.1,326.5L47.6,326.5L48.1,326.5L48.6,326.5L49.1,326.5L49.6,326.5L50.1,326.5L50.6,326.5L51.1,326.5L51.6,326.5L52.1,326.5L52.6,326.5L53.1,326.5L53.6,326.5L54.1,326.5L54.6,326.5L55.1,326.5L55.6,326.5L56.1,326.5L56.6,326.5L57.1,326.5L57.6,326.5L58.1,326.5L58.6,326.5L59.1,326.5L59.6,326.5L60.1,326.5L60.6,326.5L61.1,326.5L61.6,326.5L62.1,326.5L62.6,326.5L63.1,326.5L63.6,326.5L64.1,326.5L64.6,326.5L65.1,326.5L65.6,326.5L66.1,326.5L66.6,326.5L67.1,326.5L67.6,326.5L68.1,326.5L68.6,326.5L69.1,326.5L69.6,326.5L70.1,326.5L70.6,326.5L71.1,326.5L71.6,326.5L72.1,326.5L72.6,326.5L73.1,326.5L73.6,326.5L74.1,326.5L74.6,326.5L75.1,326.5L75.6,326.5L76.1,326.5L76.6,326.5L77.1,326.5L77.6,326.5L78.1,326.5L78.6,326.5L79.1,326.5L79.6,326.5L80.1,326.5L80.6,326.5L81.1,326.5L81.6,326.5L82.1,326.5L82.6,326.5L83.1,326.5L83.6,326.5L84.1,326.5L84.6,326.5L85.1,326.5L85.6,326.5L86.1,326.5L86.6,326.5L87.1,326.5L87.6,326.5L88.1,326.5L88.6,326.5L89.1,326.5L89.6,326.5L90.1,326.5L90.6,326.5L91.1,326.5L91.6,326.5L92.1,326.5L92.6,326.5L93.1,326.5L93.6,326.5L94.1,326.5L94.6,326.5L95.1,326.5L95.6,326.5L96.1,326.5L96.6,326.5L97.1,326.5L97.6,326.5L98.1,326.5L98.6,326.5L99.1,326.5L99.6,326.5L100.1,326.5L100.6,326.5L101.1,326.5L101.6,326.5L102.1,326.5L102.6,326.5L103.1,326.5L103.6,326.5L104.1,326.5L104.6,326.5L105.1,326.5L105.6,326.5L106.1,326.5L106.6,326.5L107.1,326.4L107.6,326.4L108.1,326.4L108.6,326.4L109.1,326.4L109.6,326.4L110.1,326.4L110.6,326.4L111.1,326.3L111.6,326.3L112.1,326.3L112.6,326.3L113.1,326.2L113.6,326.2L114.1,326.2L114.6,326.1L115.1,326.1L115.6,326.0L116.1,326.0L116.6,325.9L117.1,325.8L117.6,325.8L118.1,325.7L118.6,325.6L119.1,325.5L119.6,325.4L120.1,325.3L120.6,325.2L121.1,325.1L121.6,325.0L122.1,324.8L122.6,324.7L123.1,324.5L123.6,324.4L124.1,324.2L124.6,324.0L125.1,323.8L125.6,323.6L126.1,323.4L126.6,323.2L127.1,323.0L127.6,322.7L128.1,322.5L128.6,322.2L129.1,322.0L129.6,321.7L130.1,321.4L130.6,321.1L131.1,320.9L131.6,320.6L132.1,320.3L132.6,320.0L133.1,319.7L133.6,319.4L134.1,319.1L134.6,318.8L135.1,318.6L135.6,318.3L136.1,318.0L136.6,317.8L137.1,317.5L137.6,317.3L138.1,317.0L138.6,316.8L139.1,316.6L139.6,316.4L140.1,316.2L140.6,316.1L141.1,315.9L141.6,315.8L142.1,315.7L142.6,315.6L143.1,315.6L143.6,315.5L144.1,315.5L144.6,315.5L145.1,315.5L145.6,315.6L146.1,315.6L146.6,315.7L147.1,315.8L147.6,315.9L148.1,316.1L148.6,316.2L149.1,316.4L149.6,316.6L150.1,316.8L150.6,317.0L151.1,317.2L151.6,317.5L152.1,317.7L152.6,318.0L153.1,318.2L153.6,318.5L154.1,318.8L154.6,319.1L155.1,319.4L155.6,319.7L156.1,319.9L156.6,320.2L157.1,320.5L157.6,320.8L158.1,321.1L158.6,321.4L159.1,321.6L159.6,321.9L160.1,322.2L160.6,322.4L161.1,322.7L161.6,322.9L162.1,323.1L162.6,323.4L163.1,323.6L163.6,323.8L164.1,324.0L164.6,324.1L165.1,324.3L165.6,324.5L166.1,324.6L166.6,324.8L167.1,324.9L167.6,325.1L168.1,325.2L168.6,325.3L169.1,325.4L169.6,325.5L170.1,325.6L170.6,325.7L171.1,325.8L171.6,325.8L172.1,325.9L172.6,326.0L173.1,326.0L173.6,326.1L174.1,326.1L174.6,326.2L175.1,326.2L175.6,326.2L176.1,326.3L176.6,326.3L177.1,326.3L177.6,326.3L178.1,326.3L178.6,326.4L179.1,326.4L179.6,326.4L180.1,326.4L180.6,326.4L181.1,326.4L181.6,326.4L182.1,326.4L182.6,326.5L183.1,326.5L183.6,326.5L184.1,326.5L184.6,326.5L185.1,326.5L185.6,326.5L186.1,326.5L186.6,326.5L187.1,326.5L187.6,326.5L188.1,326.5L188.6,326.5L189.1,326.5L189.6,326.5L190.1,326.5L190.6,326.5L191.1,326.5L191.6,326.5L192.1,326.5L192.6,326.5L193.1,326.5L193.6,326.5L194.1,326.5L194.6,326.5L195.1,326.5L195.6,326.5L196.1,326.5L196.6,326.5L197.1,326.5L197.6,326.5L198.1,326.5L198.6,326.5L199.1,326.5L199.6,326.5L200.1,326.5L200.6,326.5L201.1,326.5L201.6,326.5L202.1,326.5L202.6,326.5L203.1,326.5L203.6,326.5" fill="none" stroke="#dba54a" stroke-width="1.0" stroke-linejoin="round" opacity="1.0"/>
<line x1="72.90" y1="208.30" x2="72.90" y2="221.30" stroke="#666" stroke-width="0.8"/>
<line x1="108.90" y1="234.90" x2="108.90" y2="245.10" stroke="#666" stroke-width="0.8"/>
<line x1="132.00" y1="239.60" x2="132.00" y2="249.00" stroke="#666" stroke-width="0.8"/>
<rect x="21.5" y="190.7" width="183.1" height="147.2" fill="none" stroke="#686868" stroke-width="1.5"/>
<line x1="41.70" y1="337.9" x2="41.70" y2="340.9" stroke="#686868" stroke-width="1"/>
<text x="41.70" y="348.28" font-size="6.6" text-anchor="middle" font-weight="bold" fill="#111" stroke="#111" stroke-width="0.28">528</text>
<line x1="82.42" y1="337.9" x2="82.42" y2="340.9" stroke="#686868" stroke-width="1"/>
<text x="82.42" y="348.28" font-size="6.6" text-anchor="middle" font-weight="bold" fill="#111" stroke="#111" stroke-width="0.28">530</text>
<line x1="123.14" y1="337.9" x2="123.14" y2="340.9" stroke="#686868" stroke-width="1"/>
<text x="123.14" y="348.28" font-size="6.6" text-anchor="middle" font-weight="bold" fill="#111" stroke="#111" stroke-width="0.28">532</text>
<line x1="163.86" y1="337.9" x2="163.86" y2="340.9" stroke="#686868" stroke-width="1"/>
<text x="163.86" y="348.28" font-size="6.6" text-anchor="middle" font-weight="bold" fill="#111" stroke="#111" stroke-width="0.28">534</text>
<line x1="204.58" y1="337.9" x2="204.58" y2="340.9" stroke="#686868" stroke-width="1"/>
<text x="204.58" y="348.28" font-size="6.6" text-anchor="middle" font-weight="bold" fill="#111" stroke="#111" stroke-width="0.28">536</text>
<line x1="62.06" y1="337.9" x2="62.06" y2="339.9" stroke="#686868" stroke-width="1"/>
<line x1="102.78" y1="337.9" x2="102.78" y2="339.9" stroke="#686868" stroke-width="1"/>
<line x1="143.50" y1="337.9" x2="143.50" y2="339.9" stroke="#686868" stroke-width="1"/>
<line x1="184.22" y1="337.9" x2="184.22" y2="339.9" stroke="#686868" stroke-width="1"/>
<text x="112.50" y="358.52" font-size="7.6" text-anchor="middle" font-weight="bold" fill="#111" stroke="#111" stroke-width="0.28">Binding Energy(eV)</text>
<text x="16.00" y="268.52" font-size="7.6" text-anchor="middle" font-weight="bold" fill="#111" stroke="#111" stroke-width="0.28" transform="rotate(-90 16.0 266)">Intensity(a.u.)</text>
<text x="26.70" y="202.52" font-size="7.6" text-anchor="start" font-weight="bold" fill="#111" stroke="#111" stroke-width="0.28">(c)</text>
<text x="196.50" y="202.51" font-size="7.9" text-anchor="end" font-weight="bold" fill="#111" stroke="#111" stroke-width="0.28">O 1s</text>
<text x="55.80" y="210.65" font-size="6.8" text-anchor="start" font-weight="bold" fill="#111" stroke="#111" stroke-width="0.28"><tspan font-size="6.8" dy="-0.00">O</tspan><tspan font-size="4.80" stroke-width="0.15" dy="1.90">L</tspan></text>
<line x1="72.40" y1="210.60" x2="67.47" y2="208.11" stroke="#111" stroke-width="1.0"/>
<polygon points="63.90,206.30 68.28,206.50 66.66,209.71" fill="#111"/>
<text x="92.40" y="230.05" font-size="6.8" text-anchor="start" font-weight="bold" fill="#111" stroke="#111" stroke-width="0.28"><tspan font-size="6.8" dy="-0.00">O</tspan><tspan font-size="4.80" stroke-width="0.15" dy="1.90">V</tspan></text>
<line x1="102.90" y1="230.70" x2="104.50" y2="232.45" stroke="#111" stroke-width="1.0"/>
<polygon points="107.20,235.40 103.17,233.66 105.83,231.23" fill="#111"/>
<text x="142.60" y="236.35" font-size="6.8" text-anchor="start" font-weight="bold" fill="#111" stroke="#111" stroke-width="0.28"><tspan font-size="6.8" dy="-0.00">O</tspan><tspan font-size="4.80" stroke-width="0.15" dy="1.90">C</tspan></text>
<line x1="133.50" y1="239.60" x2="136.43" y2="237.16" stroke="#111" stroke-width="1.0"/>
<polygon points="139.50,234.60 137.58,238.54 135.27,235.78" fill="#111"/>
<text x="165.90" y="246.19" font-size="6.3" text-anchor="start" font-weight="bold" fill="#111" stroke="#111" stroke-width="0.28"><tspan font-size="6.3" dy="-0.00">BiOBr</tspan><tspan font-size="4.28" stroke-width="0.15" dy="1.76">0.15</tspan><tspan font-size="6.3" dy="-1.76">I</tspan><tspan font-size="4.28" stroke-width="0.15" dy="1.76">0.75</tspan></text>
<text x="180.00" y="285.09" font-size="6.3" text-anchor="start" font-weight="bold" fill="#111" stroke="#111" stroke-width="0.28"><tspan font-size="6.3" dy="-0.00">BiOI</tspan></text>
<text x="180.00" y="322.09" font-size="6.3" text-anchor="start" font-weight="bold" fill="#111" stroke="#111" stroke-width="0.28"><tspan font-size="6.3" dy="-0.00">BiOBr</tspan></text>
<path d="M256.8,321.0L257.4,320.6L258.0,320.9L258.6,320.3L259.2,320.3L259.8,320.3L260.4,320.3L261.0,320.8L261.6,320.4L262.2,320.3L262.8,320.7L263.4,320.4L264.0,320.8L264.6,320.6L265.2,320.8L265.8,320.4L266.4,320.3L267.0,320.4L267.6,320.8L268.2,320.8L268.8,320.4L269.4,320.4L270.0,320.0L270.6,320.7L271.2,320.4L271.8,320.2L272.4,320.0L273.0,320.2L273.6,320.4L274.2,320.0L274.8,320.0L275.4,320.2L276.0,320.1L276.6,319.7L277.2,319.7L277.8,320.0L278.4,320.2L279.0,319.9L279.6,319.5L280.2,319.7L280.8,319.6L281.4,320.1L282.0,319.6L282.6,320.2L283.2,319.5L283.8,319.4L284.4,319.2L285.0,319.6L285.6,319.5L286.2,319.7L286.8,319.5L287.4,319.3L288.0,318.8L288.6,319.5L289.2,318.7L289.8,318.6L290.4,318.3L291.0,318.5L291.6,318.3L292.2,317.6L292.8,317.1L293.4,316.4L294.0,316.3L294.6,315.5L295.2,314.0L295.8,312.9L296.4,311.8L297.0,310.0L297.6,307.3L298.2,305.6L298.8,302.6L299.4,299.5L300.0,295.9L300.6,292.9L301.2,288.8L301.8,285.4L302.4,282.3L303.0,279.1L303.6,276.0L304.2,274.2L304.8,273.5L305.4,273.5L306.0,275.3L306.6,277.0L307.2,279.6L307.8,282.7L308.4,286.3L309.0,289.8L309.6,293.6L310.2,296.8L310.8,300.4L311.4,303.3L312.0,306.0L312.6,308.2L313.2,309.7L313.8,311.6L314.4,313.3L315.0,314.0L315.6,315.1L316.2,315.5L316.8,316.7L317.4,316.7L318.0,317.0L318.6,317.7L319.2,317.3L319.8,317.4L320.4,317.9L321.0,318.1L321.6,317.9L322.2,318.2L322.8,318.6L323.4,318.8L324.0,318.9L324.6,318.9L325.2,318.3L325.8,318.6L326.4,318.7L327.0,318.3L327.6,319.0L328.2,318.6L328.8,319.1L329.4,319.0L330.0,318.7L330.6,318.8L331.2,318.9L331.8,318.7L332.4,318.5L333.0,318.9L333.6,318.7L334.2,318.8L334.8,319.2L335.4,319.2L336.0,318.9L336.6,318.6L337.2,319.2L337.8,318.8L338.4,318.7L339.0,319.2L339.6,319.4L340.2,318.8L340.8,319.0L341.4,319.3L342.0,319.0L342.6,318.9L343.2,318.7L343.8,318.5L344.4,319.3L345.0,319.2L345.6,318.7L346.2,319.1L346.8,318.6L347.4,319.1L348.0,318.8L348.6,319.1L349.2,318.9L349.8,318.5L350.4,318.9L351.0,319.0L351.6,318.4L352.2,318.4L352.8,318.6L353.4,319.0L354.0,319.2L354.6,318.7L355.2,319.0L355.8,318.9L356.4,318.5L357.0,318.6L357.6,318.9L358.2,318.6L358.8,318.6L359.4,318.8L360.0,318.2L360.6,318.5L361.2,318.5L361.8,318.5L362.4,318.6L363.0,318.2L363.6,318.3L364.2,318.3L364.8,317.9L365.4,318.5L366.0,318.6L366.6,318.2L367.2,318.0L367.8,318.0L368.4,318.0L369.0,317.9L369.6,317.7L370.2,318.3L370.8,317.7L371.4,317.5L372.0,317.8L372.6,317.1L373.2,317.3L373.8,317.4L374.4,317.5L375.0,316.9L375.6,316.4L376.2,317.0L376.8,315.8L377.4,315.7L378.0,315.3L378.6,315.2L379.2,313.9L379.8,313.0L380.4,312.0L381.0,310.9L381.6,309.2L382.2,308.3L382.8,306.1L383.4,304.3L384.0,301.7L384.6,299.6L385.2,297.4L385.8,294.2L386.4,292.4L387.0,289.5L387.6,287.8L388.2,286.3L388.8,284.7L389.4,284.5L390.0,284.1L390.6,284.8L391.2,286.5L391.8,287.9L392.4,289.4L393.0,291.8L393.6,294.5L394.2,296.7L394.8,298.8L395.4,301.7L396.0,303.3L396.6,305.6L397.2,306.8L397.8,308.0L398.4,309.5L399.0,310.8L399.6,311.8L400.2,312.1L400.8,312.4L401.4,313.1L402.0,313.1L402.6,313.5L403.2,313.4L403.8,313.5L404.4,314.4L405.0,314.3L405.6,314.0L406.2,314.4L406.8,313.9L407.4,314.7L408.0,314.5L408.6,314.6L409.2,314.4L409.8,314.4L410.4,314.8L411.0,314.3L411.6,314.1L412.2,314.2L412.8,314.9L413.4,314.3L414.0,314.1L414.6,314.6L415.2,314.2L415.8,314.5L416.4,314.8L417.0,314.3L417.6,314.4L418.2,314.9L418.8,314.8L419.4,314.8L420.0,314.0L420.6,314.9L421.2,314.5L421.8,314.1L422.4,314.8L423.0,314.0L423.6,314.8L424.2,313.9L424.8,314.0L425.4,314.3L426.0,314.4L426.6,314.4L427.2,314.5L427.8,313.9L428.4,314.4L429.0,314.0L429.6,314.6L430.2,314.3L430.8,314.3L431.4,313.8L432.0,314.5L432.6,313.9L433.2,313.8L433.8,314.0L434.4,314.3L435.0,313.8L435.6,313.9L436.2,314.0L436.8,313.7L437.4,313.6L438.0,313.8L438.6,314.1" fill="none" stroke="#f26464" stroke-width="1.0" stroke-linejoin="round" opacity="1.0"/>
<path d="M256.8,263.5L257.4,263.1L258.0,263.5L258.6,263.6L259.2,263.5L259.8,263.0L260.4,262.9L261.0,263.7L261.6,263.5L262.2,263.1L262.8,263.5L263.4,263.3L264.0,263.4L264.6,263.1L265.2,263.4L265.8,263.1L266.4,263.1L267.0,263.0L267.6,263.4L268.2,263.5L268.8,263.0L269.4,262.8L270.0,262.9L270.6,263.3L271.2,263.0L271.8,262.6L272.4,263.4L273.0,263.0L273.6,262.6L274.2,263.2L274.8,263.0L275.4,263.3L276.0,263.3L276.6,263.2L277.2,263.3L277.8,262.8L278.4,263.2L279.0,262.8L279.6,263.0L280.2,262.5L280.8,262.9L281.4,262.3L282.0,263.0L282.6,262.4L283.2,262.7L283.8,262.9L284.4,262.8L285.0,262.8L285.6,262.4L286.2,262.0L286.8,262.7L287.4,262.0L288.0,262.5L288.6,262.0L289.2,261.9L289.8,261.9L290.4,261.7L291.0,261.8L291.6,261.4L292.2,260.7L292.8,260.8L293.4,260.0L294.0,260.1L294.6,258.9L295.2,258.2L295.8,257.3L296.4,255.7L297.0,254.5L297.6,252.3L298.2,249.3L298.8,246.4L299.4,243.2L300.0,239.2L300.6,235.1L301.2,230.6L301.8,226.5L302.4,222.6L303.0,219.4L303.6,216.4L304.2,215.4L304.8,214.9L305.4,216.3L306.0,218.7L306.6,222.6L307.2,225.8L307.8,230.2L308.4,234.6L309.0,238.9L309.6,242.6L310.2,245.5L310.8,248.7L311.4,251.5L312.0,253.0L312.6,254.6L313.2,256.6L313.8,256.9L314.4,257.7L315.0,258.4L315.6,259.4L316.2,259.3L316.8,259.7L317.4,259.9L318.0,260.4L318.6,259.8L319.2,260.0L319.8,260.2L320.4,260.5L321.0,260.2L321.6,260.5L322.2,260.7L322.8,260.3L323.4,260.6L324.0,260.4L324.6,261.2L325.2,260.4L325.8,260.5L326.4,261.0L327.0,260.7L327.6,261.0L328.2,260.8L328.8,261.4L329.4,261.0L330.0,260.8L330.6,260.7L331.2,261.0L331.8,261.3L332.4,261.2L333.0,261.2L333.6,261.0L334.2,261.4L334.8,260.9L335.4,261.1L336.0,261.4L336.6,261.3L337.2,261.0L337.8,261.3L338.4,261.3L339.0,260.9L339.6,260.9L340.2,261.3L340.8,260.9L341.4,260.9L342.0,261.0L342.6,260.6L343.2,260.8L343.8,261.4L344.4,260.7L345.0,261.2L345.6,260.5L346.2,260.8L346.8,260.9L347.4,260.7L348.0,261.3L348.6,261.3L349.2,260.7L349.8,260.5L350.4,261.2L351.0,261.1L351.6,260.8L352.2,260.4L352.8,260.3L353.4,260.9L354.0,260.9L354.6,260.7L355.2,260.6L355.8,260.5L356.4,260.5L357.0,260.6L357.6,260.7L358.2,260.5L358.8,260.4L359.4,260.3L360.0,260.7L360.6,260.9L361.2,260.2L361.8,260.7L362.4,260.6L363.0,260.2L363.6,260.1L364.2,260.7L364.8,260.0L365.4,259.9L366.0,259.9L366.6,260.5L367.2,260.1L367.8,259.7L368.4,259.9L369.0,260.1L369.6,260.0L370.2,259.6L370.8,260.2L371.4,260.0L372.0,259.6L372.6,259.6L373.2,259.4L373.8,259.1L374.4,259.6L375.0,259.2L375.6,259.4L376.2,259.3L376.8,258.7L377.4,258.4L378.0,258.1L378.6,257.9L379.2,257.0L379.8,256.7L380.4,255.9L381.0,254.7L381.6,254.2L382.2,252.6L382.8,250.7L383.4,248.4L384.0,246.6L384.6,243.8L385.2,241.4L385.8,238.3L386.4,234.9L387.0,232.4L387.6,229.6L388.2,227.2L388.8,226.0L389.4,224.8L390.0,224.8L390.6,225.7L391.2,227.9L391.8,229.9L392.4,232.4L393.0,235.2L393.6,238.8L394.2,241.1L394.8,244.3L395.4,246.7L396.0,248.8L396.6,250.0L397.2,252.2L397.8,253.2L398.4,254.4L399.0,255.2L399.6,255.3L400.2,255.9L400.8,256.7L401.4,256.4L402.0,256.4L402.6,256.5L403.2,257.1L403.8,256.9L404.4,257.6L405.0,256.8L405.6,257.2L406.2,257.5L406.8,257.4L407.4,257.7L408.0,257.5L408.6,257.7L409.2,257.8L409.8,257.8L410.4,257.5L411.0,257.4L411.6,257.5L412.2,257.2L412.8,257.2L413.4,257.5L414.0,257.4L414.6,257.3L415.2,257.1L415.8,257.9L416.4,257.3L417.0,257.4L417.6,257.3L418.2,257.4L418.8,257.6L419.4,257.7L420.0,257.4L420.6,257.7L421.2,257.2L421.8,257.3L422.4,257.1L423.0,257.7L423.6,256.9L424.2,257.0L424.8,257.4L425.4,256.9L426.0,256.8L426.6,257.0L427.2,257.1L427.8,257.1L428.4,256.8L429.0,256.9L429.6,256.8L430.2,256.7L430.8,257.0L431.4,256.7L432.0,256.7L432.6,257.3L433.2,257.3L433.8,256.8L434.4,256.9L435.0,256.5L435.6,256.4L436.2,256.8L436.8,257.2L437.4,256.4L438.0,256.7L438.6,257.0" fill="none" stroke="#4a4a4a" stroke-width="1.0" stroke-linejoin="round" opacity="1.0"/>
<rect x="256.2" y="190.7" width="183.0" height="147.3" fill="none" stroke="#686868" stroke-width="1.5"/>
<line x1="256.20" y1="338" x2="256.20" y2="341" stroke="#686868" stroke-width="1"/>
<text x="256.20" y="348.28" font-size="6.6" text-anchor="middle" font-weight="bold" fill="#111" stroke="#111" stroke-width="0.28">612</text>
<line x1="285.88" y1="338" x2="285.88" y2="341" stroke="#686868" stroke-width="1"/>
<text x="285.88" y="348.28" font-size="6.6" text-anchor="middle" font-weight="bold" fill="#111" stroke="#111" stroke-width="0.28">616</text>
<line x1="315.56" y1="338" x2="315.56" y2="341" stroke="#686868" stroke-width="1"/>
<text x="315.56" y="348.28" font-size="6.6" text-anchor="middle" font-weight="bold" fill="#111" stroke="#111" stroke-width="0.28">620</text>
<line x1="345.24" y1="338" x2="345.24" y2="341" stroke="#686868" stroke-width="1"/>
<text x="345.24" y="348.28" font-size="6.6" text-anchor="middle" font-weight="bold" fill="#111" stroke="#111" stroke-width="0.28">624</text>
<line x1="374.92" y1="338" x2="374.92" y2="341" stroke="#686868" stroke-width="1"/>
<text x="374.92" y="348.28" font-size="6.6" text-anchor="middle" font-weight="bold" fill="#111" stroke="#111" stroke-width="0.28">628</text>
<line x1="404.60" y1="338" x2="404.60" y2="341" stroke="#686868" stroke-width="1"/>
<text x="404.60" y="348.28" font-size="6.6" text-anchor="middle" font-weight="bold" fill="#111" stroke="#111" stroke-width="0.28">632</text>
<line x1="434.28" y1="338" x2="434.28" y2="341" stroke="#686868" stroke-width="1"/>
<text x="434.28" y="348.28" font-size="6.6" text-anchor="middle" font-weight="bold" fill="#111" stroke="#111" stroke-width="0.28">636</text>
<line x1="271.04" y1="338" x2="271.04" y2="340" stroke="#686868" stroke-width="1"/>
<line x1="300.72" y1="338" x2="300.72" y2="340" stroke="#686868" stroke-width="1"/>
<line x1="330.40" y1="338" x2="330.40" y2="340" stroke="#686868" stroke-width="1"/>
<line x1="360.08" y1="338" x2="360.08" y2="340" stroke="#686868" stroke-width="1"/>
<line x1="389.76" y1="338" x2="389.76" y2="340" stroke="#686868" stroke-width="1"/>
<line x1="419.44" y1="338" x2="419.44" y2="340" stroke="#686868" stroke-width="1"/>
<text x="344.95" y="359.72" font-size="7.6" text-anchor="middle" font-weight="bold" fill="#111" stroke="#111" stroke-width="0.28">Binding Energy(eV)</text>
<text x="248.20" y="267.52" font-size="7.6" text-anchor="middle" font-weight="bold" fill="#111" stroke="#111" stroke-width="0.28" transform="rotate(-90 248.2 265)">Intensity(a.u.)</text>
<text x="259.30" y="200.72" font-size="7.6" text-anchor="start" font-weight="bold" fill="#111" stroke="#111" stroke-width="0.28">(d)</text>
<text x="432.60" y="200.81" font-size="7.9" text-anchor="end" font-weight="bold" fill="#111" stroke="#111" stroke-width="0.28">I 3d</text>
<text x="313.40" y="213.28" font-size="7.2" text-anchor="start" font-weight="bold" fill="#111" stroke="#111" stroke-width="0.28"><tspan font-size="7.2" dy="-0.00">3d</tspan><tspan font-size="5.60" stroke-width="0.15" dy="2.02">5/2</tspan></text>
<line x1="311.60" y1="210.80" x2="308.45" y2="212.45" stroke="#111" stroke-width="1.0"/>
<polygon points="304.90,214.30 307.61,210.85 309.28,214.04" fill="#111"/>
<text x="400.60" y="222.28" font-size="7.2" text-anchor="start" font-weight="bold" fill="#111" stroke="#111" stroke-width="0.28"><tspan font-size="7.2" dy="-0.00">3d</tspan><tspan font-size="5.60" stroke-width="0.15" dy="2.02">3/2</tspan></text>
<line x1="398.00" y1="219.90" x2="393.85" y2="222.06" stroke="#111" stroke-width="1.0"/>
<polygon points="390.30,223.90 393.02,220.46 394.68,223.65" fill="#111"/>
<text x="333.50" y="270.39" font-size="6.3" text-anchor="start" font-weight="bold" fill="#111" stroke="#111" stroke-width="0.28"><tspan font-size="6.3" dy="-0.00">BiOBr</tspan><tspan font-size="4.28" stroke-width="0.15" dy="1.76">0.15</tspan><tspan font-size="6.3" dy="-1.76">I</tspan><tspan font-size="4.28" stroke-width="0.15" dy="1.76">0.75</tspan></text>
<text x="339.00" y="327.39" font-size="6.3" text-anchor="start" font-weight="bold" fill="#111" stroke="#111" stroke-width="0.28"><tspan font-size="6.3" dy="-0.00">BiOI</tspan></text>
<path d="M20.8,447.8L21.3,447.8L21.8,447.8L22.3,447.8L22.8,447.8L23.3,447.8L23.8,447.8L24.3,447.8L24.8,447.8L25.3,447.8L25.8,447.8L26.3,447.8L26.8,447.8L27.3,447.8L27.8,447.8L28.3,447.8L28.8,447.8L29.3,447.8L29.8,447.8L30.3,447.8L30.8,447.8L31.3,447.8L31.8,447.8L32.3,447.8L32.8,447.8L33.3,447.8L33.8,447.8L34.3,447.8L34.8,447.8L35.3,447.8L35.8,447.8L36.3,447.8L36.8,447.8L37.3,447.8L37.8,447.8L38.3,447.8L38.8,447.8L39.3,447.8L39.8,447.8L40.3,447.8L40.8,447.8L41.3,447.8L41.8,447.8L42.3,447.8L42.8,447.8L43.3,447.8L43.8,447.8L44.3,447.8L44.8,447.8L45.3,447.8L45.8,447.8L46.3,447.8L46.8,447.8L47.3,447.8L47.8,447.8L48.3,447.8L48.8,447.8L49.3,447.8L49.8,447.8L50.3,447.8L50.8,447.8L51.3,447.8L51.8,447.8L52.3,447.8L52.8,447.8L53.3,447.8L53.8,447.8L54.3,447.8L54.8,447.8L55.3,447.8L55.8,447.8L56.3,447.8L56.8,447.8L57.3,447.8L57.8,447.8L58.3,447.8L58.8,447.8L59.3,447.8L59.8,447.8L60.3,447.8L60.8,447.8L61.3,447.8L61.8,447.8L62.3,447.8L62.8,447.8L63.3,447.8L63.8,447.8L64.3,447.8L64.8,447.8L65.3,447.8L65.8,447.8L66.3,447.8L66.8,447.8L67.3,447.8L67.8,447.8L68.3,447.8L68.8,447.8L69.3,447.8L69.8,447.8L70.3,447.8L70.8,447.8L71.3,447.8L71.8,447.8L72.3,447.8L72.8,447.8L73.3,447.8L73.8,447.8L74.3,447.8L74.8,447.8L75.3,447.8L75.8,447.8L76.3,447.8L76.8,447.8L77.3,447.8L77.8,447.7L78.3,447.7L78.8,447.7L79.3,447.7L79.8,447.7L80.3,447.7L80.8,447.7L81.3,447.7L81.8,447.7L82.3,447.7L82.8,447.7L83.3,447.7L83.8,447.7L84.3,447.7L84.8,447.7L85.3,447.7L85.8,447.7L86.3,447.7L86.8,447.7L87.3,447.7L87.8,447.6L88.3,447.6L88.8,447.6L89.3,447.6L89.8,447.6L90.3,447.6L90.8,447.6L91.3,447.6L91.8,447.6L92.3,447.6L92.8,447.5L93.3,447.5L93.8,447.5L94.3,447.5L94.8,447.5L95.3,447.5L95.8,447.4L96.3,447.4L96.8,447.4L97.3,447.4L97.8,447.4L98.3,447.3L98.8,447.3L99.3,447.3L99.8,447.3L100.3,447.2L100.8,447.2L101.3,447.2L101.8,447.2L102.3,447.1L102.8,447.1L103.3,447.1L103.8,447.0L104.3,447.0L104.8,447.0L105.3,446.9L105.8,446.9L106.3,446.8L106.8,446.8L107.3,446.7L107.8,446.7L108.3,446.7L108.8,446.6L109.3,446.6L109.8,446.5L110.3,446.5L110.8,446.4L111.3,446.4L111.8,446.3L112.3,446.2L112.8,446.2L113.3,446.1L113.8,446.1L114.3,446.0L114.8,445.9L115.3,445.9L115.8,445.8L116.3,445.8L116.8,445.7L117.3,445.6L117.8,445.6L118.3,445.5L118.8,445.5L119.3,445.4L119.8,445.3L120.3,445.3L120.8,445.2L121.3,445.1L121.8,445.1L122.3,445.0L122.8,445.0L123.3,444.9L123.8,444.8L124.3,444.8L124.8,444.7L125.3,444.7L125.8,444.6L126.3,444.6L126.8,444.5L127.3,444.5L127.8,444.4L128.3,444.4L128.8,444.3L129.3,444.3L129.8,444.3L130.3,444.2L130.8,444.2L131.3,444.1L131.8,444.1L132.3,444.1L132.8,444.0L133.3,444.0L133.8,444.0L134.3,443.9L134.8,443.9L135.3,443.9L135.8,443.8L136.3,443.8L136.8,443.8L137.3,443.8L137.8,443.7L138.3,443.7L138.8,443.7L139.3,443.7L139.8,443.7L140.3,443.6L140.8,443.6L141.3,443.6L141.8,443.6L142.3,443.6L142.8,443.6L143.3,443.6L143.8,443.5L144.3,443.5L144.8,443.5L145.3,443.5L145.8,443.5L146.3,443.5L146.8,443.5L147.3,443.5L147.8,443.5L148.3,443.5L148.8,443.4L149.3,443.4L149.8,443.4L150.3,443.4L150.8,443.4L151.3,443.4L151.8,443.4L152.3,443.4L152.8,443.4L153.3,443.4L153.8,443.4L154.3,443.4L154.8,443.4L155.3,443.4L155.8,443.4L156.3,443.4L156.8,443.4L157.3,443.4L157.8,443.4L158.3,443.4L158.8,443.3L159.3,443.3L159.8,443.3L160.3,443.3L160.8,443.3L161.3,443.3L161.8,443.3L162.3,443.3L162.8,443.3L163.3,443.3L163.8,443.3L164.3,443.3L164.8,443.3L165.3,443.3L165.8,443.3L166.3,443.3L166.8,443.3L167.3,443.3L167.8,443.3L168.3,443.3L168.8,443.3L169.3,443.3L169.8,443.3L170.3,443.3L170.8,443.3L171.3,443.3L171.8,443.3L172.3,443.3L172.8,443.3L173.3,443.3L173.8,443.3L174.3,443.3L174.8,443.3L175.3,443.3L175.8,443.3L176.3,443.3L176.8,443.3L177.3,443.3L177.8,443.3L178.3,443.3L178.8,443.3L179.3,443.3L179.8,443.3L180.3,443.3L180.8,443.3L181.3,443.3L181.8,443.3L182.3,443.3L182.8,443.3L183.3,443.3L183.8,443.3L184.3,443.3L184.8,443.3L185.3,443.3L185.8,443.3L186.3,443.3L186.8,443.3L187.3,443.3L187.8,443.3L188.3,443.3L188.8,443.3L189.3,443.3L189.8,443.3L190.3,443.3L190.8,443.3L191.3,443.3L191.8,443.3L192.3,443.3L192.8,443.3L193.3,443.3L193.8,443.3L194.3,443.3L194.8,443.3L195.3,443.3L195.8,443.3L196.3,443.3L196.8,443.3L197.3,443.3L197.8,443.3L198.3,443.3L198.8,443.3L199.3,443.3L199.8,443.3L200.3,443.3L200.8,443.3L201.3,443.3L201.8,443.3L202.3,443.3L202.8,443.3L203.3,443.3L203.8,443.3" fill="none" stroke="#3fbf80" stroke-width="1.0" stroke-linejoin="round" opacity="1.0"/>
<path d="M20.8,447.8L21.3,447.8L21.8,447.8L22.3,447.8L22.8,447.8L23.3,447.8L23.8,447.8L24.3,447.8L24.8,447.8L25.3,447.8L25.8,447.8L26.3,447.8L26.8,447.8L27.3,447.8L27.8,447.8L28.3,447.8L28.8,447.8L29.3,447.8L29.8,447.8L30.3,447.8L30.8,447.8L31.3,447.8L31.8,447.8L32.3,447.8L32.8,447.8L33.3,447.8L33.8,447.8L34.3,447.8L34.8,447.8L35.3,447.8L35.8,447.8L36.3,447.8L36.8,447.8L37.3,447.8L37.8,447.8L38.3,447.8L38.8,447.8L39.3,447.8L39.8,447.8L40.3,447.8L40.8,447.8L41.3,447.8L41.8,447.8L42.3,447.8L42.8,447.8L43.3,447.8L43.8,447.8L44.3,447.8L44.8,447.8L45.3,447.8L45.8,447.8L46.3,447.8L46.8,447.8L47.3,447.8L47.8,447.8L48.3,447.8L48.8,447.8L49.3,447.8L49.8,447.8L50.3,447.8L50.8,447.8L51.3,447.8L51.8,447.8L52.3,447.8L52.8,447.8L53.3,447.8L53.8,447.8L54.3,447.8L54.8,447.8L55.3,447.8L55.8,447.8L56.3,447.8L56.8,447.8L57.3,447.8L57.8,447.8L58.3,447.8L58.8,447.8L59.3,447.8L59.8,447.8L60.3,447.8L60.8,447.8L61.3,447.8L61.8,447.8L62.3,447.8L62.8,447.8L63.3,447.8L63.8,447.8L64.3,447.8L64.8,447.8L65.3,447.8L65.8,447.8L66.3,447.8L66.8,447.8L67.3,447.8L67.8,447.8L68.3,447.8L68.8,447.8L69.3,447.8L69.8,447.8L70.3,447.8L70.8,447.8L71.3,447.8L71.8,447.8L72.3,447.8L72.8,447.8L73.3,447.8L73.8,447.8L74.3,447.8L74.8,447.8L75.3,447.8L75.8,447.8L76.3,447.8L76.8,447.7L77.3,447.7L77.8,447.7L78.3,447.7L78.8,447.7L79.3,447.7L79.8,447.7L80.3,447.7L80.8,447.7L81.3,447.7L81.8,447.7L82.3,447.7L82.8,447.7L83.3,447.7L83.8,447.6L84.3,447.6L84.8,447.6L85.3,447.6L85.8,447.6L86.3,447.6L86.8,447.5L87.3,447.5L87.8,447.5L88.3,447.4L88.8,447.4L89.3,447.4L89.8,447.3L90.3,447.3L90.8,447.2L91.3,447.1L91.8,447.1L92.3,447.0L92.8,446.9L93.3,446.8L93.8,446.7L94.3,446.6L94.8,446.5L95.3,446.4L95.8,446.2L96.3,446.1L96.8,445.9L97.3,445.8L97.8,445.6L98.3,445.4L98.8,445.1L99.3,444.9L99.8,444.6L100.3,444.4L100.8,444.1L101.3,443.8L101.8,443.4L102.3,443.1L102.8,442.7L103.3,442.3L103.8,441.9L104.3,441.5L104.8,441.0L105.3,440.5L105.8,440.0L106.3,439.5L106.8,438.9L107.3,438.3L107.8,437.7L108.3,437.1L108.8,436.5L109.3,435.8L109.8,435.1L110.3,434.4L110.8,433.7L111.3,433.0L111.8,432.3L112.3,431.5L112.8,430.8L113.3,430.0L113.8,429.2L114.3,428.5L114.8,427.7L115.3,426.9L115.8,426.2L116.3,425.4L116.8,424.7L117.3,424.0L117.8,423.3L118.3,422.6L118.8,421.9L119.3,421.3L119.8,420.7L120.3,420.2L120.8,419.6L121.3,419.1L121.8,418.7L122.3,418.3L122.8,417.9L123.3,417.6L123.8,417.3L124.3,417.0L124.8,416.9L125.3,416.7L125.8,416.6L126.3,416.6L126.8,416.6L127.3,416.7L127.8,416.8L128.3,416.9L128.8,417.1L129.3,417.4L129.8,417.7L130.3,418.0L130.8,418.4L131.3,418.8L131.8,419.3L132.3,419.8L132.8,420.3L133.3,420.8L133.8,421.4L134.3,422.0L134.8,422.6L135.3,423.3L135.8,423.9L136.3,424.6L136.8,425.3L137.3,425.9L137.8,426.6L138.3,427.3L138.8,428.0L139.3,428.7L139.8,429.4L140.3,430.0L140.8,430.7L141.3,431.3L141.8,432.0L142.3,432.6L142.8,433.2L143.3,433.8L143.8,434.3L144.3,434.9L144.8,435.4L145.3,435.9L145.8,436.4L146.3,436.9L146.8,437.3L147.3,437.8L147.8,438.2L148.3,438.5L148.8,438.9L149.3,439.3L149.8,439.6L150.3,439.9L150.8,440.2L151.3,440.4L151.8,440.7L152.3,440.9L152.8,441.1L153.3,441.3L153.8,441.5L154.3,441.7L154.8,441.8L155.3,442.0L155.8,442.1L156.3,442.2L156.8,442.3L157.3,442.4L157.8,442.5L158.3,442.6L158.8,442.7L159.3,442.8L159.8,442.8L160.3,442.9L160.8,442.9L161.3,443.0L161.8,443.0L162.3,443.1L162.8,443.1L163.3,443.1L163.8,443.1L164.3,443.2L164.8,443.2L165.3,443.2L165.8,443.2L166.3,443.2L166.8,443.2L167.3,443.2L167.8,443.3L168.3,443.3L168.8,443.3L169.3,443.3L169.8,443.3L170.3,443.3L170.8,443.3L171.3,443.3L171.8,443.3L172.3,443.3L172.8,443.3L173.3,443.3L173.8,443.3L174.3,443.3L174.8,443.3L175.3,443.3L175.8,443.3L176.3,443.3L176.8,443.3L177.3,443.3L177.8,443.3L178.3,443.3L178.8,443.3L179.3,443.3L179.8,443.3L180.3,443.3L180.8,443.3L181.3,443.3L181.8,443.3L182.3,443.3L182.8,443.3L183.3,443.3L183.8,443.3L184.3,443.3L184.8,443.3L185.3,443.3L185.8,443.3L186.3,443.3L186.8,443.3L187.3,443.3L187.8,443.3L188.3,443.3L188.8,443.3L189.3,443.3L189.8,443.3L190.3,443.3L190.8,443.3L191.3,443.3L191.8,443.3L192.3,443.3L192.8,443.3L193.3,443.3L193.8,443.3L194.3,443.3L194.8,443.3L195.3,443.3L195.8,443.3L196.3,443.3L196.8,443.3L197.3,443.3L197.8,443.3L198.3,443.3L198.8,443.3L199.3,443.3L199.8,443.3L200.3,443.3L200.8,443.3L201.3,443.3L201.8,443.3L202.3,443.3L202.8,443.3L203.3,443.3L203.8,443.3" fill="none" stroke="#5b8fe6" stroke-width="1.0" stroke-linejoin="round" opacity="1.0"/>
<path d="M20.8,447.8L21.3,447.8L21.8,447.8L22.3,447.8L22.8,447.8L23.3,447.8L23.8,447.8L24.3,447.8L24.8,447.8L25.3,447.8L25.8,447.8L26.3,447.8L26.8,447.8L27.3,447.8L27.8,447.8L28.3,447.8L28.8,447.8L29.3,447.8L29.8,447.8L30.3,447.8L30.8,447.8L31.3,447.8L31.8,447.8L32.3,447.8L32.8,447.8L33.3,447.8L33.8,447.8L34.3,447.8L34.8,447.8L35.3,447.8L35.8,447.8L36.3,447.8L36.8,447.8L37.3,447.8L37.8,447.8L38.3,447.8L38.8,447.8L39.3,447.8L39.8,447.8L40.3,447.8L40.8,447.8L41.3,447.8L41.8,447.8L42.3,447.8L42.8,447.8L43.3,447.8L43.8,447.8L44.3,447.8L44.8,447.8L45.3,447.8L45.8,447.8L46.3,447.8L46.8,447.8L47.3,447.8L47.8,447.8L48.3,447.8L48.8,447.8L49.3,447.8L49.8,447.8L50.3,447.8L50.8,447.8L51.3,447.8L51.8,447.8L52.3,447.8L52.8,447.8L53.3,447.8L53.8,447.8L54.3,447.8L54.8,447.8L55.3,447.8L55.8,447.8L56.3,447.8L56.8,447.7L57.3,447.7L57.8,447.7L58.3,447.7L58.8,447.7L59.3,447.7L59.8,447.7L60.3,447.6L60.8,447.6L61.3,447.6L61.8,447.5L62.3,447.5L62.8,447.5L63.3,447.4L63.8,447.4L64.3,447.3L64.8,447.2L65.3,447.1L65.8,447.1L66.3,447.0L66.8,446.8L67.3,446.7L67.8,446.6L68.3,446.4L68.8,446.2L69.3,446.1L69.8,445.8L70.3,445.6L70.8,445.4L71.3,445.1L71.8,444.8L72.3,444.5L72.8,444.1L73.3,443.7L73.8,443.3L74.3,442.9L74.8,442.4L75.3,441.9L75.8,441.3L76.3,440.7L76.8,440.1L77.3,439.4L77.8,438.7L78.3,438.0L78.8,437.2L79.3,436.4L79.8,435.5L80.3,434.6L80.8,433.7L81.3,432.8L81.8,431.8L82.3,430.7L82.8,429.7L83.3,428.6L83.8,427.5L84.3,426.4L84.8,425.2L85.3,424.1L85.8,422.9L86.3,421.7L86.8,420.6L87.3,419.4L87.8,418.3L88.3,417.1L88.8,416.0L89.3,415.0L89.8,413.9L90.3,412.9L90.8,411.9L91.3,411.0L91.8,410.2L92.3,409.4L92.8,408.6L93.3,408.0L93.8,407.4L94.3,406.8L94.8,406.4L95.3,406.0L95.8,405.7L96.3,405.5L96.8,405.4L97.3,405.4L97.8,405.5L98.3,405.6L98.8,405.8L99.3,406.1L99.8,406.5L100.3,407.0L100.8,407.5L101.3,408.1L101.8,408.8L102.3,409.6L102.8,410.4L103.3,411.2L103.8,412.1L104.3,413.1L104.8,414.1L105.3,415.1L105.8,416.2L106.3,417.2L106.8,418.3L107.3,419.4L107.8,420.5L108.3,421.6L108.8,422.8L109.3,423.9L109.8,424.9L110.3,426.0L110.8,427.1L111.3,428.1L111.8,429.1L112.3,430.1L112.8,431.0L113.3,431.9L113.8,432.8L114.3,433.6L114.8,434.4L115.3,435.2L115.8,435.9L116.3,436.6L116.8,437.3L117.3,437.9L117.8,438.4L118.3,439.0L118.8,439.4L119.3,439.9L119.8,440.3L120.3,440.7L120.8,441.1L121.3,441.4L121.8,441.7L122.3,442.0L122.8,442.2L123.3,442.4L123.8,442.6L124.3,442.8L124.8,443.0L125.3,443.1L125.8,443.2L126.3,443.3L126.8,443.4L127.3,443.5L127.8,443.6L128.3,443.6L128.8,443.7L129.3,443.7L129.8,443.7L130.3,443.8L130.8,443.8L131.3,443.8L131.8,443.8L132.3,443.8L132.8,443.8L133.3,443.8L133.8,443.8L134.3,443.8L134.8,443.8L135.3,443.8L135.8,443.8L136.3,443.7L136.8,443.7L137.3,443.7L137.8,443.7L138.3,443.7L138.8,443.7L139.3,443.7L139.8,443.6L140.3,443.6L140.8,443.6L141.3,443.6L141.8,443.6L142.3,443.6L142.8,443.6L143.3,443.5L143.8,443.5L144.3,443.5L144.8,443.5L145.3,443.5L145.8,443.5L146.3,443.5L146.8,443.5L147.3,443.5L147.8,443.5L148.3,443.4L148.8,443.4L149.3,443.4L149.8,443.4L150.3,443.4L150.8,443.4L151.3,443.4L151.8,443.4L152.3,443.4L152.8,443.4L153.3,443.4L153.8,443.4L154.3,443.4L154.8,443.4L155.3,443.4L155.8,443.4L156.3,443.4L156.8,443.4L157.3,443.4L157.8,443.4L158.3,443.4L158.8,443.3L159.3,443.3L159.8,443.3L160.3,443.3L160.8,443.3L161.3,443.3L161.8,443.3L162.3,443.3L162.8,443.3L163.3,443.3L163.8,443.3L164.3,443.3L164.8,443.3L165.3,443.3L165.8,443.3L166.3,443.3L166.8,443.3L167.3,443.3L167.8,443.3L168.3,443.3L168.8,443.3L169.3,443.3L169.8,443.3L170.3,443.3L170.8,443.3L171.3,443.3L171.8,443.3L172.3,443.3L172.8,443.3L173.3,443.3L173.8,443.3L174.3,443.3L174.8,443.3L175.3,443.3L175.8,443.3L176.3,443.3L176.8,443.3L177.3,443.3L177.8,443.3L178.3,443.3L178.8,443.3L179.3,443.3L179.8,443.3L180.3,443.3L180.8,443.3L181.3,443.3L181.8,443.3L182.3,443.3L182.8,443.3L183.3,443.3L183.8,443.3L184.3,443.3L184.8,443.3L185.3,443.3L185.8,443.3L186.3,443.3L186.8,443.3L187.3,443.3L187.8,443.3L188.3,443.3L188.8,443.3L189.3,443.3L189.8,443.3L190.3,443.3L190.8,443.3L191.3,443.3L191.8,443.3L192.3,443.3L192.8,443.3L193.3,443.3L193.8,443.3L194.3,443.3L194.8,443.3L195.3,443.3L195.8,443.3L196.3,443.3L196.8,443.3L197.3,443.3L197.8,443.3L198.3,443.3L198.8,443.3L199.3,443.3L199.8,443.3L200.3,443.3L200.8,443.3L201.3,443.3L201.8,443.3L202.3,443.3L202.8,443.3L203.3,443.3L203.8,443.3" fill="none" stroke="#f26464" stroke-width="1.0" stroke-linejoin="round" opacity="1.0"/>
<path d="M20.8,447.8L21.3,447.8L21.8,447.8L22.3,447.8L22.8,447.8L23.3,447.8L23.8,447.8L24.3,447.8L24.8,447.8L25.3,447.8L25.8,447.8L26.3,447.8L26.8,447.8L27.3,447.8L27.8,447.8L28.3,447.8L28.8,447.8L29.3,447.8L29.8,447.8L30.3,447.8L30.8,447.8L31.3,447.8L31.8,447.8L32.3,447.8L32.8,447.8L33.3,447.8L33.8,447.8L34.3,447.8L34.8,447.8L35.3,447.8L35.8,447.8L36.3,447.8L36.8,447.8L37.3,447.8L37.8,447.8L38.3,447.8L38.8,447.8L39.3,447.8L39.8,447.8L40.3,447.8L40.8,447.8L41.3,447.8L41.8,447.8L42.3,447.8L42.8,447.8L43.3,447.8L43.8,447.8L44.3,447.8L44.8,447.8L45.3,447.8L45.8,447.8L46.3,447.8L46.8,447.8L47.3,447.8L47.8,447.8L48.3,447.8L48.8,447.8L49.3,447.8L49.8,447.8L50.3,447.8L50.8,447.8L51.3,447.8L51.8,447.8L52.3,447.8L52.8,447.8L53.3,447.8L53.8,447.8L54.3,447.8L54.8,447.8L55.3,447.8L55.8,447.8L56.3,447.8L56.8,447.7L57.3,447.7L57.8,447.7L58.3,447.7L58.8,447.7L59.3,447.7L59.8,447.7L60.3,447.6L60.8,447.6L61.3,447.6L61.8,447.5L62.3,447.5L62.8,447.5L63.3,447.4L63.8,447.4L64.3,447.3L64.8,447.2L65.3,447.1L65.8,447.1L66.3,447.0L66.8,446.8L67.3,446.7L67.8,446.6L68.3,446.4L68.8,446.2L69.3,446.1L69.8,445.8L70.3,445.6L70.8,445.4L71.3,445.1L71.8,444.8L72.3,444.5L72.8,444.1L73.3,443.7L73.8,443.3L74.3,442.9L74.8,442.4L75.3,441.9L75.8,441.3L76.3,440.7L76.8,440.1L77.3,439.4L77.8,438.7L78.3,438.0L78.8,437.2L79.3,436.4L79.8,435.5L80.3,434.6L80.8,433.7L81.3,432.7L81.8,431.7L82.3,430.7L82.8,429.6L83.3,428.5L83.8,427.4L84.3,426.3L84.8,425.1L85.3,424.0L85.8,422.8L86.3,421.6L86.8,420.4L87.3,419.3L87.8,418.1L88.3,416.9L88.8,415.8L89.3,414.7L89.8,413.6L90.3,412.6L90.8,411.6L91.3,410.6L91.8,409.7L92.3,408.8L92.8,408.0L93.3,407.3L93.8,406.6L94.3,406.0L94.8,405.4L95.3,404.9L95.8,404.5L96.3,404.2L96.8,403.9L97.3,403.8L97.8,403.6L98.3,403.6L98.8,403.6L99.3,403.7L99.8,403.9L100.3,404.1L100.8,404.4L101.3,404.7L101.8,405.1L102.3,405.5L102.8,406.0L103.3,406.5L103.8,407.0L104.3,407.6L104.8,408.1L105.3,408.7L105.8,409.3L106.3,409.9L106.8,410.4L107.3,411.0L107.8,411.6L108.3,412.1L108.8,412.6L109.3,413.1L109.8,413.6L110.3,414.0L110.8,414.4L111.3,414.7L111.8,415.1L112.3,415.3L112.8,415.6L113.3,415.8L113.8,416.0L114.3,416.1L114.8,416.2L115.3,416.2L115.8,416.3L116.3,416.3L116.8,416.2L117.3,416.2L117.8,416.1L118.3,416.0L118.8,415.9L119.3,415.8L119.8,415.7L120.3,415.6L120.8,415.5L121.3,415.4L121.8,415.3L122.3,415.2L122.8,415.1L123.3,415.1L123.8,415.1L124.3,415.1L124.8,415.1L125.3,415.1L125.8,415.2L126.3,415.4L126.8,415.5L127.3,415.7L127.8,415.9L128.3,416.2L128.8,416.5L129.3,416.8L129.8,417.2L130.3,417.6L130.8,418.0L131.3,418.5L131.8,419.0L132.3,419.5L132.8,420.1L133.3,420.7L133.8,421.3L134.3,421.9L134.8,422.5L135.3,423.2L135.8,423.8L136.3,424.5L136.8,425.2L137.3,425.9L137.8,426.6L138.3,427.3L138.8,428.0L139.3,428.6L139.8,429.3L140.3,430.0L140.8,430.7L141.3,431.3L141.8,431.9L142.3,432.6L142.8,433.2L143.3,433.8L143.8,434.3L144.3,434.9L144.8,435.4L145.3,435.9L145.8,436.4L146.3,436.9L146.8,437.3L147.3,437.8L147.8,438.2L148.3,438.5L148.8,438.9L149.3,439.3L149.8,439.6L150.3,439.9L150.8,440.2L151.3,440.4L151.8,440.7L152.3,440.9L152.8,441.1L153.3,441.3L153.8,441.5L154.3,441.7L154.8,441.8L155.3,442.0L155.8,442.1L156.3,442.2L156.8,442.3L157.3,442.4L157.8,442.5L158.3,442.6L158.8,442.7L159.3,442.8L159.8,442.8L160.3,442.9L160.8,442.9L161.3,443.0L161.8,443.0L162.3,443.1L162.8,443.1L163.3,443.1L163.8,443.1L164.3,443.2L164.8,443.2L165.3,443.2L165.8,443.2L166.3,443.2L166.8,443.2L167.3,443.2L167.8,443.3L168.3,443.3L168.8,443.3L169.3,443.3L169.8,443.3L170.3,443.3L170.8,443.3L171.3,443.3L171.8,443.3L172.3,443.3L172.8,443.3L173.3,443.3L173.8,443.3L174.3,443.3L174.8,443.3L175.3,443.3L175.8,443.3L176.3,443.3L176.8,443.3L177.3,443.3L177.8,443.3L178.3,443.3L178.8,443.3L179.3,443.3L179.8,443.3L180.3,443.3L180.8,443.3L181.3,443.3L181.8,443.3L182.3,443.3L182.8,443.3L183.3,443.3L183.8,443.3L184.3,443.3L184.8,443.3L185.3,443.3L185.8,443.3L186.3,443.3L186.8,443.3L187.3,443.3L187.8,443.3L188.3,443.3L188.8,443.3L189.3,443.3L189.8,443.3L190.3,443.3L190.8,443.3L191.3,443.3L191.8,443.3L192.3,443.3L192.8,443.3L193.3,443.3L193.8,443.3L194.3,443.3L194.8,443.3L195.3,443.3L195.8,443.3L196.3,443.3L196.8,443.3L197.3,443.3L197.8,443.3L198.3,443.3L198.8,443.3L199.3,443.3L199.8,443.3L200.3,443.3L200.8,443.3L201.3,443.3L201.8,443.3L202.3,443.3L202.8,443.3L203.3,443.3L203.8,443.3" fill="none" stroke="#e374b0" stroke-width="1.1" stroke-linejoin="round" opacity="1.0"/>
<path d="M20.8,509.9L22.8,509.9L24.8,509.9L26.8,509.9L28.8,509.9L30.8,509.9L32.8,509.9L34.8,509.9L36.8,509.9L38.8,509.9L40.8,509.9L42.8,509.9L44.8,509.9L46.8,509.9L48.8,509.9L50.8,509.9L52.8,509.9L54.8,509.9L56.8,509.9L58.8,509.9L60.8,509.9L62.8,509.9L64.8,509.9L66.8,509.9L68.8,509.9L70.8,509.9L72.8,509.9L74.8,509.9L76.8,509.9L78.8,509.9L80.8,509.9L82.8,509.9L84.8,509.9L86.8,509.9L88.8,509.9L90.8,509.9L92.8,509.9L94.8,509.9L96.8,509.9L98.8,509.9L100.8,509.9L102.8,509.9L104.8,509.9L106.8,509.9L108.8,509.9L110.8,509.9L112.8,509.9L114.8,509.9L116.8,509.9L118.8,509.9L120.8,509.9L122.8,509.9L124.8,509.9L126.8,509.9L128.8,509.9L130.8,509.9L132.8,509.9L134.8,509.9L136.8,509.9L138.8,509.9L140.8,509.9L142.8,509.9L144.8,509.9L146.8,509.9L148.8,509.9L150.8,509.9L152.8,509.9L154.8,509.9L156.8,509.9L158.8,509.9L160.8,509.9L162.8,509.9L164.8,509.9L166.8,509.9L168.8,509.9L170.8,509.9L172.8,509.9L174.8,509.9L176.8,509.9L178.8,509.9L180.8,509.9L182.8,509.9L184.8,509.9L186.8,509.9L188.8,509.9L190.8,509.9L192.8,509.9L194.8,509.9L196.8,509.9L198.8,509.9L200.8,509.9L202.8,509.9" fill="none" stroke="#5b8fe6" stroke-width="1.0" stroke-linejoin="round" opacity="1.0"/>
<path d="M20.8,509.9L21.3,509.9L21.8,509.9L22.3,509.9L22.8,509.9L23.3,509.9L23.8,509.9L24.3,509.9L24.8,509.9L25.3,509.9L25.8,509.9L26.3,509.9L26.8,509.9L27.3,509.9L27.8,509.9L28.3,509.9L28.8,509.9L29.3,509.9L29.8,509.9L30.3,509.9L30.8,509.9L31.3,509.9L31.8,509.9L32.3,509.9L32.8,509.9L33.3,509.9L33.8,509.9L34.3,509.9L34.8,509.9L35.3,509.9L35.8,509.9L36.3,509.9L36.8,509.9L37.3,509.9L37.8,509.9L38.3,509.9L38.8,509.9L39.3,509.9L39.8,509.9L40.3,509.9L40.8,509.9L41.3,509.9L41.8,509.9L42.3,509.9L42.8,509.9L43.3,509.9L43.8,509.9L44.3,509.9L44.8,509.9L45.3,509.9L45.8,509.9L46.3,509.9L46.8,509.9L47.3,509.9L47.8,509.9L48.3,509.9L48.8,509.9L49.3,509.9L49.8,509.9L50.3,509.9L50.8,509.9L51.3,509.9L51.8,509.9L52.3,509.9L52.8,509.9L53.3,509.9L53.8,509.9L54.3,509.9L54.8,509.9L55.3,509.9L55.8,509.9L56.3,509.9L56.8,509.9L57.3,509.9L57.8,509.9L58.3,509.9L58.8,509.9L59.3,509.9L59.8,509.9L60.3,509.9L60.8,509.9L61.3,509.9L61.8,509.9L62.3,509.9L62.8,509.9L63.3,509.9L63.8,509.9L64.3,509.8L64.8,509.8L65.3,509.8L65.8,509.8L66.3,509.8L66.8,509.8L67.3,509.7L67.8,509.7L68.3,509.7L68.8,509.6L69.3,509.6L69.8,509.5L70.3,509.4L70.8,509.4L71.3,509.3L71.8,509.2L72.3,509.0L72.8,508.9L73.3,508.8L73.8,508.6L74.3,508.4L74.8,508.2L75.3,507.9L75.8,507.7L76.3,507.4L76.8,507.0L77.3,506.7L77.8,506.3L78.3,505.8L78.8,505.3L79.3,504.8L79.8,504.2L80.3,503.6L80.8,502.9L81.3,502.2L81.8,501.5L82.3,500.7L82.8,499.8L83.3,498.9L83.8,498.0L84.3,497.0L84.8,495.9L85.3,494.8L85.8,493.7L86.3,492.6L86.8,491.4L87.3,490.2L87.8,489.0L88.3,487.8L88.8,486.5L89.3,485.3L89.8,484.1L90.3,482.9L90.8,481.7L91.3,480.6L91.8,479.5L92.3,478.5L92.8,477.5L93.3,476.5L93.8,475.7L94.3,474.9L94.8,474.2L95.3,473.6L95.8,473.1L96.3,472.8L96.8,472.5L97.3,472.3L97.8,472.2L98.3,472.2L98.8,472.4L99.3,472.6L99.8,473.0L100.3,473.4L100.8,474.0L101.3,474.6L101.8,475.4L102.3,476.2L102.8,477.1L103.3,478.0L103.8,479.1L104.3,480.1L104.8,481.3L105.3,482.4L105.8,483.6L106.3,484.8L106.8,486.1L107.3,487.3L107.8,488.5L108.3,489.7L108.8,490.9L109.3,492.1L109.8,493.3L110.3,494.4L110.8,495.5L111.3,496.5L111.8,497.6L112.3,498.5L112.8,499.5L113.3,500.3L113.8,501.2L114.3,501.9L114.8,502.7L115.3,503.4L115.8,504.0L116.3,504.6L116.8,505.1L117.3,505.6L117.8,506.1L118.3,506.5L118.8,506.9L119.3,507.2L119.8,507.5L120.3,507.8L120.8,508.1L121.3,508.3L121.8,508.5L122.3,508.7L122.8,508.9L123.3,509.0L123.8,509.1L124.3,509.2L124.8,509.3L125.3,509.4L125.8,509.5L126.3,509.5L126.8,509.6L127.3,509.6L127.8,509.7L128.3,509.7L128.8,509.7L129.3,509.8L129.8,509.8L130.3,509.8L130.8,509.8L131.3,509.8L131.8,509.9L132.3,509.9L132.8,509.9L133.3,509.9L133.8,509.9L134.3,509.9L134.8,509.9L135.3,509.9L135.8,509.9L136.3,509.9L136.8,509.9L137.3,509.9L137.8,509.9L138.3,509.9L138.8,509.9L139.3,509.9L139.8,509.9L140.3,509.9L140.8,509.9L141.3,509.9L141.8,509.9L142.3,509.9L142.8,509.9L143.3,509.9L143.8,509.9L144.3,509.9L144.8,509.9L145.3,509.9L145.8,509.9L146.3,509.9L146.8,509.9L147.3,509.9L147.8,509.9L148.3,509.9L148.8,509.9L149.3,509.9L149.8,509.9L150.3,509.9L150.8,509.9L151.3,509.9L151.8,509.9L152.3,509.9L152.8,509.9L153.3,509.9L153.8,509.9L154.3,509.9L154.8,509.9L155.3,509.9L155.8,509.9L156.3,509.9L156.8,509.9L157.3,509.9L157.8,509.9L158.3,509.9L158.8,509.9L159.3,509.9L159.8,509.9L160.3,509.9L160.8,509.9L161.3,509.9L161.8,509.9L162.3,509.9L162.8,509.9L163.3,509.9L163.8,509.9L164.3,509.9L164.8,509.9L165.3,509.9L165.8,509.9L166.3,509.9L166.8,509.9L167.3,509.9L167.8,509.9L168.3,509.9L168.8,509.9L169.3,509.9L169.8,509.9L170.3,509.9L170.8,509.9L171.3,509.9L171.8,509.9L172.3,509.9L172.8,509.9L173.3,509.9L173.8,509.9L174.3,509.9L174.8,509.9L175.3,509.9L175.8,509.9L176.3,509.9L176.8,509.9L177.3,509.9L177.8,509.9L178.3,509.9L178.8,509.9L179.3,509.9L179.8,509.9L180.3,509.9L180.8,509.9L181.3,509.9L181.8,509.9L182.3,509.9L182.8,509.9L183.3,509.9L183.8,509.9L184.3,509.9L184.8,509.9L185.3,509.9L185.8,509.9L186.3,509.9L186.8,509.9L187.3,509.9L187.8,509.9L188.3,509.9L188.8,509.9L189.3,509.9L189.8,509.9L190.3,509.9L190.8,509.9L191.3,509.9L191.8,509.9L192.3,509.9L192.8,509.9L193.3,509.9L193.8,509.9L194.3,509.9L194.8,509.9L195.3,509.9L195.8,509.9L196.3,509.9L196.8,509.9L197.3,509.9L197.8,509.9L198.3,509.9L198.8,509.9L199.3,509.9L199.8,509.9L200.3,509.9L200.8,509.9L201.3,509.9L201.8,509.9L202.3,509.9L202.8,509.9L203.3,509.9L203.8,509.9" fill="none" stroke="#3fbf80" stroke-width="1.0" stroke-linejoin="round" opacity="1.0"/>
<path d="M20.8,509.9L21.3,509.9L21.8,509.9L22.3,509.9L22.8,509.9L23.3,509.9L23.8,509.9L24.3,509.9L24.8,509.9L25.3,509.9L25.8,509.9L26.3,509.9L26.8,509.9L27.3,509.9L27.8,509.9L28.3,509.9L28.8,509.9L29.3,509.9L29.8,509.9L30.3,509.9L30.8,509.9L31.3,509.9L31.8,509.9L32.3,509.9L32.8,509.9L33.3,509.9L33.8,509.9L34.3,509.9L34.8,509.9L35.3,509.9L35.8,509.9L36.3,509.9L36.8,509.9L37.3,509.9L37.8,509.9L38.3,509.9L38.8,509.9L39.3,509.9L39.8,509.9L40.3,509.9L40.8,509.9L41.3,509.9L41.8,509.9L42.3,509.9L42.8,509.9L43.3,509.9L43.8,509.9L44.3,509.9L44.8,509.9L45.3,509.9L45.8,509.9L46.3,509.9L46.8,509.9L47.3,509.9L47.8,509.9L48.3,509.9L48.8,509.9L49.3,509.9L49.8,509.9L50.3,509.9L50.8,509.9L51.3,509.9L51.8,509.9L52.3,509.9L52.8,509.9L53.3,509.9L53.8,509.9L54.3,509.9L54.8,509.9L55.3,509.9L55.8,509.9L56.3,509.9L56.8,509.9L57.3,509.9L57.8,509.9L58.3,509.9L58.8,509.9L59.3,509.9L59.8,509.9L60.3,509.9L60.8,509.9L61.3,509.9L61.8,509.9L62.3,509.9L62.8,509.9L63.3,509.9L63.8,509.9L64.3,509.9L64.8,509.9L65.3,509.9L65.8,509.9L66.3,509.9L66.8,509.9L67.3,509.9L67.8,509.9L68.3,509.9L68.8,509.9L69.3,509.9L69.8,509.9L70.3,509.9L70.8,509.9L71.3,509.9L71.8,509.9L72.3,509.9L72.8,509.9L73.3,509.9L73.8,509.9L74.3,509.9L74.8,509.9L75.3,509.9L75.8,509.9L76.3,509.9L76.8,509.9L77.3,509.8L77.8,509.8L78.3,509.8L78.8,509.8L79.3,509.8L79.8,509.8L80.3,509.8L80.8,509.8L81.3,509.8L81.8,509.7L82.3,509.7L82.8,509.7L83.3,509.7L83.8,509.6L84.3,509.6L84.8,509.6L85.3,509.5L85.8,509.5L86.3,509.4L86.8,509.4L87.3,509.3L87.8,509.2L88.3,509.2L88.8,509.1L89.3,509.0L89.8,508.9L90.3,508.8L90.8,508.7L91.3,508.5L91.8,508.4L92.3,508.2L92.8,508.1L93.3,507.9L93.8,507.7L94.3,507.5L94.8,507.3L95.3,507.1L95.8,506.8L96.3,506.6L96.8,506.3L97.3,506.0L97.8,505.7L98.3,505.3L98.8,505.0L99.3,504.6L99.8,504.2L100.3,503.8L100.8,503.3L101.3,502.9L101.8,502.4L102.3,501.9L102.8,501.4L103.3,500.8L103.8,500.2L104.3,499.7L104.8,499.0L105.3,498.4L105.8,497.8L106.3,497.1L106.8,496.4L107.3,495.7L107.8,495.0L108.3,494.3L108.8,493.6L109.3,492.9L109.8,492.1L110.3,491.4L110.8,490.6L111.3,489.9L111.8,489.1L112.3,488.4L112.8,487.6L113.3,486.9L113.8,486.2L114.3,485.4L114.8,484.8L115.3,484.1L115.8,483.4L116.3,482.8L116.8,482.2L117.3,481.6L117.8,481.1L118.3,480.6L118.8,480.1L119.3,479.6L119.8,479.2L120.3,478.9L120.8,478.6L121.3,478.3L121.8,478.1L122.3,477.9L122.8,477.7L123.3,477.6L123.8,477.6L124.3,477.6L124.8,477.7L125.3,477.8L125.8,477.9L126.3,478.1L126.8,478.3L127.3,478.6L127.8,479.0L128.3,479.3L128.8,479.7L129.3,480.2L129.8,480.7L130.3,481.2L130.8,481.7L131.3,482.3L131.8,482.9L132.3,483.6L132.8,484.2L133.3,484.9L133.8,485.6L134.3,486.3L134.8,487.0L135.3,487.8L135.8,488.5L136.3,489.3L136.8,490.0L137.3,490.8L137.8,491.5L138.3,492.3L138.8,493.0L139.3,493.7L139.8,494.5L140.3,495.2L140.8,495.9L141.3,496.6L141.8,497.2L142.3,497.9L142.8,498.5L143.3,499.2L143.8,499.8L144.3,500.4L144.8,500.9L145.3,501.5L145.8,502.0L146.3,502.5L146.8,503.0L147.3,503.4L147.8,503.9L148.3,504.3L148.8,504.7L149.3,505.0L149.8,505.4L150.3,505.7L150.8,506.0L151.3,506.3L151.8,506.6L152.3,506.9L152.8,507.1L153.3,507.4L153.8,507.6L154.3,507.8L154.8,507.9L155.3,508.1L155.8,508.3L156.3,508.4L156.8,508.6L157.3,508.7L157.8,508.8L158.3,508.9L158.8,509.0L159.3,509.1L159.8,509.2L160.3,509.2L160.8,509.3L161.3,509.4L161.8,509.4L162.3,509.5L162.8,509.5L163.3,509.6L163.8,509.6L164.3,509.6L164.8,509.7L165.3,509.7L165.8,509.7L166.3,509.7L166.8,509.8L167.3,509.8L167.8,509.8L168.3,509.8L168.8,509.8L169.3,509.8L169.8,509.8L170.3,509.8L170.8,509.9L171.3,509.9L171.8,509.9L172.3,509.9L172.8,509.9L173.3,509.9L173.8,509.9L174.3,509.9L174.8,509.9L175.3,509.9L175.8,509.9L176.3,509.9L176.8,509.9L177.3,509.9L177.8,509.9L178.3,509.9L178.8,509.9L179.3,509.9L179.8,509.9L180.3,509.9L180.8,509.9L181.3,509.9L181.8,509.9L182.3,509.9L182.8,509.9L183.3,509.9L183.8,509.9L184.3,509.9L184.8,509.9L185.3,509.9L185.8,509.9L186.3,509.9L186.8,509.9L187.3,509.9L187.8,509.9L188.3,509.9L188.8,509.9L189.3,509.9L189.8,509.9L190.3,509.9L190.8,509.9L191.3,509.9L191.8,509.9L192.3,509.9L192.8,509.9L193.3,509.9L193.8,509.9L194.3,509.9L194.8,509.9L195.3,509.9L195.8,509.9L196.3,509.9L196.8,509.9L197.3,509.9L197.8,509.9L198.3,509.9L198.8,509.9L199.3,509.9L199.8,509.9L200.3,509.9L200.8,509.9L201.3,509.9L201.8,509.9L202.3,509.9L202.8,509.9L203.3,509.9L203.8,509.9" fill="none" stroke="#b77cf0" stroke-width="1.0" stroke-linejoin="round" opacity="1.0"/>
<path d="M20.8,509.9L21.3,509.9L21.8,509.9L22.3,509.9L22.8,509.9L23.3,509.9L23.8,509.9L24.3,509.9L24.8,509.9L25.3,509.9L25.8,509.9L26.3,509.9L26.8,509.9L27.3,509.9L27.8,509.9L28.3,509.9L28.8,509.9L29.3,509.9L29.8,509.9L30.3,509.9L30.8,509.9L31.3,509.9L31.8,509.9L32.3,509.9L32.8,509.9L33.3,509.9L33.8,509.9L34.3,509.9L34.8,509.9L35.3,509.9L35.8,509.9L36.3,509.9L36.8,509.9L37.3,509.9L37.8,509.9L38.3,509.9L38.8,509.9L39.3,509.9L39.8,509.9L40.3,509.9L40.8,509.9L41.3,509.9L41.8,509.9L42.3,509.9L42.8,509.9L43.3,509.9L43.8,509.9L44.3,509.9L44.8,509.9L45.3,509.9L45.8,509.9L46.3,509.9L46.8,509.9L47.3,509.9L47.8,509.9L48.3,509.9L48.8,509.9L49.3,509.9L49.8,509.9L50.3,509.9L50.8,509.9L51.3,509.9L51.8,509.9L52.3,509.9L52.8,509.9L53.3,509.9L53.8,509.9L54.3,509.9L54.8,509.9L55.3,509.9L55.8,509.9L56.3,509.9L56.8,509.9L57.3,509.9L57.8,509.9L58.3,509.9L58.8,509.9L59.3,509.9L59.8,509.9L60.3,509.9L60.8,509.9L61.3,509.9L61.8,509.9L62.3,509.9L62.8,509.9L63.3,509.9L63.8,509.9L64.3,509.8L64.8,509.8L65.3,509.8L65.8,509.8L66.3,509.8L66.8,509.8L67.3,509.7L67.8,509.7L68.3,509.7L68.8,509.6L69.3,509.6L69.8,509.5L70.3,509.4L70.8,509.4L71.3,509.3L71.8,509.2L72.3,509.0L72.8,508.9L73.3,508.7L73.8,508.6L74.3,508.4L74.8,508.2L75.3,507.9L75.8,507.6L76.3,507.3L76.8,507.0L77.3,506.6L77.8,506.2L78.3,505.7L78.8,505.2L79.3,504.7L79.8,504.1L80.3,503.5L80.8,502.8L81.3,502.1L81.8,501.3L82.3,500.5L82.8,499.6L83.3,498.7L83.8,497.7L84.3,496.7L84.8,495.6L85.3,494.5L85.8,493.3L86.3,492.1L86.8,490.9L87.3,489.6L87.8,488.3L88.3,487.0L88.8,485.7L89.3,484.4L89.8,483.1L90.3,481.8L90.8,480.5L91.3,479.2L91.8,478.0L92.3,476.8L92.8,475.6L93.3,474.6L93.8,473.5L94.3,472.5L94.8,471.6L95.3,470.8L95.8,470.1L96.3,469.4L96.8,468.8L97.3,468.4L97.8,468.0L98.3,467.7L98.8,467.4L99.3,467.3L99.8,467.3L100.3,467.3L100.8,467.4L101.3,467.6L101.8,467.9L102.3,468.2L102.8,468.5L103.3,469.0L103.8,469.4L104.3,469.9L104.8,470.4L105.3,471.0L105.8,471.5L106.3,472.0L106.8,472.6L107.3,473.1L107.8,473.6L108.3,474.1L108.8,474.6L109.3,475.1L109.8,475.5L110.3,475.9L110.8,476.2L111.3,476.5L111.8,476.8L112.3,477.0L112.8,477.2L113.3,477.3L113.8,477.4L114.3,477.5L114.8,477.5L115.3,477.5L115.8,477.5L116.3,477.5L116.8,477.4L117.3,477.3L117.8,477.3L118.3,477.2L118.8,477.1L119.3,477.0L119.8,476.9L120.3,476.8L120.8,476.7L121.3,476.7L121.8,476.7L122.3,476.7L122.8,476.7L123.3,476.7L123.8,476.8L124.3,476.9L124.8,477.1L125.3,477.3L125.8,477.5L126.3,477.7L126.8,478.0L127.3,478.4L127.8,478.7L128.3,479.1L128.8,479.6L129.3,480.0L129.8,480.6L130.3,481.1L130.8,481.7L131.3,482.3L131.8,482.9L132.3,483.5L132.8,484.2L133.3,484.9L133.8,485.6L134.3,486.3L134.8,487.0L135.3,487.8L135.8,488.5L136.3,489.2L136.8,490.0L137.3,490.8L137.8,491.5L138.3,492.3L138.8,493.0L139.3,493.7L139.8,494.5L140.3,495.2L140.8,495.9L141.3,496.6L141.8,497.2L142.3,497.9L142.8,498.5L143.3,499.2L143.8,499.8L144.3,500.4L144.8,500.9L145.3,501.5L145.8,502.0L146.3,502.5L146.8,503.0L147.3,503.4L147.8,503.9L148.3,504.3L148.8,504.7L149.3,505.0L149.8,505.4L150.3,505.7L150.8,506.0L151.3,506.3L151.8,506.6L152.3,506.9L152.8,507.1L153.3,507.4L153.8,507.6L154.3,507.8L154.8,507.9L155.3,508.1L155.8,508.3L156.3,508.4L156.8,508.6L157.3,508.7L157.8,508.8L158.3,508.9L158.8,509.0L159.3,509.1L159.8,509.2L160.3,509.2L160.8,509.3L161.3,509.4L161.8,509.4L162.3,509.5L162.8,509.5L163.3,509.6L163.8,509.6L164.3,509.6L164.8,509.7L165.3,509.7L165.8,509.7L166.3,509.7L166.8,509.8L167.3,509.8L167.8,509.8L168.3,509.8L168.8,509.8L169.3,509.8L169.8,509.8L170.3,509.8L170.8,509.9L171.3,509.9L171.8,509.9L172.3,509.9L172.8,509.9L173.3,509.9L173.8,509.9L174.3,509.9L174.8,509.9L175.3,509.9L175.8,509.9L176.3,509.9L176.8,509.9L177.3,509.9L177.8,509.9L178.3,509.9L178.8,509.9L179.3,509.9L179.8,509.9L180.3,509.9L180.8,509.9L181.3,509.9L181.8,509.9L182.3,509.9L182.8,509.9L183.3,509.9L183.8,509.9L184.3,509.9L184.8,509.9L185.3,509.9L185.8,509.9L186.3,509.9L186.8,509.9L187.3,509.9L187.8,509.9L188.3,509.9L188.8,509.9L189.3,509.9L189.8,509.9L190.3,509.9L190.8,509.9L191.3,509.9L191.8,509.9L192.3,509.9L192.8,509.9L193.3,509.9L193.8,509.9L194.3,509.9L194.8,509.9L195.3,509.9L195.8,509.9L196.3,509.9L196.8,509.9L197.3,509.9L197.8,509.9L198.3,509.9L198.8,509.9L199.3,509.9L199.8,509.9L200.3,509.9L200.8,509.9L201.3,509.9L201.8,509.9L202.3,509.9L202.8,509.9L203.3,509.9L203.8,509.9" fill="none" stroke="#f26464" stroke-width="1.1" stroke-linejoin="round" opacity="1.0"/>
<rect x="20.2" y="372.8" width="184.60000000000002" height="148.99999999999994" fill="none" stroke="#686868" stroke-width="1.5"/>
<line x1="46.40" y1="521.8" x2="46.40" y2="524.8" stroke="#686868" stroke-width="1"/>
<text x="46.40" y="532.38" font-size="6.6" text-anchor="middle" font-weight="bold" fill="#111" stroke="#111" stroke-width="0.28">66</text>
<line x1="99.14" y1="521.8" x2="99.14" y2="524.8" stroke="#686868" stroke-width="1"/>
<text x="99.14" y="532.38" font-size="6.6" text-anchor="middle" font-weight="bold" fill="#111" stroke="#111" stroke-width="0.28">68</text>
<line x1="151.88" y1="521.8" x2="151.88" y2="524.8" stroke="#686868" stroke-width="1"/>
<text x="151.88" y="532.38" font-size="6.6" text-anchor="middle" font-weight="bold" fill="#111" stroke="#111" stroke-width="0.28">70</text>
<line x1="204.62" y1="521.8" x2="204.62" y2="524.8" stroke="#686868" stroke-width="1"/>
<text x="204.62" y="532.38" font-size="6.6" text-anchor="middle" font-weight="bold" fill="#111" stroke="#111" stroke-width="0.28">72</text>
<line x1="72.77" y1="521.8" x2="72.77" y2="523.8" stroke="#686868" stroke-width="1"/>
<line x1="125.51" y1="521.8" x2="125.51" y2="523.8" stroke="#686868" stroke-width="1"/>
<line x1="178.25" y1="521.8" x2="178.25" y2="523.8" stroke="#686868" stroke-width="1"/>
<text x="118.05" y="542.32" font-size="7.6" text-anchor="middle" font-weight="bold" fill="#111" stroke="#111" stroke-width="0.28">Binding Energy(eV)</text>
<text x="12.30" y="446.52" font-size="7.6" text-anchor="middle" font-weight="bold" fill="#111" stroke="#111" stroke-width="0.28" transform="rotate(-90 12.3 444)">Intensity(a.u.)</text>
<text x="24.00" y="384.52" font-size="7.6" text-anchor="start" font-weight="bold" fill="#111" stroke="#111" stroke-width="0.28">(e)</text>
<text x="198.90" y="384.51" font-size="7.9" text-anchor="end" font-weight="bold" fill="#111" stroke="#111" stroke-width="0.28">Br 3d</text>
<text x="70.40" y="402.78" font-size="7.2" text-anchor="start" font-weight="bold" fill="#111" stroke="#111" stroke-width="0.28"><tspan font-size="7.2" dy="-0.00">3d</tspan><tspan font-size="5.60" stroke-width="0.15" dy="2.02">3/2</tspan></text>
<line x1="93.70" y1="404.30" x2="89.80" y2="402.71" stroke="#111" stroke-width="1.0"/>
<polygon points="86.10,401.20 90.48,401.04 89.12,404.38" fill="#111"/>
<text x="137.50" y="414.58" font-size="7.2" text-anchor="start" font-weight="bold" fill="#111" stroke="#111" stroke-width="0.28"><tspan font-size="7.2" dy="-0.00">3d</tspan><tspan font-size="5.60" stroke-width="0.15" dy="2.02">5/2</tspan></text>
<line x1="135.70" y1="412.10" x2="132.00" y2="414.16" stroke="#111" stroke-width="1.0"/>
<polygon points="128.50,416.10 131.12,412.58 132.87,415.73" fill="#111"/>
<text x="162.40" y="438.79" font-size="6.3" text-anchor="start" font-weight="bold" fill="#111" stroke="#111" stroke-width="0.28"><tspan font-size="6.3" dy="-0.00">BiOBr</tspan><tspan font-size="4.28" stroke-width="0.15" dy="1.76">0.15</tspan><tspan font-size="6.3" dy="-1.76">I</tspan><tspan font-size="4.28" stroke-width="0.15" dy="1.76">0.85</tspan></text>
<text x="173.40" y="505.79" font-size="6.3" text-anchor="start" font-weight="bold" fill="#111" stroke="#111" stroke-width="0.28"><tspan font-size="6.3" dy="-0.00">BiOBr</tspan></text>
<path d="M256.2,419.8L258.2,419.8L260.2,419.8L262.2,419.8L264.2,419.8L266.2,419.8L268.2,419.8L270.2,419.8L272.2,419.8L274.2,419.8L276.2,419.8L278.2,419.8L280.2,419.8L282.2,419.8L284.2,419.8L286.2,419.8L288.2,419.8L290.2,419.8L292.2,419.8L294.2,419.8L296.2,419.8L298.2,419.8L300.2,419.8L302.2,419.8L304.2,419.8L306.2,419.8L308.2,419.8L310.2,419.8L312.2,419.8L314.2,419.8L316.2,419.8L318.2,419.8L320.2,419.8L322.2,419.8L324.2,419.8L326.2,419.8L328.2,419.8L330.2,419.8L332.2,419.8L334.2,419.8L336.2,419.8L338.2,419.8L340.2,419.8L342.2,419.8L344.2,419.8L346.2,419.8L348.2,419.8L350.2,419.8L352.2,419.8L354.2,419.8L356.2,419.8L358.2,419.8L360.2,419.8L362.2,419.8L364.2,419.8L366.2,419.8L368.2,419.8L370.2,419.8L372.2,419.8L374.2,419.8L376.2,419.8L378.2,419.8L380.2,419.8L382.2,419.8L384.2,419.8L386.2,419.8L388.2,419.8L390.2,419.8L392.2,419.8L394.2,419.8L396.2,419.8L398.2,419.8L400.2,419.8L402.2,419.8L404.2,419.8L406.2,419.8L408.2,419.8L410.2,419.8L412.2,419.8L414.2,419.8L416.2,419.8L418.2,419.8L420.2,419.8L422.2,419.8L424.2,419.8L426.2,419.8L428.2,419.8L430.2,419.8L432.2,419.8L434.2,419.8L436.2,419.8" fill="none" stroke="#d9a040" stroke-width="1.0" stroke-linejoin="round" opacity="1.0"/>
<path d="M256.2,419.8L256.7,419.8L257.2,419.8L257.7,419.8L258.2,419.8L258.7,419.8L259.2,419.8L259.7,419.8L260.2,419.8L260.7,419.8L261.2,419.8L261.7,419.8L262.2,419.8L262.7,419.8L263.2,419.8L263.7,419.8L264.2,419.8L264.7,419.8L265.2,419.8L265.7,419.8L266.2,419.8L266.7,419.8L267.2,419.8L267.7,419.8L268.2,419.8L268.7,419.8L269.2,419.8L269.7,419.8L270.2,419.8L270.7,419.8L271.2,419.8L271.7,419.7L272.2,419.7L272.7,419.7L273.2,419.7L273.7,419.7L274.2,419.7L274.7,419.7L275.2,419.7L275.7,419.7L276.2,419.7L276.7,419.7L277.2,419.7L277.7,419.6L278.2,419.6L278.7,419.6L279.2,419.6L279.7,419.6L280.2,419.6L280.7,419.6L281.2,419.5L281.7,419.5L282.2,419.5L282.7,419.5L283.2,419.4L283.7,419.4L284.2,419.4L284.7,419.4L285.2,419.3L285.7,419.3L286.2,419.3L286.7,419.2L287.2,419.2L287.7,419.2L288.2,419.1L288.7,419.1L289.2,419.0L289.7,419.0L290.2,418.9L290.7,418.9L291.2,418.9L291.7,418.8L292.2,418.8L292.7,418.7L293.2,418.6L293.7,418.6L294.2,418.5L294.7,418.5L295.2,418.4L295.7,418.4L296.2,418.3L296.7,418.2L297.2,418.2L297.7,418.1L298.2,418.0L298.7,418.0L299.2,417.9L299.7,417.8L300.2,417.8L300.7,417.7L301.2,417.7L301.7,417.6L302.2,417.5L302.7,417.5L303.2,417.4L303.7,417.3L304.2,417.3L304.7,417.2L305.2,417.2L305.7,417.1L306.2,417.1L306.7,417.0L307.2,417.0L307.7,416.9L308.2,416.9L308.7,416.8L309.2,416.8L309.7,416.8L310.2,416.7L310.7,416.7L311.2,416.7L311.7,416.7L312.2,416.6L312.7,416.6L313.2,416.6L313.7,416.6L314.2,416.6L314.7,416.6L315.2,416.6L315.7,416.6L316.2,416.6L316.7,416.6L317.2,416.6L317.7,416.7L318.2,416.7L318.7,416.7L319.2,416.7L319.7,416.8L320.2,416.8L320.7,416.9L321.2,416.9L321.7,416.9L322.2,417.0L322.7,417.0L323.2,417.1L323.7,417.1L324.2,417.2L324.7,417.2L325.2,417.3L325.7,417.4L326.2,417.4L326.7,417.5L327.2,417.6L327.7,417.6L328.2,417.7L328.7,417.7L329.2,417.8L329.7,417.9L330.2,417.9L330.7,418.0L331.2,418.1L331.7,418.1L332.2,418.2L332.7,418.3L333.2,418.3L333.7,418.4L334.2,418.4L334.7,418.5L335.2,418.6L335.7,418.6L336.2,418.7L336.7,418.7L337.2,418.8L337.7,418.8L338.2,418.9L338.7,418.9L339.2,419.0L339.7,419.0L340.2,419.1L340.7,419.1L341.2,419.1L341.7,419.2L342.2,419.2L342.7,419.2L343.2,419.3L343.7,419.3L344.2,419.3L344.7,419.4L345.2,419.4L345.7,419.4L346.2,419.5L346.7,419.5L347.2,419.5L347.7,419.5L348.2,419.5L348.7,419.6L349.2,419.6L349.7,419.6L350.2,419.6L350.7,419.6L351.2,419.6L351.7,419.6L352.2,419.7L352.7,419.7L353.2,419.7L353.7,419.7L354.2,419.7L354.7,419.7L355.2,419.7L355.7,419.7L356.2,419.7L356.7,419.7L357.2,419.7L357.7,419.7L358.2,419.8L358.7,419.8L359.2,419.8L359.7,419.8L360.2,419.8L360.7,419.8L361.2,419.8L361.7,419.8L362.2,419.8L362.7,419.8L363.2,419.8L363.7,419.8L364.2,419.8L364.7,419.8L365.2,419.8L365.7,419.8L366.2,419.8L366.7,419.8L367.2,419.8L367.7,419.8L368.2,419.8L368.7,419.8L369.2,419.8L369.7,419.8L370.2,419.8L370.7,419.8L371.2,419.8L371.7,419.8L372.2,419.8L372.7,419.8L373.2,419.8L373.7,419.8L374.2,419.8L374.7,419.8L375.2,419.8L375.7,419.8L376.2,419.8L376.7,419.8L377.2,419.8L377.7,419.8L378.2,419.8L378.7,419.8L379.2,419.8L379.7,419.8L380.2,419.8L380.7,419.8L381.2,419.8L381.7,419.8L382.2,419.8L382.7,419.8L383.2,419.8L383.7,419.8L384.2,419.8L384.7,419.8L385.2,419.8L385.7,419.8L386.2,419.8L386.7,419.8L387.2,419.8L387.7,419.8L388.2,419.8L388.7,419.8L389.2,419.8L389.7,419.8L390.2,419.8L390.7,419.8L391.2,419.8L391.7,419.8L392.2,419.8L392.7,419.8L393.2,419.8L393.7,419.8L394.2,419.8L394.7,419.8L395.2,419.8L395.7,419.8L396.2,419.8L396.7,419.8L397.2,419.8L397.7,419.8L398.2,419.8L398.7,419.8L399.2,419.8L399.7,419.8L400.2,419.8L400.7,419.8L401.2,419.8L401.7,419.8L402.2,419.8L402.7,419.8L403.2,419.8L403.7,419.8L404.2,419.8L404.7,419.8L405.2,419.8L405.7,419.8L406.2,419.8L406.7,419.8L407.2,419.8L407.7,419.8L408.2,419.8L408.7,419.8L409.2,419.8L409.7,419.8L410.2,419.8L410.7,419.8L411.2,419.8L411.7,419.8L412.2,419.8L412.7,419.8L413.2,419.8L413.7,419.8L414.2,419.8L414.7,419.8L415.2,419.8L415.7,419.8L416.2,419.8L416.7,419.8L417.2,419.8L417.7,419.8L418.2,419.8L418.7,419.8L419.2,419.8L419.7,419.8L420.2,419.8L420.7,419.8L421.2,419.8L421.7,419.8L422.2,419.8L422.7,419.8L423.2,419.8L423.7,419.8L424.2,419.8L424.7,419.8L425.2,419.8L425.7,419.8L426.2,419.8L426.7,419.8L427.2,419.8L427.7,419.8L428.2,419.8L428.7,419.8L429.2,419.8L429.7,419.8L430.2,419.8L430.7,419.8L431.2,419.8L431.7,419.8L432.2,419.8L432.7,419.8L433.2,419.8L433.7,419.8L434.2,419.8L434.7,419.8L435.2,419.8L435.7,419.8L436.2,419.8L436.7,419.8L437.2,419.8" fill="none" stroke="#b77cf0" stroke-width="1.0" stroke-linejoin="round" opacity="1.0"/>
<path d="M256.2,419.8L256.7,419.8L257.2,419.8L257.7,419.8L258.2,419.8L258.7,419.8L259.2,419.8L259.7,419.8L260.2,419.8L260.7,419.8L261.2,419.8L261.7,419.8L262.2,419.8L262.7,419.7L263.2,419.7L263.7,419.7L264.2,419.7L264.7,419.7L265.2,419.7L265.7,419.7L266.2,419.7L266.7,419.6L267.2,419.6L267.7,419.6L268.2,419.5L268.7,419.5L269.2,419.5L269.7,419.4L270.2,419.4L270.7,419.3L271.2,419.2L271.7,419.2L272.2,419.1L272.7,419.0L273.2,418.9L273.7,418.8L274.2,418.7L274.7,418.6L275.2,418.4L275.7,418.3L276.2,418.1L276.7,417.9L277.2,417.7L277.7,417.5L278.2,417.3L278.7,417.0L279.2,416.8L279.7,416.5L280.2,416.2L280.7,415.9L281.2,415.5L281.7,415.1L282.2,414.8L282.7,414.4L283.2,413.9L283.7,413.5L284.2,413.0L284.7,412.5L285.2,412.0L285.7,411.5L286.2,410.9L286.7,410.4L287.2,409.8L287.7,409.2L288.2,408.6L288.7,407.9L289.2,407.3L289.7,406.6L290.2,406.0L290.7,405.3L291.2,404.7L291.7,404.0L292.2,403.4L292.7,402.7L293.2,402.1L293.7,401.5L294.2,400.9L294.7,400.3L295.2,399.7L295.7,399.1L296.2,398.6L296.7,398.1L297.2,397.7L297.7,397.2L298.2,396.9L298.7,396.5L299.2,396.2L299.7,395.9L300.2,395.7L300.7,395.5L301.2,395.4L301.7,395.3L302.2,395.3L302.7,395.3L303.2,395.4L303.7,395.5L304.2,395.6L304.7,395.8L305.2,396.1L305.7,396.4L306.2,396.7L306.7,397.1L307.2,397.5L307.7,397.9L308.2,398.4L308.7,398.9L309.2,399.5L309.7,400.0L310.2,400.6L310.7,401.2L311.2,401.8L311.7,402.5L312.2,403.1L312.7,403.8L313.2,404.4L313.7,405.1L314.2,405.7L314.7,406.4L315.2,407.0L315.7,407.7L316.2,408.3L316.7,408.9L317.2,409.5L317.7,410.1L318.2,410.7L318.7,411.3L319.2,411.8L319.7,412.3L320.2,412.8L320.7,413.3L321.2,413.8L321.7,414.2L322.2,414.6L322.7,415.0L323.2,415.4L323.7,415.7L324.2,416.1L324.7,416.4L325.2,416.7L325.7,416.9L326.2,417.2L326.7,417.4L327.2,417.6L327.7,417.8L328.2,418.0L328.7,418.2L329.2,418.4L329.7,418.5L330.2,418.6L330.7,418.8L331.2,418.9L331.7,419.0L332.2,419.1L332.7,419.1L333.2,419.2L333.7,419.3L334.2,419.3L334.7,419.4L335.2,419.4L335.7,419.5L336.2,419.5L336.7,419.6L337.2,419.6L337.7,419.6L338.2,419.6L338.7,419.7L339.2,419.7L339.7,419.7L340.2,419.7L340.7,419.7L341.2,419.7L341.7,419.7L342.2,419.8L342.7,419.8L343.2,419.8L343.7,419.8L344.2,419.8L344.7,419.8L345.2,419.8L345.7,419.8L346.2,419.8L346.7,419.8L347.2,419.8L347.7,419.8L348.2,419.8L348.7,419.8L349.2,419.8L349.7,419.8L350.2,419.8L350.7,419.8L351.2,419.8L351.7,419.8L352.2,419.8L352.7,419.8L353.2,419.8L353.7,419.8L354.2,419.8L354.7,419.8L355.2,419.8L355.7,419.8L356.2,419.8L356.7,419.8L357.2,419.8L357.7,419.8L358.2,419.8L358.7,419.8L359.2,419.8L359.7,419.8L360.2,419.8L360.7,419.8L361.2,419.8L361.7,419.8L362.2,419.8L362.7,419.8L363.2,419.8L363.7,419.8L364.2,419.8L364.7,419.8L365.2,419.8L365.7,419.8L366.2,419.8L366.7,419.8L367.2,419.8L367.7,419.8L368.2,419.8L368.7,419.8L369.2,419.8L369.7,419.8L370.2,419.8L370.7,419.8L371.2,419.8L371.7,419.8L372.2,419.8L372.7,419.8L373.2,419.8L373.7,419.8L374.2,419.8L374.7,419.8L375.2,419.8L375.7,419.8L376.2,419.8L376.7,419.8L377.2,419.8L377.7,419.8L378.2,419.8L378.7,419.8L379.2,419.8L379.7,419.8L380.2,419.8L380.7,419.8L381.2,419.8L381.7,419.8L382.2,419.8L382.7,419.8L383.2,419.8L383.7,419.8L384.2,419.8L384.7,419.8L385.2,419.8L385.7,419.8L386.2,419.8L386.7,419.8L387.2,419.8L387.7,419.8L388.2,419.8L388.7,419.8L389.2,419.8L389.7,419.8L390.2,419.8L390.7,419.8L391.2,419.8L391.7,419.8L392.2,419.8L392.7,419.8L393.2,419.8L393.7,419.8L394.2,419.8L394.7,419.8L395.2,419.8L395.7,419.8L396.2,419.8L396.7,419.8L397.2,419.8L397.7,419.8L398.2,419.8L398.7,419.8L399.2,419.8L399.7,419.8L400.2,419.8L400.7,419.8L401.2,419.8L401.7,419.8L402.2,419.8L402.7,419.8L403.2,419.8L403.7,419.8L404.2,419.8L404.7,419.8L405.2,419.8L405.7,419.8L406.2,419.8L406.7,419.8L407.2,419.8L407.7,419.8L408.2,419.8L408.7,419.8L409.2,419.8L409.7,419.8L410.2,419.8L410.7,419.8L411.2,419.8L411.7,419.8L412.2,419.8L412.7,419.8L413.2,419.8L413.7,419.8L414.2,419.8L414.7,419.8L415.2,419.8L415.7,419.8L416.2,419.8L416.7,419.8L417.2,419.8L417.7,419.8L418.2,419.8L418.7,419.8L419.2,419.8L419.7,419.8L420.2,419.8L420.7,419.8L421.2,419.8L421.7,419.8L422.2,419.8L422.7,419.8L423.2,419.8L423.7,419.8L424.2,419.8L424.7,419.8L425.2,419.8L425.7,419.8L426.2,419.8L426.7,419.8L427.2,419.8L427.7,419.8L428.2,419.8L428.7,419.8L429.2,419.8L429.7,419.8L430.2,419.8L430.7,419.8L431.2,419.8L431.7,419.8L432.2,419.8L432.7,419.8L433.2,419.8L433.7,419.8L434.2,419.8L434.7,419.8L435.2,419.8L435.7,419.8L436.2,419.8L436.7,419.8L437.2,419.8" fill="none" stroke="#3fbf80" stroke-width="1.0" stroke-linejoin="round" opacity="1.0"/>
<path d="M256.2,419.8L256.7,419.8L257.2,419.8L257.7,419.8L258.2,419.8L258.7,419.8L259.2,419.8L259.7,419.8L260.2,419.8L260.7,419.8L261.2,419.8L261.7,419.8L262.2,419.7L262.7,419.7L263.2,419.7L263.7,419.7L264.2,419.7L264.7,419.7L265.2,419.7L265.7,419.7L266.2,419.6L266.7,419.6L267.2,419.6L267.7,419.6L268.2,419.5L268.7,419.5L269.2,419.4L269.7,419.4L270.2,419.3L270.7,419.3L271.2,419.2L271.7,419.1L272.2,419.0L272.7,418.9L273.2,418.8L273.7,418.7L274.2,418.6L274.7,418.5L275.2,418.3L275.7,418.2L276.2,418.0L276.7,417.8L277.2,417.6L277.7,417.4L278.2,417.1L278.7,416.9L279.2,416.6L279.7,416.3L280.2,416.0L280.7,415.6L281.2,415.2L281.7,414.9L282.2,414.5L282.7,414.0L283.2,413.6L283.7,413.1L284.2,412.6L284.7,412.1L285.2,411.5L285.7,411.0L286.2,410.4L286.7,409.8L287.2,409.2L287.7,408.5L288.2,407.9L288.7,407.2L289.2,406.5L289.7,405.8L290.2,405.1L290.7,404.4L291.2,403.7L291.7,403.0L292.2,402.3L292.7,401.6L293.2,400.9L293.7,400.2L294.2,399.6L294.7,398.9L295.2,398.3L295.7,397.7L296.2,397.1L296.7,396.6L297.2,396.0L297.7,395.6L298.2,395.1L298.7,394.7L299.2,394.3L299.7,394.0L300.2,393.7L300.7,393.5L301.2,393.3L301.7,393.1L302.2,393.0L302.7,393.0L303.2,393.0L303.7,393.0L304.2,393.1L304.7,393.3L305.2,393.5L305.7,393.7L306.2,394.0L306.7,394.3L307.2,394.7L307.7,395.1L308.2,395.5L308.7,396.0L309.2,396.5L309.7,397.0L310.2,397.5L310.7,398.1L311.2,398.7L311.7,399.3L312.2,399.9L312.7,400.6L313.2,401.2L313.7,401.9L314.2,402.5L314.7,403.2L315.2,403.8L315.7,404.5L316.2,405.1L316.7,405.8L317.2,406.4L317.7,407.0L318.2,407.6L318.7,408.2L319.2,408.7L319.7,409.3L320.2,409.8L320.7,410.3L321.2,410.8L321.7,411.3L322.2,411.8L322.7,412.2L323.2,412.7L323.7,413.1L324.2,413.4L324.7,413.8L325.2,414.2L325.7,414.5L326.2,414.8L326.7,415.1L327.2,415.4L327.7,415.7L328.2,415.9L328.7,416.1L329.2,416.4L329.7,416.6L330.2,416.8L330.7,417.0L331.2,417.1L331.7,417.3L332.2,417.5L332.7,417.6L333.2,417.7L333.7,417.9L334.2,418.0L334.7,418.1L335.2,418.2L335.7,418.3L336.2,418.4L336.7,418.5L337.2,418.6L337.7,418.6L338.2,418.7L338.7,418.8L339.2,418.8L339.7,418.9L340.2,419.0L340.7,419.0L341.2,419.1L341.7,419.1L342.2,419.2L342.7,419.2L343.2,419.2L343.7,419.3L344.2,419.3L344.7,419.4L345.2,419.4L345.7,419.4L346.2,419.4L346.7,419.5L347.2,419.5L347.7,419.5L348.2,419.5L348.7,419.6L349.2,419.6L349.7,419.6L350.2,419.6L350.7,419.6L351.2,419.6L351.7,419.6L352.2,419.7L352.7,419.7L353.2,419.7L353.7,419.7L354.2,419.7L354.7,419.7L355.2,419.7L355.7,419.7L356.2,419.7L356.7,419.7L357.2,419.7L357.7,419.7L358.2,419.8L358.7,419.8L359.2,419.8L359.7,419.8L360.2,419.8L360.7,419.8L361.2,419.8L361.7,419.8L362.2,419.8L362.7,419.8L363.2,419.8L363.7,419.8L364.2,419.8L364.7,419.8L365.2,419.8L365.7,419.8L366.2,419.8L366.7,419.8L367.2,419.8L367.7,419.8L368.2,419.8L368.7,419.8L369.2,419.8L369.7,419.8L370.2,419.8L370.7,419.8L371.2,419.8L371.7,419.8L372.2,419.8L372.7,419.8L373.2,419.8L373.7,419.8L374.2,419.8L374.7,419.8L375.2,419.8L375.7,419.8L376.2,419.8L376.7,419.8L377.2,419.8L377.7,419.8L378.2,419.8L378.7,419.8L379.2,419.8L379.7,419.8L380.2,419.8L380.7,419.8L381.2,419.8L381.7,419.8L382.2,419.8L382.7,419.8L383.2,419.8L383.7,419.8L384.2,419.8L384.7,419.8L385.2,419.8L385.7,419.8L386.2,419.8L386.7,419.8L387.2,419.8L387.7,419.8L388.2,419.8L388.7,419.8L389.2,419.8L389.7,419.8L390.2,419.8L390.7,419.8L391.2,419.8L391.7,419.8L392.2,419.8L392.7,419.8L393.2,419.8L393.7,419.8L394.2,419.8L394.7,419.8L395.2,419.8L395.7,419.8L396.2,419.8L396.7,419.8L397.2,419.8L397.7,419.8L398.2,419.8L398.7,419.8L399.2,419.8L399.7,419.8L400.2,419.8L400.7,419.8L401.2,419.8L401.7,419.8L402.2,419.8L402.7,419.8L403.2,419.8L403.7,419.8L404.2,419.8L404.7,419.8L405.2,419.8L405.7,419.8L406.2,419.8L406.7,419.8L407.2,419.8L407.7,419.8L408.2,419.8L408.7,419.8L409.2,419.8L409.7,419.8L410.2,419.8L410.7,419.8L411.2,419.8L411.7,419.8L412.2,419.8L412.7,419.8L413.2,419.8L413.7,419.8L414.2,419.8L414.7,419.8L415.2,419.8L415.7,419.8L416.2,419.8L416.7,419.8L417.2,419.8L417.7,419.8L418.2,419.8L418.7,419.8L419.2,419.8L419.7,419.8L420.2,419.8L420.7,419.8L421.2,419.8L421.7,419.8L422.2,419.8L422.7,419.8L423.2,419.8L423.7,419.8L424.2,419.8L424.7,419.8L425.2,419.8L425.7,419.8L426.2,419.8L426.7,419.8L427.2,419.8L427.7,419.8L428.2,419.8L428.7,419.8L429.2,419.8L429.7,419.8L430.2,419.8L430.7,419.8L431.2,419.8L431.7,419.8L432.2,419.8L432.7,419.8L433.2,419.8L433.7,419.8L434.2,419.8L434.7,419.8L435.2,419.8L435.7,419.8L436.2,419.8L436.7,419.8L437.2,419.8" fill="none" stroke="#f26464" stroke-width="1.1" stroke-linejoin="round" opacity="1.0"/>
<path d="M256.2,465.5L256.7,465.5L257.2,465.5L257.7,465.5L258.2,465.5L258.7,465.5L259.2,465.5L259.7,465.5L260.2,465.5L260.7,465.5L261.2,465.5L261.7,465.5L262.2,465.5L262.7,465.5L263.2,465.5L263.7,465.5L264.2,465.5L264.7,465.5L265.2,465.5L265.7,465.5L266.2,465.5L266.7,465.5L267.2,465.5L267.7,465.5L268.2,465.5L268.7,465.5L269.2,465.5L269.7,465.5L270.2,465.5L270.7,465.5L271.2,465.5L271.7,465.5L272.2,465.5L272.7,465.5L273.2,465.5L273.7,465.5L274.2,465.5L274.7,465.5L275.2,465.5L275.7,465.5L276.2,465.5L276.7,465.5L277.2,465.5L277.7,465.5L278.2,465.5L278.7,465.5L279.2,465.5L279.7,465.5L280.2,465.5L280.7,465.5L281.2,465.5L281.7,465.5L282.2,465.5L282.7,465.5L283.2,465.5L283.7,465.5L284.2,465.5L284.7,465.5L285.2,465.5L285.7,465.5L286.2,465.5L286.7,465.5L287.2,465.5L287.7,465.5L288.2,465.5L288.7,465.5L289.2,465.5L289.7,465.5L290.2,465.5L290.7,465.5L291.2,465.5L291.7,465.5L292.2,465.5L292.7,465.5L293.2,465.5L293.7,465.5L294.2,465.5L294.7,465.5L295.2,465.5L295.7,465.5L296.2,465.5L296.7,465.5L297.2,465.5L297.7,465.5L298.2,465.5L298.7,465.5L299.2,465.5L299.7,465.5L300.2,465.5L300.7,465.5L301.2,465.5L301.7,465.5L302.2,465.5L302.7,465.5L303.2,465.5L303.7,465.5L304.2,465.5L304.7,465.5L305.2,465.5L305.7,465.5L306.2,465.5L306.7,465.5L307.2,465.5L307.7,465.5L308.2,465.5L308.7,465.5L309.2,465.5L309.7,465.5L310.2,465.5L310.7,465.5L311.2,465.5L311.7,465.5L312.2,465.5L312.7,465.5L313.2,465.5L313.7,465.5L314.2,465.5L314.7,465.5L315.2,465.5L315.7,465.5L316.2,465.5L316.7,465.5L317.2,465.5L317.7,465.5L318.2,465.5L318.7,465.5L319.2,465.5L319.7,465.5L320.2,465.5L320.7,465.5L321.2,465.5L321.7,465.5L322.2,465.5L322.7,465.5L323.2,465.5L323.7,465.5L324.2,465.5L324.7,465.5L325.2,465.5L325.7,465.5L326.2,465.5L326.7,465.5L327.2,465.5L327.7,465.5L328.2,465.5L328.7,465.5L329.2,465.5L329.7,465.5L330.2,465.5L330.7,465.5L331.2,465.5L331.7,465.5L332.2,465.5L332.7,465.5L333.2,465.5L333.7,465.5L334.2,465.5L334.7,465.5L335.2,465.5L335.7,465.5L336.2,465.5L336.7,465.5L337.2,465.5L337.7,465.5L338.2,465.5L338.7,465.5L339.2,465.5L339.7,465.5L340.2,465.5L340.7,465.5L341.2,465.5L341.7,465.5L342.2,465.5L342.7,465.5L343.2,465.5L343.7,465.5L344.2,465.5L344.7,465.5L345.2,465.5L345.7,465.5L346.2,465.5L346.7,465.5L347.2,465.5L347.7,465.5L348.2,465.5L348.7,465.5L349.2,465.5L349.7,465.5L350.2,465.5L350.7,465.5L351.2,465.5L351.7,465.5L352.2,465.5L352.7,465.5L353.2,465.5L353.7,465.5L354.2,465.5L354.7,465.5L355.2,465.5L355.7,465.5L356.2,465.5L356.7,465.5L357.2,465.5L357.7,465.5L358.2,465.5L358.7,465.5L359.2,465.5L359.7,465.5L360.2,465.5L360.7,465.5L361.2,465.5L361.7,465.5L362.2,465.5L362.7,465.5L363.2,465.5L363.7,465.5L364.2,465.5L364.7,465.5L365.2,465.5L365.7,465.4L366.2,465.4L366.7,465.4L367.2,465.4L367.7,465.4L368.2,465.4L368.7,465.3L369.2,465.3L369.7,465.3L370.2,465.2L370.7,465.2L371.2,465.2L371.7,465.1L372.2,465.0L372.7,465.0L373.2,464.9L373.7,464.8L374.2,464.7L374.7,464.6L375.2,464.5L375.7,464.4L376.2,464.3L376.7,464.1L377.2,464.0L377.7,463.8L378.2,463.7L378.7,463.5L379.2,463.3L379.7,463.2L380.2,463.0L380.7,462.8L381.2,462.6L381.7,462.5L382.2,462.3L382.7,462.2L383.2,462.0L383.7,461.9L384.2,461.7L384.7,461.6L385.2,461.5L385.7,461.4L386.2,461.3L386.7,461.3L387.2,461.2L387.7,461.2L388.2,461.2L388.7,461.2L389.2,461.3L389.7,461.3L390.2,461.4L390.7,461.5L391.2,461.6L391.7,461.7L392.2,461.8L392.7,462.0L393.2,462.1L393.7,462.3L394.2,462.4L394.7,462.6L395.2,462.8L395.7,463.0L396.2,463.1L396.7,463.3L397.2,463.5L397.7,463.6L398.2,463.8L398.7,463.9L399.2,464.1L399.7,464.2L400.2,464.4L400.7,464.5L401.2,464.6L401.7,464.7L402.2,464.8L402.7,464.9L403.2,464.9L403.7,465.0L404.2,465.1L404.7,465.1L405.2,465.2L405.7,465.2L406.2,465.3L406.7,465.3L407.2,465.3L407.7,465.4L408.2,465.4L408.7,465.4L409.2,465.4L409.7,465.4L410.2,465.4L410.7,465.5L411.2,465.5L411.7,465.5L412.2,465.5L412.7,465.5L413.2,465.5L413.7,465.5L414.2,465.5L414.7,465.5L415.2,465.5L415.7,465.5L416.2,465.5L416.7,465.5L417.2,465.5L417.7,465.5L418.2,465.5L418.7,465.5L419.2,465.5L419.7,465.5L420.2,465.5L420.7,465.5L421.2,465.5L421.7,465.5L422.2,465.5L422.7,465.5L423.2,465.5L423.7,465.5L424.2,465.5L424.7,465.5L425.2,465.5L425.7,465.5L426.2,465.5L426.7,465.5L427.2,465.5L427.7,465.5L428.2,465.5L428.7,465.5L429.2,465.5L429.7,465.5L430.2,465.5L430.7,465.5L431.2,465.5L431.7,465.5L432.2,465.5L432.7,465.5L433.2,465.5L433.7,465.5L434.2,465.5L434.7,465.5L435.2,465.5L435.7,465.5L436.2,465.5L436.7,465.5L437.2,465.5" fill="none" stroke="#d9a040" stroke-width="1.0" stroke-linejoin="round" opacity="1.0"/>
<path d="M256.2,465.5L256.7,465.5L257.2,465.5L257.7,465.5L258.2,465.5L258.7,465.5L259.2,465.5L259.7,465.5L260.2,465.5L260.7,465.5L261.2,465.5L261.7,465.5L262.2,465.5L262.7,465.5L263.2,465.5L263.7,465.5L264.2,465.5L264.7,465.5L265.2,465.5L265.7,465.5L266.2,465.5L266.7,465.5L267.2,465.5L267.7,465.5L268.2,465.5L268.7,465.5L269.2,465.5L269.7,465.5L270.2,465.5L270.7,465.5L271.2,465.5L271.7,465.5L272.2,465.5L272.7,465.5L273.2,465.5L273.7,465.5L274.2,465.4L274.7,465.4L275.2,465.4L275.7,465.4L276.2,465.4L276.7,465.4L277.2,465.3L277.7,465.3L278.2,465.3L278.7,465.3L279.2,465.2L279.7,465.2L280.2,465.1L280.7,465.1L281.2,465.0L281.7,464.9L282.2,464.8L282.7,464.7L283.2,464.6L283.7,464.5L284.2,464.4L284.7,464.2L285.2,464.0L285.7,463.9L286.2,463.7L286.7,463.4L287.2,463.2L287.7,462.9L288.2,462.6L288.7,462.3L289.2,462.0L289.7,461.6L290.2,461.3L290.7,460.8L291.2,460.4L291.7,459.9L292.2,459.4L292.7,458.9L293.2,458.4L293.7,457.8L294.2,457.2L294.7,456.6L295.2,456.0L295.7,455.3L296.2,454.6L296.7,453.9L297.2,453.2L297.7,452.5L298.2,451.8L298.7,451.1L299.2,450.3L299.7,449.6L300.2,448.9L300.7,448.2L301.2,447.5L301.7,446.8L302.2,446.2L302.7,445.6L303.2,445.0L303.7,444.4L304.2,443.9L304.7,443.5L305.2,443.0L305.7,442.7L306.2,442.3L306.7,442.0L307.2,441.8L307.7,441.6L308.2,441.5L308.7,441.4L309.2,441.4L309.7,441.5L310.2,441.6L310.7,441.7L311.2,441.9L311.7,442.2L312.2,442.5L312.7,442.8L313.2,443.2L313.7,443.6L314.2,444.0L314.7,444.5L315.2,445.0L315.7,445.6L316.2,446.1L316.7,446.7L317.2,447.3L317.7,447.9L318.2,448.5L318.7,449.1L319.2,449.7L319.7,450.3L320.2,450.9L320.7,451.5L321.2,452.0L321.7,452.6L322.2,453.2L322.7,453.7L323.2,454.2L323.7,454.7L324.2,455.2L324.7,455.6L325.2,456.1L325.7,456.5L326.2,456.9L326.7,457.2L327.2,457.6L327.7,457.9L328.2,458.2L328.7,458.5L329.2,458.7L329.7,458.9L330.2,459.1L330.7,459.3L331.2,459.5L331.7,459.7L332.2,459.8L332.7,459.9L333.2,460.1L333.7,460.2L334.2,460.3L334.7,460.3L335.2,460.4L335.7,460.5L336.2,460.6L336.7,460.6L337.2,460.7L337.7,460.8L338.2,460.8L338.7,460.9L339.2,461.0L339.7,461.1L340.2,461.1L340.7,461.2L341.2,461.3L341.7,461.4L342.2,461.5L342.7,461.6L343.2,461.7L343.7,461.9L344.2,462.0L344.7,462.1L345.2,462.2L345.7,462.4L346.2,462.5L346.7,462.6L347.2,462.8L347.7,462.9L348.2,463.0L348.7,463.2L349.2,463.3L349.7,463.4L350.2,463.6L350.7,463.7L351.2,463.8L351.7,463.9L352.2,464.1L352.7,464.2L353.2,464.3L353.7,464.4L354.2,464.5L354.7,464.6L355.2,464.6L355.7,464.7L356.2,464.8L356.7,464.9L357.2,464.9L357.7,465.0L358.2,465.0L358.7,465.1L359.2,465.1L359.7,465.2L360.2,465.2L360.7,465.3L361.2,465.3L361.7,465.3L362.2,465.3L362.7,465.3L363.2,465.4L363.7,465.4L364.2,465.4L364.7,465.4L365.2,465.4L365.7,465.4L366.2,465.4L366.7,465.4L367.2,465.4L367.7,465.4L368.2,465.3L368.7,465.3L369.2,465.3L369.7,465.3L370.2,465.2L370.7,465.2L371.2,465.1L371.7,465.1L372.2,465.0L372.7,465.0L373.2,464.9L373.7,464.8L374.2,464.7L374.7,464.6L375.2,464.5L375.7,464.4L376.2,464.3L376.7,464.1L377.2,464.0L377.7,463.8L378.2,463.7L378.7,463.5L379.2,463.3L379.7,463.2L380.2,463.0L380.7,462.8L381.2,462.6L381.7,462.5L382.2,462.3L382.7,462.2L383.2,462.0L383.7,461.9L384.2,461.7L384.7,461.6L385.2,461.5L385.7,461.4L386.2,461.3L386.7,461.3L387.2,461.2L387.7,461.2L388.2,461.2L388.7,461.2L389.2,461.3L389.7,461.3L390.2,461.4L390.7,461.5L391.2,461.6L391.7,461.7L392.2,461.8L392.7,462.0L393.2,462.1L393.7,462.3L394.2,462.4L394.7,462.6L395.2,462.8L395.7,463.0L396.2,463.1L396.7,463.3L397.2,463.5L397.7,463.6L398.2,463.8L398.7,463.9L399.2,464.1L399.7,464.2L400.2,464.4L400.7,464.5L401.2,464.6L401.7,464.7L402.2,464.8L402.7,464.9L403.2,464.9L403.7,465.0L404.2,465.1L404.7,465.1L405.2,465.2L405.7,465.2L406.2,465.3L406.7,465.3L407.2,465.3L407.7,465.4L408.2,465.4L408.7,465.4L409.2,465.4L409.7,465.4L410.2,465.4L410.7,465.5L411.2,465.5L411.7,465.5L412.2,465.5L412.7,465.5L413.2,465.5L413.7,465.5L414.2,465.5L414.7,465.5L415.2,465.5L415.7,465.5L416.2,465.5L416.7,465.5L417.2,465.5L417.7,465.5L418.2,465.5L418.7,465.5L419.2,465.5L419.7,465.5L420.2,465.5L420.7,465.5L421.2,465.5L421.7,465.5L422.2,465.5L422.7,465.5L423.2,465.5L423.7,465.5L424.2,465.5L424.7,465.5L425.2,465.5L425.7,465.5L426.2,465.5L426.7,465.5L427.2,465.5L427.7,465.5L428.2,465.5L428.7,465.5L429.2,465.5L429.7,465.5L430.2,465.5L430.7,465.5L431.2,465.5L431.7,465.5L432.2,465.5L432.7,465.5L433.2,465.5L433.7,465.5L434.2,465.5L434.7,465.5L435.2,465.5L435.7,465.5L436.2,465.5L436.7,465.5L437.2,465.5" fill="none" stroke="#f26464" stroke-width="1.1" stroke-linejoin="round" opacity="1.0"/>
<path d="M256.2,465.5L256.7,465.5L257.2,465.5L257.7,465.5L258.2,465.5L258.7,465.5L259.2,465.5L259.7,465.5L260.2,465.5L260.7,465.5L261.2,465.5L261.7,465.5L262.2,465.5L262.7,465.5L263.2,465.5L263.7,465.5L264.2,465.5L264.7,465.5L265.2,465.5L265.7,465.5L266.2,465.5L266.7,465.5L267.2,465.5L267.7,465.5L268.2,465.5L268.7,465.5L269.2,465.5L269.7,465.5L270.2,465.5L270.7,465.5L271.2,465.5L271.7,465.5L272.2,465.5L272.7,465.5L273.2,465.5L273.7,465.5L274.2,465.5L274.7,465.5L275.2,465.5L275.7,465.5L276.2,465.5L276.7,465.5L277.2,465.5L277.7,465.5L278.2,465.5L278.7,465.5L279.2,465.5L279.7,465.5L280.2,465.5L280.7,465.5L281.2,465.5L281.7,465.5L282.2,465.5L282.7,465.5L283.2,465.5L283.7,465.5L284.2,465.5L284.7,465.5L285.2,465.5L285.7,465.5L286.2,465.5L286.7,465.5L287.2,465.5L287.7,465.5L288.2,465.5L288.7,465.5L289.2,465.5L289.7,465.5L290.2,465.5L290.7,465.5L291.2,465.5L291.7,465.5L292.2,465.5L292.7,465.5L293.2,465.5L293.7,465.5L294.2,465.5L294.7,465.5L295.2,465.5L295.7,465.5L296.2,465.5L296.7,465.5L297.2,465.5L297.7,465.5L298.2,465.5L298.7,465.5L299.2,465.5L299.7,465.5L300.2,465.5L300.7,465.5L301.2,465.5L301.7,465.5L302.2,465.5L302.7,465.5L303.2,465.5L303.7,465.5L304.2,465.5L304.7,465.5L305.2,465.5L305.7,465.5L306.2,465.5L306.7,465.5L307.2,465.5L307.7,465.5L308.2,465.5L308.7,465.5L309.2,465.5L309.7,465.5L310.2,465.5L310.7,465.5L311.2,465.5L311.7,465.5L312.2,465.5L312.7,465.5L313.2,465.4L313.7,465.4L314.2,465.4L314.7,465.4L315.2,465.4L315.7,465.4L316.2,465.4L316.7,465.4L317.2,465.3L317.7,465.3L318.2,465.3L318.7,465.2L319.2,465.2L319.7,465.2L320.2,465.1L320.7,465.1L321.2,465.0L321.7,465.0L322.2,464.9L322.7,464.8L323.2,464.8L323.7,464.7L324.2,464.6L324.7,464.5L325.2,464.4L325.7,464.3L326.2,464.2L326.7,464.1L327.2,464.0L327.7,463.9L328.2,463.8L328.7,463.7L329.2,463.6L329.7,463.4L330.2,463.3L330.7,463.2L331.2,463.0L331.7,462.9L332.2,462.8L332.7,462.7L333.2,462.5L333.7,462.4L334.2,462.3L334.7,462.2L335.2,462.1L335.7,462.0L336.2,462.0L336.7,461.9L337.2,461.8L337.7,461.8L338.2,461.7L338.7,461.7L339.2,461.7L339.7,461.7L340.2,461.7L340.7,461.7L341.2,461.8L341.7,461.8L342.2,461.9L342.7,461.9L343.2,462.0L343.7,462.1L344.2,462.2L344.7,462.3L345.2,462.4L345.7,462.5L346.2,462.6L346.7,462.7L347.2,462.8L347.7,463.0L348.2,463.1L348.7,463.2L349.2,463.3L349.7,463.5L350.2,463.6L350.7,463.7L351.2,463.8L351.7,464.0L352.2,464.1L352.7,464.2L353.2,464.3L353.7,464.4L354.2,464.5L354.7,464.6L355.2,464.7L355.7,464.7L356.2,464.8L356.7,464.9L357.2,464.9L357.7,465.0L358.2,465.1L358.7,465.1L359.2,465.1L359.7,465.2L360.2,465.2L360.7,465.3L361.2,465.3L361.7,465.3L362.2,465.3L362.7,465.4L363.2,465.4L363.7,465.4L364.2,465.4L364.7,465.4L365.2,465.4L365.7,465.4L366.2,465.5L366.7,465.5L367.2,465.5L367.7,465.5L368.2,465.5L368.7,465.5L369.2,465.5L369.7,465.5L370.2,465.5L370.7,465.5L371.2,465.5L371.7,465.5L372.2,465.5L372.7,465.5L373.2,465.5L373.7,465.5L374.2,465.5L374.7,465.5L375.2,465.5L375.7,465.5L376.2,465.5L376.7,465.5L377.2,465.5L377.7,465.5L378.2,465.5L378.7,465.5L379.2,465.5L379.7,465.5L380.2,465.5L380.7,465.5L381.2,465.5L381.7,465.5L382.2,465.5L382.7,465.5L383.2,465.5L383.7,465.5L384.2,465.5L384.7,465.5L385.2,465.5L385.7,465.5L386.2,465.5L386.7,465.5L387.2,465.5L387.7,465.5L388.2,465.5L388.7,465.5L389.2,465.5L389.7,465.5L390.2,465.5L390.7,465.5L391.2,465.5L391.7,465.5L392.2,465.5L392.7,465.5L393.2,465.5L393.7,465.5L394.2,465.5L394.7,465.5L395.2,465.5L395.7,465.5L396.2,465.5L396.7,465.5L397.2,465.5L397.7,465.5L398.2,465.5L398.7,465.5L399.2,465.5L399.7,465.5L400.2,465.5L400.7,465.5L401.2,465.5L401.7,465.5L402.2,465.5L402.7,465.5L403.2,465.5L403.7,465.5L404.2,465.5L404.7,465.5L405.2,465.5L405.7,465.5L406.2,465.5L406.7,465.5L407.2,465.5L407.7,465.5L408.2,465.5L408.7,465.5L409.2,465.5L409.7,465.5L410.2,465.5L410.7,465.5L411.2,465.5L411.7,465.5L412.2,465.5L412.7,465.5L413.2,465.5L413.7,465.5L414.2,465.5L414.7,465.5L415.2,465.5L415.7,465.5L416.2,465.5L416.7,465.5L417.2,465.5L417.7,465.5L418.2,465.5L418.7,465.5L419.2,465.5L419.7,465.5L420.2,465.5L420.7,465.5L421.2,465.5L421.7,465.5L422.2,465.5L422.7,465.5L423.2,465.5L423.7,465.5L424.2,465.5L424.7,465.5L425.2,465.5L425.7,465.5L426.2,465.5L426.7,465.5L427.2,465.5L427.7,465.5L428.2,465.5L428.7,465.5L429.2,465.5L429.7,465.5L430.2,465.5L430.7,465.5L431.2,465.5L431.7,465.5L432.2,465.5L432.7,465.5L433.2,465.5L433.7,465.5L434.2,465.5L434.7,465.5L435.2,465.5L435.7,465.5L436.2,465.5L436.7,465.5L437.2,465.5" fill="none" stroke="#b77cf0" stroke-width="1.0" stroke-linejoin="round" opacity="1.0"/>
<path d="M256.2,465.2L256.9,465.6L257.6,465.4L258.3,465.7L259.0,465.7L259.7,465.7L260.4,465.7L261.1,465.3L261.8,465.6L262.5,465.5L263.2,465.4L263.9,465.3L264.6,465.5L265.3,465.5L266.0,465.4L266.7,465.8L267.4,465.3L268.1,465.7L268.8,465.3L269.5,465.6L270.2,465.5L270.9,465.4L271.6,465.5L272.3,465.3L273.0,465.3L273.7,465.4L274.4,465.3L275.1,465.6L275.8,465.5L276.5,465.5L277.2,465.5L277.9,465.1L278.6,465.0L279.3,465.0L280.0,465.4L280.7,465.0L281.4,465.2L282.1,464.7L282.8,464.6L283.5,464.6L284.2,464.6L284.9,464.1L285.6,463.9L286.3,463.5L287.0,463.1L287.7,463.2L288.4,462.8L289.1,462.0L289.8,461.4L290.5,461.2L291.2,460.4L291.9,459.9L292.6,459.0L293.3,458.0L294.0,457.6L294.7,456.4L295.4,456.0L296.1,454.6L296.8,453.8L297.5,452.6L298.2,451.7L298.9,451.0L299.6,449.7L300.3,448.7L301.0,447.8L301.7,446.8L302.4,446.3L303.1,445.3L303.8,444.9L304.5,444.3L305.2,443.6L305.9,443.5L306.6,443.2L307.3,442.6L308.0,442.8L308.7,442.7L309.4,442.6L310.1,443.2L310.8,443.1L311.5,443.9L312.2,444.6L312.9,445.1L313.6,445.9L314.3,446.7L315.0,447.4L315.7,448.1L316.4,449.2L317.1,450.1L317.8,451.3L318.5,452.3L319.2,453.3L319.9,453.8L320.6,455.0L321.3,455.9L322.0,456.2L322.7,457.2L323.4,457.6L324.1,458.2L324.8,459.0L325.5,459.7L326.2,459.8L326.9,460.3L327.6,460.7L328.3,461.0L329.0,461.0L329.7,461.2L330.4,461.2L331.1,461.5L331.8,461.9L332.5,461.5L333.2,461.8L333.9,461.7L334.6,461.9L335.3,461.8L336.0,461.3L336.7,461.5L337.4,461.7L338.1,461.6L338.8,461.8L339.5,461.3L340.2,461.8L340.9,461.6L341.6,461.9L342.3,461.9L343.0,461.8L343.7,462.1L344.4,461.9L345.1,462.6L345.8,462.7L346.5,462.7L347.2,462.9L347.9,463.2L348.6,463.2L349.3,463.2L350.0,463.6L350.7,464.0L351.4,464.1L352.1,464.2L352.8,464.0L353.5,464.2L354.2,464.3L354.9,464.6L355.6,465.0L356.3,464.9L357.0,465.0L357.7,465.0L358.4,464.9L359.1,465.0L359.8,465.5L360.5,465.5L361.2,465.4L361.9,465.4L362.6,465.2L363.3,465.1L364.0,465.1L364.7,465.1L365.4,465.2L366.1,465.7L366.8,465.4L367.5,465.2L368.2,465.1L368.9,465.0L369.6,465.0L370.3,465.0L371.0,465.1L371.7,464.9L372.4,464.8L373.1,465.0L373.8,464.6L374.5,464.4L375.2,464.7L375.9,464.2L376.6,464.2L377.3,463.8L378.0,463.8L378.7,463.2L379.4,463.1L380.1,463.2L380.8,462.7L381.5,462.6L382.2,462.1L382.9,461.9L383.6,461.8L384.3,461.7L385.0,461.3L385.7,461.4L386.4,461.3L387.1,461.1L387.8,461.4L388.5,461.4L389.2,461.2L389.9,461.2L390.6,461.6L391.3,461.8L392.0,461.8L392.7,462.0L393.4,462.1L394.1,462.5L394.8,462.7L395.5,463.1L396.2,463.0L396.9,463.1L397.6,463.8L398.3,463.9L399.0,464.2L399.7,464.4L400.4,464.6L401.1,464.5L401.8,464.9L402.5,464.9L403.2,464.9L403.9,464.8L404.6,464.9L405.3,465.0L406.0,465.2L406.7,465.2L407.4,465.4L408.1,465.7L408.8,465.4L409.5,465.5L410.2,465.2L410.9,465.6L411.6,465.5L412.3,465.6L413.0,465.4L413.7,465.6L414.4,465.5L415.1,465.7L415.8,465.5L416.5,465.7L417.2,465.7L417.9,465.5L418.6,465.5L419.3,465.6L420.0,465.5L420.7,465.8L421.4,465.8L422.1,465.5L422.8,465.6L423.5,465.3L424.2,465.7L424.9,465.6L425.6,465.2L426.3,465.2L427.0,465.7L427.7,465.7L428.4,465.6L429.1,465.4L429.8,465.3L430.5,465.5L431.2,465.7L431.9,465.6L432.6,465.2L433.3,465.3L434.0,465.3L434.7,465.7L435.4,465.7L436.1,465.8L436.8,465.5L437.5,465.4" fill="none" stroke="#555" stroke-width="0.7" stroke-linejoin="round" opacity="0.8"/>
<path d="M256.2,465.5L256.7,465.5L257.2,465.5L257.7,465.5L258.2,465.5L258.7,465.5L259.2,465.5L259.7,465.5L260.2,465.5L260.7,465.5L261.2,465.5L261.7,465.5L262.2,465.5L262.7,465.5L263.2,465.5L263.7,465.5L264.2,465.5L264.7,465.5L265.2,465.5L265.7,465.5L266.2,465.5L266.7,465.5L267.2,465.5L267.7,465.5L268.2,465.5L268.7,465.5L269.2,465.5L269.7,465.5L270.2,465.5L270.7,465.5L271.2,465.5L271.7,465.5L272.2,465.5L272.7,465.5L273.2,465.5L273.7,465.5L274.2,465.4L274.7,465.4L275.2,465.4L275.7,465.4L276.2,465.4L276.7,465.4L277.2,465.3L277.7,465.3L278.2,465.3L278.7,465.3L279.2,465.2L279.7,465.2L280.2,465.1L280.7,465.1L281.2,465.0L281.7,464.9L282.2,464.8L282.7,464.7L283.2,464.6L283.7,464.5L284.2,464.4L284.7,464.2L285.2,464.0L285.7,463.9L286.2,463.7L286.7,463.4L287.2,463.2L287.7,462.9L288.2,462.6L288.7,462.3L289.2,462.0L289.7,461.6L290.2,461.3L290.7,460.9L291.2,460.4L291.7,460.0L292.2,459.5L292.7,458.9L293.2,458.4L293.7,457.8L294.2,457.2L294.7,456.6L295.2,456.0L295.7,455.3L296.2,454.7L296.7,454.0L297.2,453.3L297.7,452.6L298.2,451.9L298.7,451.2L299.2,450.5L299.7,449.8L300.2,449.1L300.7,448.4L301.2,447.8L301.7,447.1L302.2,446.5L302.7,445.9L303.2,445.4L303.7,444.9L304.2,444.4L304.7,444.0L305.2,443.6L305.7,443.3L306.2,443.1L306.7,442.9L307.2,442.7L307.7,442.6L308.2,442.6L308.7,442.6L309.2,442.7L309.7,442.9L310.2,443.1L310.7,443.3L311.2,443.6L311.7,444.0L312.2,444.4L312.7,444.9L313.2,445.4L313.7,445.9L314.2,446.5L314.7,447.1L315.2,447.8L315.7,448.4L316.2,449.1L316.7,449.8L317.2,450.5L317.7,451.2L318.2,451.9L318.7,452.6L319.2,453.3L319.7,454.0L320.2,454.7L320.7,455.3L321.2,456.0L321.7,456.6L322.2,457.2L322.7,457.8L323.2,458.4L323.7,458.9L324.2,459.5L324.7,460.0L325.2,460.4L325.7,460.9L326.2,461.3L326.7,461.6L327.2,462.0L327.7,462.3L328.2,462.6L328.7,462.9L329.2,463.2L329.7,463.4L330.2,463.7L330.7,463.9L331.2,464.0L331.7,464.2L332.2,464.4L332.7,464.5L333.2,464.6L333.7,464.7L334.2,464.8L334.7,464.9L335.2,465.0L335.7,465.1L336.2,465.1L336.7,465.2L337.2,465.2L337.7,465.3L338.2,465.3L338.7,465.3L339.2,465.3L339.7,465.4L340.2,465.4L340.7,465.4L341.2,465.4L341.7,465.4L342.2,465.4L342.7,465.5L343.2,465.5L343.7,465.5L344.2,465.5L344.7,465.5L345.2,465.5L345.7,465.5L346.2,465.5L346.7,465.5L347.2,465.5L347.7,465.5L348.2,465.5L348.7,465.5L349.2,465.5L349.7,465.5L350.2,465.5L350.7,465.5L351.2,465.5L351.7,465.5L352.2,465.5L352.7,465.5L353.2,465.5L353.7,465.5L354.2,465.5L354.7,465.5L355.2,465.5L355.7,465.5L356.2,465.5L356.7,465.5L357.2,465.5L357.7,465.5L358.2,465.5L358.7,465.5L359.2,465.5L359.7,465.5L360.2,465.5L360.7,465.5L361.2,465.5L361.7,465.5L362.2,465.5L362.7,465.5L363.2,465.5L363.7,465.5L364.2,465.5L364.7,465.5L365.2,465.5L365.7,465.5L366.2,465.5L366.7,465.5L367.2,465.5L367.7,465.5L368.2,465.5L368.7,465.5L369.2,465.5L369.7,465.5L370.2,465.5L370.7,465.5L371.2,465.5L371.7,465.5L372.2,465.5L372.7,465.5L373.2,465.5L373.7,465.5L374.2,465.5L374.7,465.5L375.2,465.5L375.7,465.5L376.2,465.5L376.7,465.5L377.2,465.5L377.7,465.5L378.2,465.5L378.7,465.5L379.2,465.5L379.7,465.5L380.2,465.5L380.7,465.5L381.2,465.5L381.7,465.5L382.2,465.5L382.7,465.5L383.2,465.5L383.7,465.5L384.2,465.5L384.7,465.5L385.2,465.5L385.7,465.5L386.2,465.5L386.7,465.5L387.2,465.5L387.7,465.5L388.2,465.5L388.7,465.5L389.2,465.5L389.7,465.5L390.2,465.5L390.7,465.5L391.2,465.5L391.7,465.5L392.2,465.5L392.7,465.5L393.2,465.5L393.7,465.5L394.2,465.5L394.7,465.5L395.2,465.5L395.7,465.5L396.2,465.5L396.7,465.5L397.2,465.5L397.7,465.5L398.2,465.5L398.7,465.5L399.2,465.5L399.7,465.5L400.2,465.5L400.7,465.5L401.2,465.5L401.7,465.5L402.2,465.5L402.7,465.5L403.2,465.5L403.7,465.5L404.2,465.5L404.7,465.5L405.2,465.5L405.7,465.5L406.2,465.5L406.7,465.5L407.2,465.5L407.7,465.5L408.2,465.5L408.7,465.5L409.2,465.5L409.7,465.5L410.2,465.5L410.7,465.5L411.2,465.5L411.7,465.5L412.2,465.5L412.7,465.5L413.2,465.5L413.7,465.5L414.2,465.5L414.7,465.5L415.2,465.5L415.7,465.5L416.2,465.5L416.7,465.5L417.2,465.5L417.7,465.5L418.2,465.5L418.7,465.5L419.2,465.5L419.7,465.5L420.2,465.5L420.7,465.5L421.2,465.5L421.7,465.5L422.2,465.5L422.7,465.5L423.2,465.5L423.7,465.5L424.2,465.5L424.7,465.5L425.2,465.5L425.7,465.5L426.2,465.5L426.7,465.5L427.2,465.5L427.7,465.5L428.2,465.5L428.7,465.5L429.2,465.5L429.7,465.5L430.2,465.5L430.7,465.5L431.2,465.5L431.7,465.5L432.2,465.5L432.7,465.5L433.2,465.5L433.7,465.5L434.2,465.5L434.7,465.5L435.2,465.5L435.7,465.5L436.2,465.5L436.7,465.5L437.2,465.5" fill="none" stroke="#3fbf80" stroke-width="1.0" stroke-linejoin="round" opacity="1.0"/>
<path d="M256.2,508.2L256.7,508.2L257.2,508.2L257.7,508.2L258.2,508.2L258.7,508.2L259.2,508.2L259.7,508.2L260.2,508.2L260.7,508.2L261.2,508.2L261.7,508.2L262.2,508.2L262.7,508.2L263.2,508.2L263.7,508.2L264.2,508.2L264.7,508.2L265.2,508.2L265.7,508.2L266.2,508.2L266.7,508.2L267.2,508.2L267.7,508.2L268.2,508.2L268.7,508.2L269.2,508.2L269.7,508.2L270.2,508.2L270.7,508.2L271.2,508.2L271.7,508.2L272.2,508.2L272.7,508.2L273.2,508.2L273.7,508.2L274.2,508.2L274.7,508.2L275.2,508.2L275.7,508.2L276.2,508.2L276.7,508.2L277.2,508.2L277.7,508.2L278.2,508.2L278.7,508.2L279.2,508.2L279.7,508.2L280.2,508.2L280.7,508.2L281.2,508.2L281.7,508.2L282.2,508.2L282.7,508.2L283.2,508.2L283.7,508.2L284.2,508.2L284.7,508.2L285.2,508.2L285.7,508.2L286.2,508.2L286.7,508.2L287.2,508.2L287.7,508.2L288.2,508.2L288.7,508.2L289.2,508.2L289.7,508.2L290.2,508.2L290.7,508.2L291.2,508.2L291.7,508.2L292.2,508.2L292.7,508.2L293.2,508.2L293.7,508.2L294.2,508.2L294.7,508.2L295.2,508.2L295.7,508.2L296.2,508.2L296.7,508.2L297.2,508.2L297.7,508.2L298.2,508.2L298.7,508.2L299.2,508.2L299.7,508.2L300.2,508.2L300.7,508.2L301.2,508.2L301.7,508.2L302.2,508.2L302.7,508.2L303.2,508.2L303.7,508.2L304.2,508.2L304.7,508.2L305.2,508.2L305.7,508.2L306.2,508.2L306.7,508.2L307.2,508.2L307.7,508.2L308.2,508.2L308.7,508.2L309.2,508.2L309.7,508.2L310.2,508.2L310.7,508.2L311.2,508.2L311.7,508.2L312.2,508.2L312.7,508.2L313.2,508.2L313.7,508.2L314.2,508.2L314.7,508.2L315.2,508.2L315.7,508.2L316.2,508.2L316.7,508.2L317.2,508.2L317.7,508.2L318.2,508.2L318.7,508.2L319.2,508.2L319.7,508.2L320.2,508.2L320.7,508.2L321.2,508.2L321.7,508.2L322.2,508.2L322.7,508.2L323.2,508.2L323.7,508.2L324.2,508.2L324.7,508.2L325.2,508.2L325.7,508.2L326.2,508.2L326.7,508.2L327.2,508.2L327.7,508.2L328.2,508.2L328.7,508.2L329.2,508.2L329.7,508.2L330.2,508.2L330.7,508.2L331.2,508.2L331.7,508.2L332.2,508.2L332.7,508.2L333.2,508.2L333.7,508.2L334.2,508.2L334.7,508.2L335.2,508.2L335.7,508.2L336.2,508.2L336.7,508.2L337.2,508.2L337.7,508.2L338.2,508.2L338.7,508.2L339.2,508.2L339.7,508.2L340.2,508.2L340.7,508.2L341.2,508.2L341.7,508.2L342.2,508.2L342.7,508.2L343.2,508.2L343.7,508.2L344.2,508.2L344.7,508.2L345.2,508.2L345.7,508.2L346.2,508.2L346.7,508.2L347.2,508.2L347.7,508.2L348.2,508.2L348.7,508.2L349.2,508.2L349.7,508.2L350.2,508.2L350.7,508.2L351.2,508.2L351.7,508.2L352.2,508.2L352.7,508.2L353.2,508.2L353.7,508.2L354.2,508.2L354.7,508.2L355.2,508.2L355.7,508.2L356.2,508.2L356.7,508.2L357.2,508.2L357.7,508.2L358.2,508.2L358.7,508.2L359.2,508.2L359.7,508.2L360.2,508.2L360.7,508.2L361.2,508.2L361.7,508.2L362.2,508.2L362.7,508.2L363.2,508.2L363.7,508.2L364.2,508.2L364.7,508.2L365.2,508.2L365.7,508.1L366.2,508.1L366.7,508.1L367.2,508.1L367.7,508.1L368.2,508.0L368.7,508.0L369.2,508.0L369.7,507.9L370.2,507.9L370.7,507.9L371.2,507.8L371.7,507.7L372.2,507.7L372.7,507.6L373.2,507.5L373.7,507.4L374.2,507.3L374.7,507.2L375.2,507.0L375.7,506.9L376.2,506.7L376.7,506.6L377.2,506.4L377.7,506.3L378.2,506.1L378.7,505.9L379.2,505.7L379.7,505.5L380.2,505.3L380.7,505.1L381.2,504.9L381.7,504.7L382.2,504.5L382.7,504.3L383.2,504.1L383.7,504.0L384.2,503.8L384.7,503.7L385.2,503.5L385.7,503.4L386.2,503.3L386.7,503.3L387.2,503.2L387.7,503.2L388.2,503.2L388.7,503.2L389.2,503.3L389.7,503.3L390.2,503.4L390.7,503.5L391.2,503.6L391.7,503.8L392.2,503.9L392.7,504.1L393.2,504.3L393.7,504.5L394.2,504.6L394.7,504.8L395.2,505.0L395.7,505.2L396.2,505.4L396.7,505.6L397.2,505.8L397.7,506.0L398.2,506.2L398.7,506.4L399.2,506.6L399.7,506.7L400.2,506.9L400.7,507.0L401.2,507.1L401.7,507.3L402.2,507.4L402.7,507.5L403.2,507.6L403.7,507.6L404.2,507.7L404.7,507.8L405.2,507.8L405.7,507.9L406.2,507.9L406.7,508.0L407.2,508.0L407.7,508.0L408.2,508.1L408.7,508.1L409.2,508.1L409.7,508.1L410.2,508.1L410.7,508.1L411.2,508.2L411.7,508.2L412.2,508.2L412.7,508.2L413.2,508.2L413.7,508.2L414.2,508.2L414.7,508.2L415.2,508.2L415.7,508.2L416.2,508.2L416.7,508.2L417.2,508.2L417.7,508.2L418.2,508.2L418.7,508.2L419.2,508.2L419.7,508.2L420.2,508.2L420.7,508.2L421.2,508.2L421.7,508.2L422.2,508.2L422.7,508.2L423.2,508.2L423.7,508.2L424.2,508.2L424.7,508.2L425.2,508.2L425.7,508.2L426.2,508.2L426.7,508.2L427.2,508.2L427.7,508.2L428.2,508.2L428.7,508.2L429.2,508.2L429.7,508.2L430.2,508.2L430.7,508.2L431.2,508.2L431.7,508.2L432.2,508.2L432.7,508.2L433.2,508.2L433.7,508.2L434.2,508.2L434.7,508.2L435.2,508.2L435.7,508.2L436.2,508.2L436.7,508.2L437.2,508.2" fill="none" stroke="#d9a040" stroke-width="1.0" stroke-linejoin="round" opacity="1.0"/>
<path d="M256.2,508.2L256.7,508.2L257.2,508.2L257.7,508.2L258.2,508.2L258.7,508.2L259.2,508.2L259.7,508.2L260.2,508.2L260.7,508.2L261.2,508.2L261.7,508.2L262.2,508.2L262.7,508.2L263.2,508.2L263.7,508.2L264.2,508.2L264.7,508.2L265.2,508.2L265.7,508.2L266.2,508.2L266.7,508.2L267.2,508.2L267.7,508.2L268.2,508.2L268.7,508.2L269.2,508.2L269.7,508.2L270.2,508.2L270.7,508.2L271.2,508.2L271.7,508.2L272.2,508.2L272.7,508.2L273.2,508.2L273.7,508.2L274.2,508.2L274.7,508.2L275.2,508.2L275.7,508.2L276.2,508.2L276.7,508.2L277.2,508.2L277.7,508.2L278.2,508.2L278.7,508.2L279.2,508.2L279.7,508.2L280.2,508.2L280.7,508.2L281.2,508.2L281.7,508.2L282.2,508.2L282.7,508.2L283.2,508.2L283.7,508.2L284.2,508.2L284.7,508.2L285.2,508.2L285.7,508.2L286.2,508.2L286.7,508.2L287.2,508.2L287.7,508.2L288.2,508.2L288.7,508.2L289.2,508.2L289.7,508.2L290.2,508.2L290.7,508.2L291.2,508.2L291.7,508.2L292.2,508.2L292.7,508.2L293.2,508.2L293.7,508.2L294.2,508.2L294.7,508.2L295.2,508.2L295.7,508.2L296.2,508.2L296.7,508.2L297.2,508.2L297.7,508.2L298.2,508.2L298.7,508.2L299.2,508.2L299.7,508.2L300.2,508.2L300.7,508.2L301.2,508.2L301.7,508.2L302.2,508.2L302.7,508.2L303.2,508.1L303.7,508.1L304.2,508.1L304.7,508.1L305.2,508.1L305.7,508.1L306.2,508.1L306.7,508.1L307.2,508.0L307.7,508.0L308.2,508.0L308.7,508.0L309.2,507.9L309.7,507.9L310.2,507.9L310.7,507.8L311.2,507.8L311.7,507.7L312.2,507.7L312.7,507.6L313.2,507.5L313.7,507.5L314.2,507.4L314.7,507.3L315.2,507.2L315.7,507.1L316.2,507.0L316.7,506.9L317.2,506.8L317.7,506.7L318.2,506.6L318.7,506.4L319.2,506.3L319.7,506.2L320.2,506.0L320.7,505.9L321.2,505.7L321.7,505.6L322.2,505.4L322.7,505.3L323.2,505.1L323.7,504.9L324.2,504.8L324.7,504.6L325.2,504.4L325.7,504.3L326.2,504.1L326.7,504.0L327.2,503.8L327.7,503.7L328.2,503.6L328.7,503.4L329.2,503.3L329.7,503.2L330.2,503.1L330.7,503.0L331.2,503.0L331.7,502.9L332.2,502.9L332.7,502.8L333.2,502.8L333.7,502.8L334.2,502.8L334.7,502.8L335.2,502.9L335.7,502.9L336.2,503.0L336.7,503.0L337.2,503.1L337.7,503.2L338.2,503.3L338.7,503.4L339.2,503.6L339.7,503.7L340.2,503.8L340.7,504.0L341.2,504.1L341.7,504.3L342.2,504.4L342.7,504.6L343.2,504.8L343.7,504.9L344.2,505.1L344.7,505.3L345.2,505.4L345.7,505.6L346.2,505.7L346.7,505.9L347.2,506.0L347.7,506.2L348.2,506.3L348.7,506.4L349.2,506.6L349.7,506.7L350.2,506.8L350.7,506.9L351.2,507.0L351.7,507.1L352.2,507.2L352.7,507.3L353.2,507.4L353.7,507.5L354.2,507.5L354.7,507.6L355.2,507.7L355.7,507.7L356.2,507.8L356.7,507.8L357.2,507.9L357.7,507.9L358.2,507.9L358.7,508.0L359.2,508.0L359.7,508.0L360.2,508.0L360.7,508.1L361.2,508.1L361.7,508.1L362.2,508.1L362.7,508.1L363.2,508.1L363.7,508.1L364.2,508.1L364.7,508.2L365.2,508.2L365.7,508.2L366.2,508.2L366.7,508.2L367.2,508.2L367.7,508.2L368.2,508.2L368.7,508.2L369.2,508.2L369.7,508.2L370.2,508.2L370.7,508.2L371.2,508.2L371.7,508.2L372.2,508.2L372.7,508.2L373.2,508.2L373.7,508.2L374.2,508.2L374.7,508.2L375.2,508.2L375.7,508.2L376.2,508.2L376.7,508.2L377.2,508.2L377.7,508.2L378.2,508.2L378.7,508.2L379.2,508.2L379.7,508.2L380.2,508.2L380.7,508.2L381.2,508.2L381.7,508.2L382.2,508.2L382.7,508.2L383.2,508.2L383.7,508.2L384.2,508.2L384.7,508.2L385.2,508.2L385.7,508.2L386.2,508.2L386.7,508.2L387.2,508.2L387.7,508.2L388.2,508.2L388.7,508.2L389.2,508.2L389.7,508.2L390.2,508.2L390.7,508.2L391.2,508.2L391.7,508.2L392.2,508.2L392.7,508.2L393.2,508.2L393.7,508.2L394.2,508.2L394.7,508.2L395.2,508.2L395.7,508.2L396.2,508.2L396.7,508.2L397.2,508.2L397.7,508.2L398.2,508.2L398.7,508.2L399.2,508.2L399.7,508.2L400.2,508.2L400.7,508.2L401.2,508.2L401.7,508.2L402.2,508.2L402.7,508.2L403.2,508.2L403.7,508.2L404.2,508.2L404.7,508.2L405.2,508.2L405.7,508.2L406.2,508.2L406.7,508.2L407.2,508.2L407.7,508.2L408.2,508.2L408.7,508.2L409.2,508.2L409.7,508.2L410.2,508.2L410.7,508.2L411.2,508.2L411.7,508.2L412.2,508.2L412.7,508.2L413.2,508.2L413.7,508.2L414.2,508.2L414.7,508.2L415.2,508.2L415.7,508.2L416.2,508.2L416.7,508.2L417.2,508.2L417.7,508.2L418.2,508.2L418.7,508.2L419.2,508.2L419.7,508.2L420.2,508.2L420.7,508.2L421.2,508.2L421.7,508.2L422.2,508.2L422.7,508.2L423.2,508.2L423.7,508.2L424.2,508.2L424.7,508.2L425.2,508.2L425.7,508.2L426.2,508.2L426.7,508.2L427.2,508.2L427.7,508.2L428.2,508.2L428.7,508.2L429.2,508.2L429.7,508.2L430.2,508.2L430.7,508.2L431.2,508.2L431.7,508.2L432.2,508.2L432.7,508.2L433.2,508.2L433.7,508.2L434.2,508.2L434.7,508.2L435.2,508.2L435.7,508.2L436.2,508.2L436.7,508.2L437.2,508.2" fill="none" stroke="#b77cf0" stroke-width="1.0" stroke-linejoin="round" opacity="1.0"/>
<path d="M256.2,508.2L256.7,508.2L257.2,508.2L257.7,508.2L258.2,508.2L258.7,508.2L259.2,508.2L259.7,508.2L260.2,508.2L260.7,508.2L261.2,508.2L261.7,508.2L262.2,508.2L262.7,508.2L263.2,508.2L263.7,508.2L264.2,508.2L264.7,508.2L265.2,508.2L265.7,508.2L266.2,508.2L266.7,508.2L267.2,508.2L267.7,508.2L268.2,508.2L268.7,508.2L269.2,508.2L269.7,508.2L270.2,508.2L270.7,508.2L271.2,508.2L271.7,508.2L272.2,508.2L272.7,508.2L273.2,508.2L273.7,508.2L274.2,508.2L274.7,508.2L275.2,508.2L275.7,508.2L276.2,508.2L276.7,508.2L277.2,508.2L277.7,508.2L278.2,508.1L278.7,508.1L279.2,508.1L279.7,508.1L280.2,508.1L280.7,508.1L281.2,508.1L281.7,508.0L282.2,508.0L282.7,508.0L283.2,507.9L283.7,507.9L284.2,507.8L284.7,507.7L285.2,507.7L285.7,507.6L286.2,507.5L286.7,507.4L287.2,507.3L287.7,507.2L288.2,507.0L288.7,506.8L289.2,506.7L289.7,506.5L290.2,506.3L290.7,506.0L291.2,505.8L291.7,505.5L292.2,505.2L292.7,504.8L293.2,504.5L293.7,504.1L294.2,503.7L294.7,503.2L295.2,502.8L295.7,502.3L296.2,501.8L296.7,501.2L297.2,500.7L297.7,500.1L298.2,499.5L298.7,498.9L299.2,498.2L299.7,497.6L300.2,496.9L300.7,496.2L301.2,495.6L301.7,494.9L302.2,494.2L302.7,493.6L303.2,492.9L303.7,492.3L304.2,491.7L304.7,491.1L305.2,490.6L305.7,490.1L306.2,489.6L306.7,489.2L307.2,488.8L307.7,488.5L308.2,488.2L308.7,487.9L309.2,487.8L309.7,487.7L310.2,487.6L310.7,487.6L311.2,487.7L311.7,487.8L312.2,488.0L312.7,488.2L313.2,488.5L313.7,488.9L314.2,489.2L314.7,489.7L315.2,490.2L315.7,490.7L316.2,491.2L316.7,491.8L317.2,492.4L317.7,493.1L318.2,493.7L318.7,494.4L319.2,495.0L319.7,495.7L320.2,496.4L320.7,497.0L321.2,497.7L321.7,498.4L322.2,499.0L322.7,499.6L323.2,500.2L323.7,500.8L324.2,501.3L324.7,501.9L325.2,502.4L325.7,502.9L326.2,503.3L326.7,503.8L327.2,504.2L327.7,504.5L328.2,504.9L328.7,505.2L329.2,505.5L329.7,505.8L330.2,506.1L330.7,506.3L331.2,506.5L331.7,506.7L332.2,506.9L332.7,507.0L333.2,507.2L333.7,507.3L334.2,507.4L334.7,507.5L335.2,507.6L335.7,507.7L336.2,507.8L336.7,507.8L337.2,507.9L337.7,507.9L338.2,508.0L338.7,508.0L339.2,508.0L339.7,508.1L340.2,508.1L340.7,508.1L341.2,508.1L341.7,508.1L342.2,508.1L342.7,508.2L343.2,508.2L343.7,508.2L344.2,508.2L344.7,508.2L345.2,508.2L345.7,508.2L346.2,508.2L346.7,508.2L347.2,508.2L347.7,508.2L348.2,508.2L348.7,508.2L349.2,508.2L349.7,508.2L350.2,508.2L350.7,508.2L351.2,508.2L351.7,508.2L352.2,508.2L352.7,508.2L353.2,508.2L353.7,508.2L354.2,508.2L354.7,508.2L355.2,508.2L355.7,508.2L356.2,508.2L356.7,508.2L357.2,508.2L357.7,508.2L358.2,508.2L358.7,508.2L359.2,508.2L359.7,508.2L360.2,508.2L360.7,508.2L361.2,508.2L361.7,508.2L362.2,508.2L362.7,508.2L363.2,508.2L363.7,508.2L364.2,508.2L364.7,508.2L365.2,508.2L365.7,508.2L366.2,508.2L366.7,508.2L367.2,508.2L367.7,508.2L368.2,508.2L368.7,508.2L369.2,508.2L369.7,508.2L370.2,508.2L370.7,508.2L371.2,508.2L371.7,508.2L372.2,508.2L372.7,508.2L373.2,508.2L373.7,508.2L374.2,508.2L374.7,508.2L375.2,508.2L375.7,508.2L376.2,508.2L376.7,508.2L377.2,508.2L377.7,508.2L378.2,508.2L378.7,508.2L379.2,508.2L379.7,508.2L380.2,508.2L380.7,508.2L381.2,508.2L381.7,508.2L382.2,508.2L382.7,508.2L383.2,508.2L383.7,508.2L384.2,508.2L384.7,508.2L385.2,508.2L385.7,508.2L386.2,508.2L386.7,508.2L387.2,508.2L387.7,508.2L388.2,508.2L388.7,508.2L389.2,508.2L389.7,508.2L390.2,508.2L390.7,508.2L391.2,508.2L391.7,508.2L392.2,508.2L392.7,508.2L393.2,508.2L393.7,508.2L394.2,508.2L394.7,508.2L395.2,508.2L395.7,508.2L396.2,508.2L396.7,508.2L397.2,508.2L397.7,508.2L398.2,508.2L398.7,508.2L399.2,508.2L399.7,508.2L400.2,508.2L400.7,508.2L401.2,508.2L401.7,508.2L402.2,508.2L402.7,508.2L403.2,508.2L403.7,508.2L404.2,508.2L404.7,508.2L405.2,508.2L405.7,508.2L406.2,508.2L406.7,508.2L407.2,508.2L407.7,508.2L408.2,508.2L408.7,508.2L409.2,508.2L409.7,508.2L410.2,508.2L410.7,508.2L411.2,508.2L411.7,508.2L412.2,508.2L412.7,508.2L413.2,508.2L413.7,508.2L414.2,508.2L414.7,508.2L415.2,508.2L415.7,508.2L416.2,508.2L416.7,508.2L417.2,508.2L417.7,508.2L418.2,508.2L418.7,508.2L419.2,508.2L419.7,508.2L420.2,508.2L420.7,508.2L421.2,508.2L421.7,508.2L422.2,508.2L422.7,508.2L423.2,508.2L423.7,508.2L424.2,508.2L424.7,508.2L425.2,508.2L425.7,508.2L426.2,508.2L426.7,508.2L427.2,508.2L427.7,508.2L428.2,508.2L428.7,508.2L429.2,508.2L429.7,508.2L430.2,508.2L430.7,508.2L431.2,508.2L431.7,508.2L432.2,508.2L432.7,508.2L433.2,508.2L433.7,508.2L434.2,508.2L434.7,508.2L435.2,508.2L435.7,508.2L436.2,508.2L436.7,508.2L437.2,508.2" fill="none" stroke="#3fbf80" stroke-width="1.0" stroke-linejoin="round" opacity="1.0"/>
<path d="M256.2,508.2L256.7,508.2L257.2,508.2L257.7,508.2L258.2,508.2L258.7,508.2L259.2,508.2L259.7,508.2L260.2,508.2L260.7,508.2L261.2,508.2L261.7,508.2L262.2,508.2L262.7,508.2L263.2,508.2L263.7,508.2L264.2,508.2L264.7,508.2L265.2,508.2L265.7,508.2L266.2,508.2L266.7,508.2L267.2,508.2L267.7,508.2L268.2,508.2L268.7,508.2L269.2,508.2L269.7,508.2L270.2,508.2L270.7,508.2L271.2,508.2L271.7,508.2L272.2,508.2L272.7,508.2L273.2,508.2L273.7,508.2L274.2,508.2L274.7,508.2L275.2,508.2L275.7,508.2L276.2,508.2L276.7,508.2L277.2,508.2L277.7,508.2L278.2,508.1L278.7,508.1L279.2,508.1L279.7,508.1L280.2,508.1L280.7,508.1L281.2,508.1L281.7,508.0L282.2,508.0L282.7,508.0L283.2,507.9L283.7,507.9L284.2,507.8L284.7,507.7L285.2,507.7L285.7,507.6L286.2,507.5L286.7,507.4L287.2,507.3L287.7,507.1L288.2,507.0L288.7,506.8L289.2,506.7L289.7,506.5L290.2,506.2L290.7,506.0L291.2,505.7L291.7,505.5L292.2,505.1L292.7,504.8L293.2,504.4L293.7,504.0L294.2,503.6L294.7,503.2L295.2,502.7L295.7,502.2L296.2,501.7L296.7,501.1L297.2,500.5L297.7,499.9L298.2,499.3L298.7,498.6L299.2,498.0L299.7,497.3L300.2,496.6L300.7,495.9L301.2,495.1L301.7,494.4L302.2,493.7L302.7,492.9L303.2,492.2L303.7,491.5L304.2,490.8L304.7,490.1L305.2,489.4L305.7,488.8L306.2,488.2L306.7,487.6L307.2,487.1L307.7,486.6L308.2,486.1L308.7,485.7L309.2,485.3L309.7,485.0L310.2,484.7L310.7,484.5L311.2,484.3L311.7,484.2L312.2,484.1L312.7,484.1L313.2,484.1L313.7,484.2L314.2,484.3L314.7,484.5L315.2,484.7L315.7,484.9L316.2,485.2L316.7,485.5L317.2,485.8L317.7,486.2L318.2,486.6L318.7,487.0L319.2,487.4L319.7,487.9L320.2,488.3L320.7,488.8L321.2,489.3L321.7,489.7L322.2,490.2L322.7,490.7L323.2,491.2L323.7,491.6L324.2,492.1L324.7,492.5L325.2,493.0L325.7,493.4L326.2,493.9L326.7,494.3L327.2,494.7L327.7,495.1L328.2,495.5L328.7,495.9L329.2,496.3L329.7,496.7L330.2,497.0L330.7,497.4L331.2,497.7L331.7,498.1L332.2,498.4L332.7,498.7L333.2,499.0L333.7,499.3L334.2,499.6L334.7,499.9L335.2,500.2L335.7,500.5L336.2,500.8L336.7,501.1L337.2,501.4L337.7,501.6L338.2,501.9L338.7,502.2L339.2,502.4L339.7,502.7L340.2,502.9L340.7,503.2L341.2,503.4L341.7,503.7L342.2,503.9L342.7,504.1L343.2,504.3L343.7,504.6L344.2,504.8L344.7,505.0L345.2,505.2L345.7,505.4L346.2,505.6L346.7,505.7L347.2,505.9L347.7,506.1L348.2,506.2L348.7,506.4L349.2,506.5L349.7,506.6L350.2,506.8L350.7,506.9L351.2,507.0L351.7,507.1L352.2,507.2L352.7,507.3L353.2,507.4L353.7,507.5L354.2,507.5L354.7,507.6L355.2,507.7L355.7,507.7L356.2,507.8L356.7,507.8L357.2,507.9L357.7,507.9L358.2,507.9L358.7,508.0L359.2,508.0L359.7,508.0L360.2,508.0L360.7,508.1L361.2,508.1L361.7,508.1L362.2,508.1L362.7,508.1L363.2,508.1L363.7,508.1L364.2,508.1L364.7,508.1L365.2,508.1L365.7,508.1L366.2,508.1L366.7,508.1L367.2,508.1L367.7,508.1L368.2,508.0L368.7,508.0L369.2,508.0L369.7,507.9L370.2,507.9L370.7,507.8L371.2,507.8L371.7,507.7L372.2,507.7L372.7,507.6L373.2,507.5L373.7,507.4L374.2,507.3L374.7,507.2L375.2,507.0L375.7,506.9L376.2,506.7L376.7,506.6L377.2,506.4L377.7,506.3L378.2,506.1L378.7,505.9L379.2,505.7L379.7,505.5L380.2,505.3L380.7,505.1L381.2,504.9L381.7,504.7L382.2,504.5L382.7,504.3L383.2,504.1L383.7,504.0L384.2,503.8L384.7,503.7L385.2,503.5L385.7,503.4L386.2,503.3L386.7,503.3L387.2,503.2L387.7,503.2L388.2,503.2L388.7,503.2L389.2,503.3L389.7,503.3L390.2,503.4L390.7,503.5L391.2,503.6L391.7,503.8L392.2,503.9L392.7,504.1L393.2,504.3L393.7,504.5L394.2,504.6L394.7,504.8L395.2,505.0L395.7,505.2L396.2,505.4L396.7,505.6L397.2,505.8L397.7,506.0L398.2,506.2L398.7,506.4L399.2,506.6L399.7,506.7L400.2,506.9L400.7,507.0L401.2,507.1L401.7,507.3L402.2,507.4L402.7,507.5L403.2,507.6L403.7,507.6L404.2,507.7L404.7,507.8L405.2,507.8L405.7,507.9L406.2,507.9L406.7,508.0L407.2,508.0L407.7,508.0L408.2,508.1L408.7,508.1L409.2,508.1L409.7,508.1L410.2,508.1L410.7,508.1L411.2,508.2L411.7,508.2L412.2,508.2L412.7,508.2L413.2,508.2L413.7,508.2L414.2,508.2L414.7,508.2L415.2,508.2L415.7,508.2L416.2,508.2L416.7,508.2L417.2,508.2L417.7,508.2L418.2,508.2L418.7,508.2L419.2,508.2L419.7,508.2L420.2,508.2L420.7,508.2L421.2,508.2L421.7,508.2L422.2,508.2L422.7,508.2L423.2,508.2L423.7,508.2L424.2,508.2L424.7,508.2L425.2,508.2L425.7,508.2L426.2,508.2L426.7,508.2L427.2,508.2L427.7,508.2L428.2,508.2L428.7,508.2L429.2,508.2L429.7,508.2L430.2,508.2L430.7,508.2L431.2,508.2L431.7,508.2L432.2,508.2L432.7,508.2L433.2,508.2L433.7,508.2L434.2,508.2L434.7,508.2L435.2,508.2L435.7,508.2L436.2,508.2L436.7,508.2L437.2,508.2" fill="none" stroke="#f26464" stroke-width="1.1" stroke-linejoin="round" opacity="1.0"/>
<line x1="309.80" y1="480.40" x2="309.80" y2="494.70" stroke="#666" stroke-width="0.8"/>
<line x1="337.30" y1="495.60" x2="337.30" y2="507.30" stroke="#666" stroke-width="0.8"/>
<line x1="388.00" y1="499.00" x2="388.00" y2="508.00" stroke="#666" stroke-width="0.8"/>
<rect x="255.6" y="374.9" width="182.6" height="147.0" fill="none" stroke="#686868" stroke-width="1.5"/>
<line x1="255.60" y1="521.9" x2="255.60" y2="524.9" stroke="#686868" stroke-width="1"/>
<text x="255.60" y="532.08" font-size="6.6" text-anchor="middle" font-weight="bold" fill="#111" stroke="#111" stroke-width="0.28">282</text>
<line x1="296.10" y1="521.9" x2="296.10" y2="524.9" stroke="#686868" stroke-width="1"/>
<text x="296.10" y="532.08" font-size="6.6" text-anchor="middle" font-weight="bold" fill="#111" stroke="#111" stroke-width="0.28">284</text>
<line x1="336.60" y1="521.9" x2="336.60" y2="524.9" stroke="#686868" stroke-width="1"/>
<text x="336.60" y="532.08" font-size="6.6" text-anchor="middle" font-weight="bold" fill="#111" stroke="#111" stroke-width="0.28">286</text>
<line x1="377.10" y1="521.9" x2="377.10" y2="524.9" stroke="#686868" stroke-width="1"/>
<text x="377.10" y="532.08" font-size="6.6" text-anchor="middle" font-weight="bold" fill="#111" stroke="#111" stroke-width="0.28">288</text>
<line x1="417.60" y1="521.9" x2="417.60" y2="524.9" stroke="#686868" stroke-width="1"/>
<text x="417.60" y="532.08" font-size="6.6" text-anchor="middle" font-weight="bold" fill="#111" stroke="#111" stroke-width="0.28">290</text>
<line x1="275.85" y1="521.9" x2="275.85" y2="523.9" stroke="#686868" stroke-width="1"/>
<line x1="316.35" y1="521.9" x2="316.35" y2="523.9" stroke="#686868" stroke-width="1"/>
<line x1="356.85" y1="521.9" x2="356.85" y2="523.9" stroke="#686868" stroke-width="1"/>
<line x1="397.35" y1="521.9" x2="397.35" y2="523.9" stroke="#686868" stroke-width="1"/>
<line x1="437.85" y1="521.9" x2="437.85" y2="523.9" stroke="#686868" stroke-width="1"/>
<text x="344.70" y="541.82" font-size="7.6" text-anchor="middle" font-weight="bold" fill="#111" stroke="#111" stroke-width="0.28">Binding Energy(eV)</text>
<text x="248.50" y="449.32" font-size="7.6" text-anchor="middle" font-weight="bold" fill="#111" stroke="#111" stroke-width="0.28" transform="rotate(-90 248.5 446.8)">Intensity(a.u.)</text>
<text x="260.30" y="386.12" font-size="7.6" text-anchor="start" font-weight="bold" fill="#111" stroke="#111" stroke-width="0.28">(f)</text>
<text x="424.80" y="386.01" font-size="7.9" text-anchor="end" font-weight="bold" fill="#111" stroke="#111" stroke-width="0.28">C 1s</text>
<text x="398.70" y="415.99" font-size="6.3" text-anchor="start" font-weight="bold" fill="#111" stroke="#111" stroke-width="0.28"><tspan font-size="6.3" dy="-0.00">BiOBr</tspan><tspan font-size="4.28" stroke-width="0.15" dy="1.76">0.15</tspan><tspan font-size="6.3" dy="-1.76">I</tspan><tspan font-size="4.28" stroke-width="0.15" dy="1.76">0.85</tspan></text>
<text x="417.90" y="462.79" font-size="6.3" text-anchor="start" font-weight="bold" fill="#111" stroke="#111" stroke-width="0.28"><tspan font-size="6.3" dy="-0.00">BiOI</tspan></text>
<text x="416.20" y="505.19" font-size="6.3" text-anchor="start" font-weight="bold" fill="#111" stroke="#111" stroke-width="0.28"><tspan font-size="6.3" dy="-0.00">BiOBr</tspan></text>
<text x="300.90" y="487.08" font-size="6.6" text-anchor="middle" font-weight="bold" fill="#111" stroke="#111" stroke-width="0.28">C-C</text>
<text x="345.60" y="498.68" font-size="6.6" text-anchor="middle" font-weight="bold" fill="#111" stroke="#111" stroke-width="0.28">C-O</text>
<text x="390.00" y="495.88" font-size="6.6" text-anchor="middle" font-weight="bold" fill="#111" stroke="#111" stroke-width="0.28">O-C=O</text>
</svg></body></html>
